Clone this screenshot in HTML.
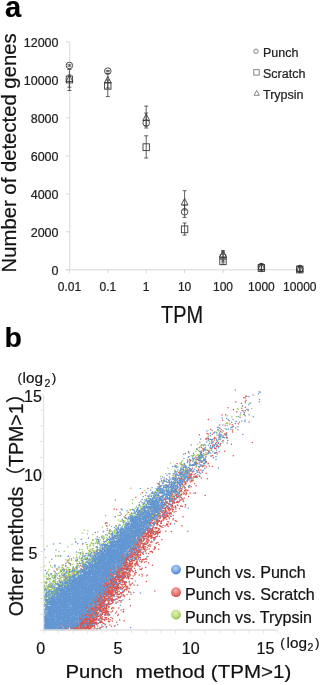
<!DOCTYPE html>
<html><head><meta charset="utf-8"><title>Figure</title>
<style>
html,body{margin:0;padding:0;background:#fff;}
body{width:321px;height:685px;overflow:hidden;}
svg{display:block;font-family:'Liberation Sans', Arial, Helvetica, sans-serif;}
text{stroke:#222;stroke-width:0.22px;}
</style></head>
<body>
<svg width="321" height="685" viewBox="0 0 321 685">
<rect width="321" height="685" fill="#fff"/>
<text x="5" y="17" font-size="29" font-weight="bold" fill="#000">a</text>
<line x1="69.8" y1="42.0" x2="69.8" y2="269.8" stroke="#d8d8d8" stroke-width="1"/>
<line x1="65.8" y1="269.8" x2="299.79999999999995" y2="269.8" stroke="#d8d8d8" stroke-width="1"/>
<line x1="65.8" y1="269.8" x2="69.8" y2="269.8" stroke="#d8d8d8" stroke-width="1"/>
<text x="58.5" y="274.8" font-size="12.5" text-anchor="end" fill="#222">0</text>
<line x1="65.8" y1="231.8" x2="69.8" y2="231.8" stroke="#d8d8d8" stroke-width="1"/>
<text x="58.5" y="236.8" font-size="12.5" text-anchor="end" fill="#222">2000</text>
<line x1="65.8" y1="193.9" x2="69.8" y2="193.9" stroke="#d8d8d8" stroke-width="1"/>
<text x="58.5" y="198.9" font-size="12.5" text-anchor="end" fill="#222">4000</text>
<line x1="65.8" y1="155.9" x2="69.8" y2="155.9" stroke="#d8d8d8" stroke-width="1"/>
<text x="58.5" y="160.9" font-size="12.5" text-anchor="end" fill="#222">6000</text>
<line x1="65.8" y1="117.9" x2="69.8" y2="117.9" stroke="#d8d8d8" stroke-width="1"/>
<text x="58.5" y="122.9" font-size="12.5" text-anchor="end" fill="#222">8000</text>
<line x1="65.8" y1="80.0" x2="69.8" y2="80.0" stroke="#d8d8d8" stroke-width="1"/>
<text x="58.5" y="85.0" font-size="12.5" text-anchor="end" fill="#222">10000</text>
<line x1="65.8" y1="42.0" x2="69.8" y2="42.0" stroke="#d8d8d8" stroke-width="1"/>
<text x="58.5" y="47.0" font-size="12.5" text-anchor="end" fill="#222">12000</text>
<line x1="69.4" y1="269.8" x2="69.4" y2="273.3" stroke="#d8d8d8" stroke-width="1"/>
<text x="69.4" y="291" font-size="12" text-anchor="middle" fill="#222">0.01</text>
<line x1="107.8" y1="269.8" x2="107.8" y2="273.3" stroke="#d8d8d8" stroke-width="1"/>
<text x="107.8" y="291" font-size="12" text-anchor="middle" fill="#222">0.1</text>
<line x1="146.2" y1="269.8" x2="146.2" y2="273.3" stroke="#d8d8d8" stroke-width="1"/>
<text x="146.2" y="291" font-size="12" text-anchor="middle" fill="#222">1</text>
<line x1="184.6" y1="269.8" x2="184.6" y2="273.3" stroke="#d8d8d8" stroke-width="1"/>
<text x="184.6" y="291" font-size="12" text-anchor="middle" fill="#222">10</text>
<line x1="223.0" y1="269.8" x2="223.0" y2="273.3" stroke="#d8d8d8" stroke-width="1"/>
<text x="223.0" y="291" font-size="12" text-anchor="middle" fill="#222">100</text>
<line x1="261.4" y1="269.8" x2="261.4" y2="273.3" stroke="#d8d8d8" stroke-width="1"/>
<text x="261.4" y="291" font-size="12" text-anchor="middle" fill="#222">1000</text>
<line x1="299.8" y1="269.8" x2="299.8" y2="273.3" stroke="#d8d8d8" stroke-width="1"/>
<text x="299.8" y="291" font-size="12" text-anchor="middle" fill="#222">10000</text>
<text x="161" y="323.2" font-size="23" fill="#111" textLength="42" lengthAdjust="spacingAndGlyphs">TPM</text>
<text transform="translate(15.8,272.4) rotate(-90)" x="0" y="0" font-size="20.3" fill="#111">Number of detected genes</text>
<circle cx="256" cy="51.3" r="2.2" fill="none" stroke="#666" stroke-width="0.8"/>
<text x="263" y="56.8" font-size="12.5" fill="#222">Punch</text>
<rect x="253.8" y="69.7" width="5.4" height="5.4" fill="none" stroke="#666" stroke-width="0.8"/>
<text x="263" y="78" font-size="12.5" fill="#222">Scratch</text>
<path d="M256.7 90.5 L259.3 95.3 L254.1 95.3 Z" fill="none" stroke="#666" stroke-width="0.8"/>
<text x="263" y="98.8" font-size="12.5" fill="#222">Trypsin</text>
<line x1="69.4" y1="64.8" x2="69.4" y2="66.2" stroke="#3a3a3a" stroke-width="0.8"/>
<line x1="67.4" y1="64.8" x2="71.4" y2="64.8" stroke="#3a3a3a" stroke-width="0.8"/>
<line x1="67.4" y1="66.2" x2="71.4" y2="66.2" stroke="#3a3a3a" stroke-width="0.8"/>
<line x1="69.4" y1="75.0" x2="69.4" y2="87.2" stroke="#3a3a3a" stroke-width="0.8"/>
<line x1="67.4" y1="75.0" x2="71.4" y2="75.0" stroke="#3a3a3a" stroke-width="0.8"/>
<line x1="67.4" y1="87.2" x2="71.4" y2="87.2" stroke="#3a3a3a" stroke-width="0.8"/>
<line x1="69.4" y1="69.5" x2="69.4" y2="90.5" stroke="#3a3a3a" stroke-width="0.8"/>
<line x1="67.4" y1="69.5" x2="71.4" y2="69.5" stroke="#3a3a3a" stroke-width="0.8"/>
<line x1="67.4" y1="90.5" x2="71.4" y2="90.5" stroke="#3a3a3a" stroke-width="0.8"/>
<circle cx="69.4" cy="65.5" r="3.3" fill="none" stroke="#3a3a3a" stroke-width="0.9"/>
<rect x="66.2" y="76.1" width="6.4" height="6.8" fill="none" stroke="#3a3a3a" stroke-width="0.9"/>
<path d="M69.4 74.9 L72.80000000000001 81.5 L66.0 81.5 Z" fill="none" stroke="#3a3a3a" stroke-width="0.9"/>
<line x1="107.8" y1="70.4" x2="107.8" y2="71.8" stroke="#3a3a3a" stroke-width="0.8"/>
<line x1="105.8" y1="70.4" x2="109.8" y2="70.4" stroke="#3a3a3a" stroke-width="0.8"/>
<line x1="105.8" y1="71.8" x2="109.8" y2="71.8" stroke="#3a3a3a" stroke-width="0.8"/>
<line x1="107.8" y1="80.0" x2="107.8" y2="96.6" stroke="#3a3a3a" stroke-width="0.8"/>
<line x1="105.8" y1="80.0" x2="109.8" y2="80.0" stroke="#3a3a3a" stroke-width="0.8"/>
<line x1="105.8" y1="96.6" x2="109.8" y2="96.6" stroke="#3a3a3a" stroke-width="0.8"/>
<line x1="107.8" y1="73.5" x2="107.8" y2="88.0" stroke="#3a3a3a" stroke-width="0.8"/>
<line x1="105.8" y1="73.5" x2="109.8" y2="73.5" stroke="#3a3a3a" stroke-width="0.8"/>
<line x1="105.8" y1="88.0" x2="109.8" y2="88.0" stroke="#3a3a3a" stroke-width="0.8"/>
<circle cx="107.8" cy="71.1" r="3.3" fill="none" stroke="#3a3a3a" stroke-width="0.9"/>
<rect x="104.6" y="82.39999999999999" width="6.4" height="6.8" fill="none" stroke="#3a3a3a" stroke-width="0.9"/>
<path d="M107.8 76.4 L111.2 83.0 L104.39999999999999 83.0 Z" fill="none" stroke="#3a3a3a" stroke-width="0.9"/>
<line x1="146.2" y1="113.0" x2="146.2" y2="128.0" stroke="#3a3a3a" stroke-width="0.8"/>
<line x1="144.2" y1="113.0" x2="148.2" y2="113.0" stroke="#3a3a3a" stroke-width="0.8"/>
<line x1="144.2" y1="128.0" x2="148.2" y2="128.0" stroke="#3a3a3a" stroke-width="0.8"/>
<line x1="146.2" y1="135.8" x2="146.2" y2="158.0" stroke="#3a3a3a" stroke-width="0.8"/>
<line x1="144.2" y1="135.8" x2="148.2" y2="135.8" stroke="#3a3a3a" stroke-width="0.8"/>
<line x1="144.2" y1="158.0" x2="148.2" y2="158.0" stroke="#3a3a3a" stroke-width="0.8"/>
<line x1="146.2" y1="106.1" x2="146.2" y2="126.0" stroke="#3a3a3a" stroke-width="0.8"/>
<line x1="144.2" y1="106.1" x2="148.2" y2="106.1" stroke="#3a3a3a" stroke-width="0.8"/>
<line x1="144.2" y1="126.0" x2="148.2" y2="126.0" stroke="#3a3a3a" stroke-width="0.8"/>
<circle cx="146.2" cy="122.9" r="3.3" fill="none" stroke="#3a3a3a" stroke-width="0.9"/>
<rect x="143.0" y="143.79999999999998" width="6.4" height="6.8" fill="none" stroke="#3a3a3a" stroke-width="0.9"/>
<path d="M146.2 113.9 L149.6 120.5 L142.79999999999998 120.5 Z" fill="none" stroke="#3a3a3a" stroke-width="0.9"/>
<line x1="184.6" y1="205.0" x2="184.6" y2="217.4" stroke="#3a3a3a" stroke-width="0.8"/>
<line x1="182.6" y1="205.0" x2="186.6" y2="205.0" stroke="#3a3a3a" stroke-width="0.8"/>
<line x1="182.6" y1="217.4" x2="186.6" y2="217.4" stroke="#3a3a3a" stroke-width="0.8"/>
<line x1="184.6" y1="223.0" x2="184.6" y2="235.1" stroke="#3a3a3a" stroke-width="0.8"/>
<line x1="182.6" y1="223.0" x2="186.6" y2="223.0" stroke="#3a3a3a" stroke-width="0.8"/>
<line x1="182.6" y1="235.1" x2="186.6" y2="235.1" stroke="#3a3a3a" stroke-width="0.8"/>
<line x1="184.6" y1="190.7" x2="184.6" y2="210.0" stroke="#3a3a3a" stroke-width="0.8"/>
<line x1="182.6" y1="190.7" x2="186.6" y2="190.7" stroke="#3a3a3a" stroke-width="0.8"/>
<line x1="182.6" y1="210.0" x2="186.6" y2="210.0" stroke="#3a3a3a" stroke-width="0.8"/>
<circle cx="184.6" cy="211.8" r="3.3" fill="none" stroke="#3a3a3a" stroke-width="0.9"/>
<rect x="181.4" y="225.9" width="6.4" height="6.8" fill="none" stroke="#3a3a3a" stroke-width="0.9"/>
<path d="M184.6 198.4 L188.0 205.0 L181.2 205.0 Z" fill="none" stroke="#3a3a3a" stroke-width="0.9"/>
<line x1="223.0" y1="252.0" x2="223.0" y2="262.0" stroke="#3a3a3a" stroke-width="0.8"/>
<line x1="221.0" y1="252.0" x2="225.0" y2="252.0" stroke="#3a3a3a" stroke-width="0.8"/>
<line x1="221.0" y1="262.0" x2="225.0" y2="262.0" stroke="#3a3a3a" stroke-width="0.8"/>
<line x1="223.0" y1="257.5" x2="223.0" y2="264.3" stroke="#3a3a3a" stroke-width="0.8"/>
<line x1="221.0" y1="257.5" x2="225.0" y2="257.5" stroke="#3a3a3a" stroke-width="0.8"/>
<line x1="221.0" y1="264.3" x2="225.0" y2="264.3" stroke="#3a3a3a" stroke-width="0.8"/>
<line x1="223.0" y1="250.7" x2="223.0" y2="258.0" stroke="#3a3a3a" stroke-width="0.8"/>
<line x1="221.0" y1="250.7" x2="225.0" y2="250.7" stroke="#3a3a3a" stroke-width="0.8"/>
<line x1="221.0" y1="258.0" x2="225.0" y2="258.0" stroke="#3a3a3a" stroke-width="0.8"/>
<circle cx="223.0" cy="257.0" r="3.3" fill="none" stroke="#3a3a3a" stroke-width="0.9"/>
<rect x="219.8" y="257.90000000000003" width="6.4" height="6.8" fill="none" stroke="#3a3a3a" stroke-width="0.9"/>
<path d="M223.0 250.4 L226.4 257.0 L219.6 257.0 Z" fill="none" stroke="#3a3a3a" stroke-width="0.9"/>
<line x1="261.4" y1="264.0" x2="261.4" y2="270.0" stroke="#3a3a3a" stroke-width="0.8"/>
<line x1="259.4" y1="264.0" x2="263.4" y2="264.0" stroke="#3a3a3a" stroke-width="0.8"/>
<line x1="259.4" y1="270.0" x2="263.4" y2="270.0" stroke="#3a3a3a" stroke-width="0.8"/>
<line x1="261.4" y1="265.0" x2="261.4" y2="271.0" stroke="#3a3a3a" stroke-width="0.8"/>
<line x1="259.4" y1="265.0" x2="263.4" y2="265.0" stroke="#3a3a3a" stroke-width="0.8"/>
<line x1="259.4" y1="271.0" x2="263.4" y2="271.0" stroke="#3a3a3a" stroke-width="0.8"/>
<line x1="261.4" y1="263.7" x2="261.4" y2="269.5" stroke="#3a3a3a" stroke-width="0.8"/>
<line x1="259.4" y1="263.7" x2="263.4" y2="263.7" stroke="#3a3a3a" stroke-width="0.8"/>
<line x1="259.4" y1="269.5" x2="263.4" y2="269.5" stroke="#3a3a3a" stroke-width="0.8"/>
<circle cx="261.4" cy="267.0" r="3.3" fill="none" stroke="#3a3a3a" stroke-width="0.9"/>
<rect x="258.2" y="264.6" width="6.4" height="6.8" fill="none" stroke="#3a3a3a" stroke-width="0.9"/>
<path d="M261.4 262.9 L264.79999999999995 269.5 L258.0 269.5 Z" fill="none" stroke="#3a3a3a" stroke-width="0.9"/>
<line x1="299.8" y1="266.0" x2="299.8" y2="271.5" stroke="#3a3a3a" stroke-width="0.8"/>
<line x1="297.8" y1="266.0" x2="301.8" y2="266.0" stroke="#3a3a3a" stroke-width="0.8"/>
<line x1="297.8" y1="271.5" x2="301.8" y2="271.5" stroke="#3a3a3a" stroke-width="0.8"/>
<line x1="299.8" y1="267.0" x2="299.8" y2="272.5" stroke="#3a3a3a" stroke-width="0.8"/>
<line x1="297.8" y1="267.0" x2="301.8" y2="267.0" stroke="#3a3a3a" stroke-width="0.8"/>
<line x1="297.8" y1="272.5" x2="301.8" y2="272.5" stroke="#3a3a3a" stroke-width="0.8"/>
<line x1="299.8" y1="266.0" x2="299.8" y2="271.0" stroke="#3a3a3a" stroke-width="0.8"/>
<line x1="297.8" y1="266.0" x2="301.8" y2="266.0" stroke="#3a3a3a" stroke-width="0.8"/>
<line x1="297.8" y1="271.0" x2="301.8" y2="271.0" stroke="#3a3a3a" stroke-width="0.8"/>
<circle cx="299.8" cy="268.8" r="3.3" fill="none" stroke="#3a3a3a" stroke-width="0.9"/>
<rect x="296.6" y="266.1" width="6.4" height="6.8" fill="none" stroke="#3a3a3a" stroke-width="0.9"/>
<path d="M299.8 264.9 L303.2 271.5 L296.40000000000003 271.5 Z" fill="none" stroke="#3a3a3a" stroke-width="0.9"/>
<text x="4.5" y="347" font-size="28.5" font-weight="bold" fill="#000">b</text>
<g fill="none" stroke-width="1.5" stroke-linecap="round"><path stroke="#d9534e" d="M63.7 626.3h0M64.2 626.7h0M70.4 627.3h0M67.8 627.7h0M65.4 626.0h0M43.7 622.6h0M68.3 629.9h0M65.5 624.1h0M65.8 624.6h0M60.7 627.4h0M52.3 628.8h0M63.9 629.8h0M51.3 612.1h0M55.4 619.2h0M43.9 629.5h0M66.7 629.6h0M70.7 629.3h0M62.6 625.1h0M71.2 629.6h0M71.4 629.2h0M62.5 629.7h0M70.8 627.9h0M45.7 629.8h0M56.0 626.8h0M62.6 628.2h0M63.5 622.7h0M62.8 625.9h0M57.0 629.9h0M46.4 609.0h0M67.0 628.9h0M60.0 624.6h0M64.1 626.2h0M66.5 628.7h0M66.2 627.6h0M70.6 629.3h0M68.7 625.8h0M67.2 628.2h0M49.6 613.6h0M65.2 621.9h0M65.7 627.1h0M69.9 630.0h0M60.6 625.2h0M63.7 624.7h0M57.1 627.4h0M65.0 628.7h0M61.1 626.7h0M68.9 627.1h0M90.9 627.9h0M90.0 621.2h0M99.7 628.5h0M92.3 626.8h0M87.5 623.4h0M93.3 629.1h0M96.7 624.3h0M88.1 628.4h0M86.5 629.5h0M87.6 620.7h0M92.9 623.1h0M45.9 597.3h0M87.8 621.2h0M92.9 620.6h0M92.2 620.4h0M80.4 619.5h0M85.5 614.3h0M83.4 624.8h0M91.0 625.7h0M85.4 615.6h0M87.9 625.5h0M93.2 621.1h0M78.2 629.1h0M80.2 620.0h0M81.0 620.0h0M96.6 630.0h0M86.5 627.5h0M97.9 628.5h0M90.2 629.8h0M91.0 627.2h0M89.4 616.9h0M77.3 627.2h0M93.3 621.6h0M88.6 621.7h0M45.5 595.4h0M87.4 616.9h0M83.8 619.8h0M79.3 618.5h0M86.1 618.5h0M82.8 625.7h0M81.3 616.9h0M94.3 624.0h0M78.1 627.4h0M84.2 629.5h0M94.3 624.0h0M51.3 585.2h0M88.0 621.0h0M87.7 626.2h0M74.7 629.9h0M85.6 623.9h0M91.0 625.6h0M45.3 570.4h0M85.9 617.1h0M88.7 618.3h0M85.8 615.6h0M46.9 595.5h0M96.3 623.7h0M88.0 621.3h0M95.7 623.2h0M93.8 623.8h0M92.5 626.5h0M90.9 626.1h0M96.2 629.0h0M91.6 629.4h0M89.9 621.3h0M80.7 629.7h0M83.9 619.7h0M82.0 614.5h0M90.6 625.2h0M94.8 627.4h0M89.2 628.1h0M72.2 627.8h0M88.7 628.6h0M97.7 626.1h0M91.2 623.6h0M86.2 621.3h0M90.2 629.5h0M83.0 616.7h0M82.9 624.2h0M84.3 629.2h0M85.5 617.6h0M88.3 622.7h0M80.4 628.0h0M87.8 622.6h0M90.6 626.7h0M85.1 620.5h0M80.7 627.0h0M86.9 614.5h0M77.4 628.4h0M86.8 628.3h0M80.2 629.1h0M80.1 626.6h0M90.0 628.0h0M76.1 627.9h0M83.2 623.6h0M89.4 616.3h0M71.2 628.0h0M81.2 623.3h0M79.5 620.1h0M91.4 621.6h0M87.9 624.7h0M72.9 628.4h0M86.7 628.3h0M75.7 628.9h0M83.3 620.1h0M91.5 620.0h0M70.7 623.5h0M85.8 625.0h0M86.8 619.0h0M86.5 619.8h0M84.0 625.1h0M87.2 622.4h0M94.8 622.5h0M73.2 624.6h0M85.2 620.0h0M89.8 629.5h0M73.1 626.0h0M87.5 614.2h0M89.7 618.6h0M89.3 619.7h0M50.0 593.4h0M87.0 617.9h0M83.2 614.5h0M84.2 626.5h0M77.5 625.6h0M70.9 622.9h0M69.6 626.2h0M85.8 628.0h0M78.4 629.7h0M91.4 621.6h0M85.7 625.7h0M91.8 624.1h0M94.8 623.5h0M84.4 619.3h0M94.4 629.3h0M85.5 623.0h0M80.7 628.8h0M86.4 629.6h0M86.0 620.1h0M77.5 629.0h0M81.1 618.9h0M81.2 626.8h0M51.7 603.5h0M80.8 625.7h0M89.1 625.9h0M85.2 627.8h0M72.3 625.8h0M88.0 616.2h0M82.9 621.0h0M86.4 613.7h0M81.6 624.5h0M83.7 627.6h0M73.7 628.3h0M80.6 625.3h0M82.2 621.1h0M76.4 629.2h0M84.6 625.0h0M85.3 627.6h0M88.8 620.8h0M88.7 629.6h0M84.8 629.2h0M83.6 629.4h0M82.5 623.3h0M74.6 628.0h0M90.0 617.7h0M80.7 628.3h0M85.1 622.3h0M85.7 619.7h0M88.7 615.6h0M81.6 629.7h0M81.1 620.0h0M89.2 622.9h0M88.3 626.9h0M83.5 624.4h0M77.1 629.7h0M61.1 586.4h0M82.0 625.2h0M83.1 627.8h0M73.7 627.4h0M78.7 627.8h0M70.3 626.7h0M86.0 616.0h0M92.2 621.7h0M73.8 625.2h0M83.3 622.2h0M93.0 625.7h0M84.4 629.0h0M85.8 614.0h0M92.2 623.8h0M86.8 623.6h0M74.4 628.7h0M72.8 624.2h0M82.3 629.3h0M84.7 629.1h0M46.8 582.0h0M82.5 616.4h0M86.0 621.0h0M92.9 623.5h0M79.1 629.7h0M96.2 624.3h0M82.4 617.1h0M72.8 622.4h0M69.2 625.7h0M89.8 622.9h0M83.0 613.5h0M88.2 615.1h0M83.6 620.5h0M92.0 622.8h0M87.4 616.4h0M79.8 628.5h0M80.4 623.3h0M80.8 624.0h0M87.1 618.1h0M85.4 615.5h0M82.8 628.9h0M84.8 618.5h0M88.8 624.1h0M54.1 595.4h0M85.8 619.8h0M78.3 625.5h0M89.2 621.4h0M81.7 617.8h0M84.0 623.5h0M72.8 626.6h0M81.7 622.5h0M80.3 623.7h0M81.9 627.6h0M86.0 628.1h0M84.2 624.4h0M83.1 619.2h0M83.4 614.4h0M89.2 624.4h0M82.4 628.7h0M77.6 629.6h0M84.6 621.4h0M75.3 626.2h0M91.5 623.4h0M88.1 627.5h0M94.6 622.4h0M90.3 623.8h0M79.8 629.3h0M92.0 629.7h0M83.7 619.1h0M82.5 619.4h0M85.5 614.6h0M83.1 616.3h0M88.9 619.4h0M88.8 618.1h0M84.1 615.3h0M85.0 615.4h0M83.8 618.7h0M89.4 625.8h0M79.1 619.4h0M83.4 623.4h0M79.0 622.5h0M46.3 594.8h0M81.6 616.9h0M79.1 626.4h0M90.0 629.3h0M83.5 624.0h0M80.7 618.4h0M76.2 620.9h0M87.4 618.6h0M88.1 620.8h0M83.9 616.2h0M86.5 626.6h0M66.3 622.8h0M79.6 623.4h0M82.2 615.2h0M84.5 627.4h0M88.4 615.3h0M83.8 622.2h0M82.1 621.5h0M78.0 624.5h0M82.0 621.7h0M81.3 625.6h0M90.8 624.9h0M87.6 619.5h0M75.1 628.1h0M78.8 626.8h0M86.6 613.7h0M77.8 628.5h0M82.5 616.2h0M95.2 622.9h0M88.9 629.7h0M81.7 620.5h0M76.8 625.2h0M76.6 626.2h0M89.5 624.0h0M88.9 625.2h0M78.9 623.7h0M87.2 621.5h0M80.2 624.4h0M82.0 622.5h0M94.0 626.2h0M87.5 627.5h0M89.6 621.1h0M76.1 627.6h0M91.4 622.9h0M81.4 622.1h0M79.7 625.4h0M84.8 628.9h0M83.9 624.1h0M92.2 625.4h0M91.1 627.7h0M94.3 625.3h0M89.2 618.6h0M86.0 624.2h0M80.1 621.7h0M87.9 624.0h0M86.2 617.8h0M72.7 627.1h0M81.8 624.1h0M79.2 620.7h0M90.4 624.0h0M82.4 615.7h0M86.2 629.0h0M69.3 620.1h0M83.6 626.9h0M90.2 622.1h0M84.8 617.5h0M73.1 629.4h0M86.3 629.0h0M85.4 618.9h0M82.8 626.0h0M90.9 620.3h0M85.3 619.7h0M89.7 626.2h0M77.6 624.2h0M81.3 621.1h0M87.2 622.0h0M86.8 615.1h0M91.2 623.4h0M79.7 613.5h0M87.5 624.4h0M84.1 627.4h0M75.8 629.0h0M81.3 619.0h0M90.7 618.1h0M79.3 618.4h0M77.8 629.3h0M87.1 626.1h0M84.8 622.8h0M82.6 626.0h0M66.3 622.9h0M91.5 622.5h0M80.8 628.4h0M90.1 619.6h0M94.2 626.6h0M87.9 624.2h0M85.3 619.1h0M90.0 619.8h0M72.9 623.7h0M92.7 622.9h0M77.5 626.8h0M93.5 621.8h0M108.3 620.9h0M104.4 605.5h0M102.1 619.8h0M102.4 612.4h0M106.2 605.7h0M96.8 609.8h0M84.6 602.2h0M66.6 577.5h0M98.5 598.4h0M104.7 615.0h0M109.9 624.9h0M96.5 601.0h0M101.5 610.7h0M101.4 618.5h0M106.2 617.6h0M69.2 563.5h0M91.8 606.7h0M102.8 612.6h0M96.9 617.4h0M108.8 611.8h0M100.8 621.1h0M90.3 610.8h0M108.7 618.9h0M103.5 623.6h0M96.9 617.1h0M98.9 597.4h0M97.7 614.0h0M99.7 599.2h0M96.7 622.6h0M93.0 612.8h0M105.0 617.4h0M107.0 608.6h0M90.0 616.2h0M103.2 604.8h0M101.8 607.2h0M69.3 571.7h0M100.6 598.8h0M103.2 602.1h0M104.4 607.0h0M99.7 603.4h0M112.6 618.4h0M112.3 620.9h0M100.9 598.5h0M101.7 618.4h0M63.4 585.3h0M99.9 602.5h0M103.6 605.7h0M98.7 605.2h0M105.9 607.1h0M99.5 610.8h0M96.2 619.3h0M95.5 604.0h0M56.8 568.9h0M106.8 611.9h0M92.8 614.5h0M95.4 608.0h0M104.7 612.3h0M97.2 601.6h0M100.6 604.9h0M90.3 608.5h0M98.9 613.1h0M98.3 619.3h0M92.4 600.0h0M100.6 614.2h0M103.6 612.3h0M91.6 608.1h0M94.7 617.7h0M102.7 601.2h0M96.9 595.2h0M91.4 615.7h0M112.8 611.1h0M95.0 602.1h0M102.1 605.3h0M98.0 613.4h0M95.8 619.4h0M104.8 612.7h0M97.0 624.1h0M91.2 599.8h0M107.7 614.6h0M91.2 599.9h0M102.4 619.0h0M100.1 609.1h0M106.7 612.9h0M92.3 614.6h0M103.6 602.8h0M105.8 618.8h0M98.3 608.8h0M99.5 597.5h0M95.1 620.4h0M92.1 608.1h0M63.9 569.5h0M102.2 602.3h0M97.1 606.9h0M55.1 577.4h0M94.4 618.1h0M100.5 608.9h0M92.9 614.8h0M100.6 610.2h0M96.9 609.1h0M91.9 612.5h0M75.6 578.3h0M64.7 569.6h0M95.3 619.8h0M106.3 604.3h0M92.4 617.0h0M94.2 617.8h0M99.5 615.9h0M94.1 610.0h0M93.8 610.7h0M61.7 574.3h0M71.5 576.8h0M101.3 605.9h0M94.5 601.0h0M86.8 608.0h0M98.2 604.0h0M59.5 576.0h0M91.8 609.7h0M100.4 599.5h0M99.8 599.7h0M102.8 613.0h0M94.9 617.6h0M91.6 613.0h0M70.7 582.0h0M104.6 615.1h0M102.4 610.7h0M101.8 611.7h0M105.0 603.9h0M104.3 604.0h0M104.1 606.5h0M93.7 602.3h0M97.7 594.7h0M104.5 602.0h0M94.2 619.7h0M102.2 599.3h0M103.8 609.2h0M94.6 606.4h0M108.9 606.4h0M97.1 616.1h0M101.9 609.3h0M109.4 614.6h0M108.7 606.8h0M86.8 608.5h0M102.8 603.4h0M98.2 600.6h0M102.7 599.3h0M101.1 597.8h0M86.9 605.9h0M88.0 611.8h0M95.0 608.7h0M111.1 612.1h0M60.8 582.1h0M51.4 573.8h0M97.1 601.8h0M95.8 610.3h0M93.9 620.7h0M94.8 608.6h0M108.7 621.6h0M100.6 602.1h0M93.1 607.5h0M105.8 604.6h0M87.2 610.8h0M108.2 615.7h0M96.4 596.6h0M103.5 608.7h0M89.7 616.1h0M104.1 610.2h0M91.8 604.0h0M105.0 601.7h0M81.0 581.6h0M89.9 610.9h0M106.9 613.0h0M100.7 597.6h0M103.2 603.8h0M74.1 573.6h0M108.4 618.7h0M96.4 608.4h0M99.6 622.0h0M92.1 609.1h0M88.1 610.5h0M97.3 595.4h0M96.1 622.5h0M105.0 611.9h0M107.2 605.4h0M87.8 613.5h0M98.0 607.1h0M106.7 619.3h0M103.0 603.5h0M98.1 607.5h0M68.6 575.2h0M106.6 626.8h0M101.6 603.5h0M105.6 609.3h0M102.2 608.6h0M72.2 572.9h0M93.7 619.7h0M95.1 615.9h0M109.3 606.7h0M102.5 608.9h0M74.5 574.8h0M93.3 619.7h0M99.3 608.4h0M101.7 622.0h0M101.6 627.1h0M89.1 613.2h0M100.3 622.7h0M107.6 613.0h0M86.9 611.0h0M103.3 600.5h0M107.9 611.5h0M102.4 616.9h0M91.4 616.9h0M93.0 618.7h0M106.2 604.9h0M99.6 607.9h0M95.9 604.9h0M101.3 618.2h0M67.1 561.9h0M105.8 609.7h0M92.3 609.0h0M101.4 615.3h0M95.0 598.3h0M106.6 605.1h0M102.2 613.5h0M94.3 608.8h0M104.6 619.5h0M96.5 606.0h0M106.3 615.0h0M101.9 606.2h0M88.7 612.1h0M96.0 621.9h0M110.3 619.7h0M98.8 607.3h0M98.3 623.4h0M94.3 619.4h0M95.1 602.1h0M94.2 606.9h0M102.6 614.2h0M101.8 609.0h0M106.5 610.3h0M99.9 601.9h0M99.3 610.1h0M98.9 601.7h0M115.0 625.8h0M94.1 611.1h0M90.6 609.7h0M103.0 600.2h0M97.6 595.5h0M89.3 613.6h0M92.7 609.9h0M98.0 601.5h0M96.9 616.2h0M102.6 603.0h0M96.6 608.9h0M102.5 614.2h0M106.4 607.8h0M96.7 616.0h0M91.6 605.7h0M98.5 598.8h0M102.9 600.9h0M99.2 600.4h0M89.4 615.6h0M89.6 611.3h0M63.9 587.6h0M96.3 615.9h0M105.3 608.7h0M97.3 614.2h0M88.2 608.7h0M108.7 607.2h0M106.1 613.3h0M91.0 615.4h0M104.9 623.9h0M101.9 614.5h0M93.4 602.1h0M96.6 620.1h0M66.8 569.9h0M87.4 606.8h0M101.1 607.3h0M91.0 608.7h0M97.9 609.4h0M92.3 617.3h0M95.0 611.9h0M91.5 607.1h0M114.6 625.9h0M95.9 613.1h0M100.6 603.4h0M104.6 601.4h0M95.9 602.5h0M94.8 608.2h0M100.1 607.6h0M105.4 624.7h0M98.7 602.0h0M96.0 599.5h0M104.4 602.5h0M96.9 618.7h0M97.1 600.0h0M95.6 606.5h0M93.0 610.8h0M55.2 572.0h0M99.1 620.2h0M94.3 614.7h0M105.9 605.3h0M88.1 607.3h0M99.8 615.4h0M101.0 599.4h0M101.0 599.5h0M105.3 614.8h0M100.4 621.6h0M89.4 614.6h0M97.0 613.0h0M95.8 606.4h0M100.6 614.6h0M97.8 599.5h0M105.7 611.6h0M92.7 619.1h0M89.2 611.5h0M102.8 606.3h0M96.2 611.5h0M88.7 610.3h0M94.7 607.4h0M104.8 610.9h0M97.4 610.8h0M97.7 598.0h0M99.6 605.4h0M92.3 612.3h0M96.8 604.5h0M96.6 605.2h0M105.4 613.9h0M96.4 607.5h0M90.8 604.9h0M93.7 612.3h0M93.3 608.1h0M92.0 617.8h0M95.9 613.8h0M93.9 604.3h0M95.8 610.7h0M102.6 613.3h0M93.1 615.7h0M111.6 608.7h0M100.6 611.5h0M85.8 610.5h0M96.8 599.6h0M103.3 609.3h0M95.6 614.6h0M100.5 611.6h0M98.2 613.0h0M97.8 603.7h0M91.5 617.1h0M97.7 607.3h0M96.8 612.8h0M96.7 616.0h0M87.9 614.6h0M106.0 607.7h0M90.2 607.7h0M101.9 603.2h0M95.0 619.1h0M100.9 617.2h0M105.0 612.3h0M91.2 615.4h0M98.0 615.1h0M92.8 603.1h0M100.0 606.6h0M106.9 606.8h0M95.5 619.7h0M90.3 615.2h0M100.9 604.1h0M95.1 604.0h0M97.0 618.0h0M99.6 610.4h0M96.7 596.8h0M93.7 610.2h0M102.2 612.4h0M101.8 600.9h0M99.0 609.4h0M101.4 606.6h0M97.2 597.6h0M100.3 597.2h0M92.8 609.7h0M104.0 602.2h0M101.6 622.3h0M104.6 608.4h0M98.8 609.8h0M96.6 607.2h0M95.0 616.0h0M90.0 614.2h0M101.3 606.4h0M95.5 619.8h0M112.6 611.1h0M65.8 565.5h0M86.5 610.5h0M94.6 613.3h0M92.8 602.2h0M106.9 608.4h0M104.3 607.4h0M96.5 613.9h0M97.9 612.7h0M103.6 606.1h0M94.8 614.6h0M100.3 604.5h0M93.5 618.1h0M92.1 617.1h0M102.5 601.0h0M94.3 610.8h0M88.4 612.4h0M93.9 606.5h0M109.7 615.2h0M104.5 604.7h0M94.6 599.4h0M100.5 604.2h0M91.7 615.3h0M103.3 603.4h0M94.3 605.2h0M96.0 601.4h0M94.6 612.8h0M94.3 610.9h0M106.5 609.1h0M91.0 599.9h0M99.1 608.6h0M55.8 555.9h0M91.7 612.4h0M98.4 616.5h0M84.8 610.2h0M95.1 604.9h0M99.6 601.2h0M91.0 614.0h0M84.1 607.6h0M93.1 608.9h0M100.7 616.4h0M95.3 619.8h0M94.1 618.2h0M97.9 599.2h0M100.1 603.7h0M99.9 618.2h0M96.1 598.8h0M89.5 608.0h0M90.6 604.2h0M99.2 599.4h0M85.9 607.6h0M103.7 610.4h0M91.4 603.4h0M116.8 622.2h0M95.5 606.0h0M91.4 610.9h0M111.5 626.3h0M87.5 614.2h0M97.7 602.9h0M100.1 627.5h0M103.9 619.5h0M98.3 620.1h0M111.1 617.4h0M95.2 600.7h0M102.5 622.5h0M97.4 597.2h0M91.4 605.9h0M101.2 606.0h0M95.0 601.3h0M99.6 597.7h0M102.1 602.2h0M91.4 618.0h0M89.5 604.0h0M95.2 619.4h0M103.9 607.9h0M100.8 600.1h0M100.5 607.6h0M86.5 606.7h0M103.8 602.8h0M105.1 612.4h0M101.7 601.7h0M90.6 603.3h0M103.0 626.7h0M96.4 618.0h0M93.2 594.4h0M99.1 604.6h0M95.3 603.3h0M87.4 605.4h0M100.1 597.2h0M108.4 613.6h0M98.6 598.9h0M98.6 595.5h0M95.8 609.8h0M117.7 615.5h0M101.9 619.4h0M119.7 619.9h0M85.9 609.6h0M93.3 613.6h0M95.5 612.3h0M109.6 621.7h0M99.9 600.6h0M100.0 606.2h0M97.7 609.2h0M65.9 580.6h0M104.8 620.6h0M97.3 602.4h0M100.3 601.1h0M102.6 600.1h0M100.0 611.3h0M64.8 577.1h0M88.2 609.1h0M99.6 611.5h0M97.8 595.6h0M103.3 605.7h0M89.9 609.2h0M97.0 605.3h0M101.1 604.7h0M106.9 610.7h0M87.4 612.2h0M85.4 607.5h0M86.1 606.9h0M103.3 585.5h0M103.6 595.5h0M118.1 598.1h0M119.8 597.4h0M117.1 590.1h0M105.9 595.5h0M110.0 598.2h0M119.4 594.3h0M115.0 586.1h0M86.9 559.1h0M105.7 592.2h0M76.8 568.6h0M108.8 596.7h0M103.3 590.3h0M89.2 563.4h0M111.0 596.3h0M123.3 591.2h0M94.6 562.8h0M113.3 594.6h0M107.2 579.1h0M78.4 572.5h0M70.6 564.5h0M114.3 587.3h0M108.1 586.7h0M119.2 597.5h0M112.5 607.7h0M115.1 583.9h0M116.5 611.9h0M102.3 598.0h0M118.0 588.5h0M100.5 596.5h0M110.9 582.2h0M108.1 591.0h0M108.2 599.4h0M118.6 587.8h0M110.2 604.0h0M108.7 596.8h0M105.7 598.7h0M108.5 593.3h0M103.8 599.2h0M74.6 569.0h0M104.6 594.7h0M117.8 601.9h0M118.6 585.4h0M108.5 583.4h0M112.9 601.0h0M105.3 596.4h0M118.1 587.9h0M120.1 597.7h0M111.4 603.6h0M109.6 594.6h0M118.6 589.0h0M111.5 583.5h0M79.6 563.2h0M117.7 584.8h0M101.5 585.2h0M115.4 591.7h0M118.1 596.7h0M124.2 620.7h0M108.7 587.7h0M85.7 559.2h0M119.2 591.3h0M114.2 596.2h0M110.5 577.8h0M107.1 587.9h0M117.4 584.9h0M121.0 602.2h0M115.8 592.2h0M108.3 589.0h0M108.5 590.6h0M118.9 588.5h0M104.4 600.7h0M110.6 604.3h0M113.0 595.0h0M104.9 584.4h0M117.8 586.5h0M102.8 591.6h0M108.2 594.9h0M88.7 555.1h0M107.7 589.7h0M107.8 585.3h0M111.1 580.4h0M113.8 584.8h0M106.2 589.3h0M105.7 588.8h0M109.0 601.6h0M110.1 586.6h0M109.7 591.4h0M109.1 594.7h0M109.8 597.1h0M105.9 596.5h0M102.1 584.9h0M124.2 595.4h0M108.8 602.6h0M99.2 593.8h0M102.2 585.5h0M116.9 585.6h0M116.0 593.3h0M116.3 584.3h0M113.2 582.4h0M119.2 591.4h0M108.2 589.2h0M109.5 576.5h0M107.8 595.8h0M106.3 587.9h0M109.8 590.9h0M123.5 611.9h0M77.1 563.4h0M114.0 589.7h0M115.1 599.7h0M106.2 599.9h0M113.2 587.1h0M112.6 591.6h0M118.4 594.6h0M105.3 596.8h0M101.2 597.2h0M112.1 588.6h0M130.5 605.8h0M108.3 583.4h0M104.6 585.9h0M115.9 590.2h0M108.3 599.2h0M108.0 600.6h0M111.7 600.6h0M108.1 588.0h0M101.9 589.1h0M109.3 592.3h0M104.0 592.9h0M102.8 582.0h0M103.3 586.8h0M109.8 592.2h0M110.1 583.7h0M109.5 592.3h0M101.6 589.8h0M110.7 586.2h0M115.0 584.2h0M113.8 607.9h0M99.8 592.0h0M119.2 600.5h0M112.6 581.5h0M118.3 588.3h0M105.6 589.8h0M105.8 592.2h0M113.7 581.4h0M110.0 579.9h0M110.5 594.8h0M112.0 587.8h0M117.7 584.5h0M121.8 596.0h0M112.3 592.0h0M119.2 588.8h0M107.9 587.7h0M100.5 595.5h0M117.4 594.3h0M104.5 583.2h0M113.3 584.3h0M111.7 584.1h0M123.0 592.6h0M105.2 599.0h0M80.1 553.1h0M117.4 587.7h0M116.4 587.2h0M100.3 593.1h0M113.0 592.3h0M109.2 575.1h0M117.0 599.2h0M117.6 586.8h0M112.3 585.2h0M124.1 590.9h0M101.0 585.5h0M116.7 588.2h0M109.7 590.4h0M104.4 592.9h0M120.1 600.7h0M106.7 596.1h0M109.1 603.2h0M108.4 591.9h0M120.0 593.8h0M111.6 590.2h0M123.5 609.4h0M88.5 577.6h0M110.8 593.8h0M109.4 577.7h0M116.0 583.7h0M106.2 594.5h0M124.1 590.7h0M115.2 582.6h0M105.9 585.7h0M68.9 560.0h0M97.4 593.0h0M104.3 591.5h0M124.2 596.5h0M115.8 594.1h0M106.7 598.3h0M105.2 598.9h0M113.0 602.6h0M111.3 600.8h0M99.7 592.0h0M116.1 592.6h0M116.1 589.7h0M109.8 580.8h0M104.6 583.1h0M101.1 592.1h0M100.5 595.4h0M113.7 596.0h0M122.3 589.0h0M104.2 598.7h0M109.5 594.6h0M112.5 599.6h0M114.3 582.5h0M113.3 595.5h0M109.2 594.7h0M109.9 600.3h0M116.0 587.4h0M109.1 603.7h0M101.6 595.8h0M99.0 586.2h0M108.7 604.7h0M101.7 583.7h0M108.0 603.6h0M113.5 591.3h0M104.6 586.5h0M110.3 587.9h0M129.6 599.2h0M101.0 592.8h0M105.1 597.8h0M111.0 591.4h0M111.1 579.9h0M108.9 578.6h0M110.1 580.3h0M104.9 587.3h0M109.4 576.1h0M104.8 597.4h0M110.4 586.1h0M117.5 593.1h0M103.2 589.3h0M110.3 590.9h0M114.5 581.2h0M111.4 587.0h0M113.5 600.4h0M104.1 590.0h0M117.2 590.4h0M118.8 608.0h0M107.4 594.2h0M108.5 576.4h0M105.0 583.1h0M111.8 581.0h0M107.3 598.8h0M104.2 596.7h0M71.6 559.1h0M116.1 586.4h0M103.6 594.7h0M123.9 595.4h0M117.5 587.4h0M117.5 591.8h0M105.3 583.4h0M115.6 588.2h0M105.3 585.3h0M113.8 594.0h0M117.8 588.3h0M102.1 596.9h0M115.2 591.3h0M123.3 611.6h0M116.1 598.7h0M111.7 587.6h0M107.1 588.3h0M111.5 595.6h0M81.6 571.9h0M111.7 588.5h0M121.1 609.9h0M111.7 596.1h0M100.0 594.8h0M110.0 592.8h0M107.5 585.6h0M116.2 589.4h0M108.5 584.4h0M114.3 582.4h0M117.0 596.0h0M101.9 589.0h0M112.2 580.4h0M114.3 588.8h0M106.2 595.5h0M102.9 592.5h0M115.0 592.3h0M104.5 593.7h0M80.3 565.4h0M106.0 591.0h0M114.3 594.8h0M115.3 581.9h0M110.0 591.1h0M105.4 593.8h0M112.0 585.3h0M107.6 584.3h0M111.4 579.3h0M109.1 584.7h0M108.9 580.2h0M101.2 594.3h0M107.7 604.2h0M99.9 595.3h0M114.1 581.2h0M82.9 566.9h0M103.5 589.8h0M99.4 593.6h0M104.4 585.5h0M121.0 587.8h0M113.5 585.8h0M127.1 594.6h0M103.1 595.8h0M110.4 598.3h0M101.7 581.4h0M104.4 600.4h0M100.5 594.6h0M107.8 592.3h0M100.0 593.7h0M107.0 579.0h0M113.8 581.0h0M99.6 592.4h0M108.3 581.4h0M100.2 593.6h0M111.1 599.0h0M99.4 586.0h0M110.0 579.1h0M120.9 588.8h0M112.0 598.4h0M108.2 600.9h0M98.0 593.1h0M120.0 587.5h0M113.2 599.6h0M112.0 578.7h0M120.4 596.4h0M112.1 593.4h0M104.1 599.3h0M104.6 598.0h0M116.7 592.8h0M103.3 593.9h0M111.9 596.3h0M102.1 597.7h0M112.3 608.1h0M111.8 594.5h0M109.9 582.5h0M108.7 590.2h0M115.8 587.6h0M112.0 601.6h0M107.4 586.5h0M106.4 582.6h0M103.7 599.7h0M102.6 585.2h0M116.9 589.3h0M110.7 584.4h0M99.1 591.2h0M105.1 588.3h0M108.2 581.5h0M116.0 602.2h0M109.3 589.2h0M110.4 581.3h0M106.7 585.1h0M108.2 598.2h0M111.8 600.5h0M120.6 592.7h0M114.2 589.6h0M112.4 581.8h0M110.5 591.9h0M107.8 588.5h0M105.5 585.1h0M114.7 587.1h0M101.6 592.0h0M103.7 593.5h0M112.7 580.3h0M116.1 582.4h0M106.8 591.3h0M107.2 594.3h0M106.6 583.7h0M108.1 582.5h0M108.2 601.4h0M103.0 593.9h0M108.9 587.6h0M107.7 582.0h0M114.1 583.9h0M110.7 592.7h0M112.0 607.9h0M109.1 597.9h0M112.6 581.2h0M97.9 589.7h0M112.7 586.8h0M105.0 599.0h0M109.3 587.2h0M112.5 579.4h0M112.7 602.9h0M112.1 597.3h0M102.1 594.8h0M113.0 599.6h0M107.9 585.1h0M111.7 584.7h0M111.6 582.8h0M107.2 592.2h0M108.3 576.1h0M114.2 587.7h0M105.9 592.4h0M103.4 596.9h0M81.1 568.4h0M106.8 578.5h0M107.5 598.2h0M101.9 586.7h0M104.0 587.4h0M106.1 592.8h0M112.8 589.5h0M106.5 587.9h0M116.4 583.7h0M106.6 600.0h0M98.9 589.9h0M121.7 594.1h0M105.7 579.0h0M121.7 592.8h0M107.5 582.3h0M108.9 586.8h0M104.8 581.3h0M111.7 588.1h0M109.8 593.5h0M111.5 591.9h0M112.2 590.4h0M108.7 592.9h0M98.7 586.8h0M111.9 582.7h0M105.3 601.3h0M111.1 596.2h0M107.2 595.3h0M106.2 591.7h0M111.2 584.6h0M102.1 592.5h0M100.1 586.4h0M112.9 586.1h0M118.2 614.2h0M106.6 577.8h0M103.4 581.2h0M107.0 573.1h0M107.2 585.4h0M105.7 600.4h0M110.0 599.6h0M99.6 595.0h0M111.1 581.8h0M105.4 590.8h0M111.2 593.4h0M120.6 587.3h0M101.7 586.2h0M123.4 594.7h0M86.5 569.3h0M110.3 589.1h0M106.8 593.1h0M112.5 589.7h0M112.7 584.1h0M115.0 590.6h0M113.3 580.1h0M112.8 595.4h0M113.6 587.4h0M119.1 597.5h0M112.3 593.0h0M120.3 571.7h0M97.0 546.7h0M125.8 563.2h0M128.1 568.9h0M136.2 572.4h0M128.6 566.3h0M127.7 573.6h0M119.8 581.1h0M117.7 574.7h0M121.1 584.5h0M116.3 581.6h0M128.5 568.3h0M123.0 558.2h0M124.6 575.4h0M130.2 585.0h0M124.7 589.7h0M121.1 575.3h0M123.2 575.3h0M115.9 579.4h0M114.5 567.6h0M127.0 563.2h0M129.3 568.1h0M122.5 584.2h0M120.1 582.9h0M113.8 567.9h0M117.4 566.3h0M113.0 575.9h0M119.1 581.7h0M120.0 574.9h0M122.5 578.9h0M116.3 567.6h0M121.6 579.1h0M127.4 574.9h0M110.5 575.1h0M133.2 576.1h0M115.5 569.9h0M121.7 579.7h0M124.3 582.9h0M120.9 568.9h0M122.5 557.8h0M122.1 586.4h0M110.5 571.8h0M122.7 582.2h0M119.0 580.2h0M119.1 580.0h0M127.5 567.7h0M126.5 569.6h0M118.2 578.8h0M126.4 582.6h0M124.8 582.7h0M123.6 573.7h0M130.4 575.0h0M122.8 577.8h0M124.0 577.5h0M118.1 579.5h0M123.4 578.5h0M111.5 573.7h0M124.2 576.7h0M116.8 580.1h0M116.4 579.5h0M121.7 579.4h0M126.5 588.9h0M126.1 564.5h0M128.4 568.2h0M121.8 572.6h0M119.2 569.2h0M111.7 575.3h0M114.4 578.3h0M128.1 572.4h0M112.6 576.7h0M89.9 551.7h0M126.7 568.0h0M123.1 576.6h0M122.6 588.6h0M124.2 559.7h0M116.4 582.3h0M95.2 557.9h0M129.8 572.2h0M127.7 577.0h0M119.5 577.2h0M120.3 576.4h0M123.3 565.7h0M108.1 572.2h0M129.9 568.6h0M122.8 567.4h0M119.9 581.8h0M127.8 569.4h0M118.8 567.9h0M129.2 571.4h0M119.3 562.0h0M129.1 575.3h0M122.1 574.4h0M114.8 578.9h0M124.3 576.6h0M113.2 572.0h0M122.8 581.6h0M126.2 587.0h0M125.2 582.7h0M127.9 576.3h0M131.2 578.4h0M114.1 569.3h0M125.6 575.8h0M113.6 570.3h0M117.4 569.4h0M115.9 566.0h0M115.2 577.0h0M127.8 588.2h0M117.7 573.7h0M118.1 576.4h0M120.5 577.2h0M117.9 573.1h0M126.8 570.2h0M92.8 540.3h0M124.1 581.5h0M123.6 561.0h0M123.5 569.9h0M123.7 574.5h0M124.5 563.8h0M118.6 577.7h0M129.3 570.2h0M134.1 585.0h0M124.6 572.2h0M126.8 564.9h0M123.1 574.3h0M118.7 581.6h0M128.5 578.3h0M125.7 568.9h0M128.9 591.8h0M125.1 581.8h0M117.5 574.9h0M112.5 575.1h0M128.7 591.3h0M124.6 567.9h0M125.0 574.4h0M123.8 571.8h0M126.8 578.3h0M124.4 562.9h0M114.4 566.2h0M122.5 568.8h0M122.8 581.5h0M110.6 570.2h0M124.5 582.7h0M128.3 573.8h0M125.6 585.7h0M115.7 579.9h0M128.6 578.7h0M124.8 564.9h0M126.5 572.8h0M126.0 566.9h0M124.2 586.7h0M128.4 577.6h0M122.0 565.0h0M125.9 561.9h0M113.2 569.5h0M119.1 570.2h0M120.6 570.4h0M123.9 562.6h0M124.3 582.2h0M124.8 577.0h0M115.4 574.1h0M115.2 577.6h0M117.0 576.7h0M133.2 571.8h0M123.3 564.1h0M124.8 583.9h0M115.4 579.3h0M117.0 572.7h0M126.2 572.1h0M118.8 575.9h0M129.1 582.1h0M125.1 573.4h0M123.9 584.7h0M129.3 588.5h0M126.1 582.2h0M115.5 572.0h0M117.9 571.1h0M123.1 573.2h0M125.1 563.4h0M116.9 576.2h0M114.4 579.9h0M123.5 569.9h0M132.5 582.9h0M122.1 572.0h0M128.9 576.8h0M125.0 576.4h0M123.2 561.8h0M119.1 571.8h0M122.7 560.8h0M121.9 576.3h0M123.0 563.7h0M116.3 576.5h0M121.4 558.9h0M127.0 586.3h0M125.0 576.9h0M116.0 570.3h0M116.3 573.2h0M121.3 572.8h0M118.6 572.3h0M119.8 576.5h0M109.1 571.0h0M131.2 584.0h0M130.1 566.5h0M130.6 568.6h0M125.5 568.4h0M118.8 574.8h0M119.9 569.1h0M127.2 567.0h0M135.4 572.3h0M127.8 586.9h0M125.1 573.9h0M126.9 567.0h0M121.5 577.3h0M125.8 565.4h0M119.4 574.8h0M126.2 587.6h0M116.6 577.2h0M125.7 584.7h0M119.0 569.7h0M125.6 575.6h0M115.5 578.8h0M128.7 565.0h0M121.1 558.8h0M126.9 590.0h0M118.0 567.8h0M130.1 585.5h0M116.8 582.4h0M121.7 566.9h0M137.6 585.3h0M125.8 564.9h0M115.2 577.7h0M120.7 582.3h0M119.6 583.5h0M123.7 576.0h0M118.7 583.9h0M129.9 565.5h0M123.6 563.4h0M124.8 566.2h0M112.8 578.0h0M121.4 560.6h0M120.3 560.3h0M126.7 567.5h0M124.9 561.4h0M123.0 580.2h0M123.4 575.2h0M125.2 589.5h0M122.1 577.3h0M121.3 568.6h0M122.8 563.4h0M131.2 568.6h0M120.8 568.3h0M117.6 573.6h0M116.9 571.7h0M94.2 553.8h0M131.0 594.2h0M130.1 569.3h0M114.3 573.9h0M118.8 572.9h0M117.3 577.3h0M113.5 565.7h0M120.9 568.0h0M122.4 567.9h0M127.4 576.0h0M125.1 575.6h0M125.1 562.7h0M113.9 567.9h0M111.5 576.5h0M120.5 564.9h0M127.5 566.6h0M111.5 568.8h0M123.4 572.7h0M106.9 561.9h0M117.2 573.6h0M117.6 576.8h0M124.9 565.3h0M122.1 562.4h0M124.5 577.8h0M109.2 574.4h0M110.5 570.5h0M121.1 579.6h0M119.6 573.1h0M116.7 574.4h0M134.8 573.4h0M113.5 564.3h0M125.2 569.6h0M112.9 577.5h0M121.5 576.3h0M120.7 580.1h0M125.4 572.4h0M121.6 570.7h0M114.6 574.6h0M131.9 570.3h0M126.8 569.1h0M118.4 575.9h0M122.6 568.5h0M96.4 551.2h0M125.3 577.1h0M132.6 578.7h0M130.5 571.0h0M120.7 582.2h0M129.6 574.4h0M132.2 570.7h0M113.7 572.9h0M122.1 567.1h0M117.6 567.3h0M117.0 562.7h0M121.6 575.4h0M113.7 570.0h0M120.3 573.2h0M116.0 576.1h0M119.0 576.6h0M119.5 570.7h0M119.3 564.1h0M127.0 562.8h0M115.9 573.5h0M125.6 577.1h0M113.9 574.3h0M122.7 578.8h0M101.0 548.7h0M115.9 570.6h0M113.4 577.8h0M121.6 572.7h0M124.0 561.0h0M89.9 551.0h0M122.5 558.9h0M110.6 574.3h0M112.1 565.2h0M127.5 570.0h0M120.5 579.3h0M125.6 566.1h0M82.8 544.0h0M127.8 574.3h0M121.8 580.7h0M128.9 592.3h0M118.7 562.4h0M123.5 587.5h0M122.8 570.6h0M119.1 568.9h0M125.3 575.4h0M119.7 572.8h0M130.9 569.5h0M120.2 572.0h0M127.6 566.4h0M124.1 564.9h0M118.4 569.3h0M121.0 562.7h0M113.3 578.8h0M133.9 592.6h0M123.9 572.2h0M117.8 571.4h0M123.5 568.6h0M122.6 581.2h0M122.9 559.3h0M117.7 572.2h0M125.5 563.0h0M124.2 568.7h0M118.4 579.6h0M122.7 570.1h0M104.6 553.2h0M115.7 571.7h0M116.3 580.9h0M120.7 569.8h0M122.2 585.9h0M111.2 570.2h0M127.7 570.0h0M122.5 573.6h0M128.3 568.0h0M123.5 563.2h0M124.5 566.6h0M119.5 576.6h0M116.6 575.2h0M127.1 573.9h0M118.9 569.5h0M113.2 576.7h0M118.0 583.6h0M134.9 575.0h0M113.5 574.7h0M127.5 564.7h0M125.4 565.8h0M111.1 573.4h0M129.8 574.1h0M118.4 571.7h0M110.0 569.1h0M117.8 575.1h0M142.2 575.9h0M126.4 561.0h0M140.4 554.1h0M126.2 558.6h0M136.3 550.5h0M137.2 542.8h0M131.7 554.4h0M133.7 547.4h0M123.5 558.5h0M136.6 544.7h0M136.3 562.0h0M137.1 559.9h0M131.3 550.8h0M138.9 552.5h0M145.8 567.4h0M138.5 546.7h0M127.2 554.9h0M147.9 556.5h0M129.5 560.4h0M137.8 543.8h0M145.1 559.0h0M122.3 554.6h0M130.2 563.5h0M140.4 546.7h0M133.4 560.4h0M132.9 555.2h0M137.9 546.7h0M126.2 558.8h0M133.2 547.6h0M140.1 554.7h0M135.6 559.4h0M133.9 547.8h0M131.6 548.1h0M143.3 551.9h0M135.7 565.7h0M129.3 549.9h0M128.0 550.9h0M131.1 561.5h0M123.7 556.8h0M135.7 542.1h0M131.0 553.4h0M131.5 566.0h0M130.4 557.6h0M127.4 555.1h0M133.5 555.0h0M135.1 563.5h0M127.6 555.6h0M129.9 555.9h0M131.4 549.3h0M133.6 547.1h0M137.7 564.8h0M135.3 548.1h0M143.4 548.6h0M134.5 560.7h0M139.4 552.2h0M125.7 557.6h0M132.0 567.3h0M138.1 551.2h0M138.7 558.8h0M133.1 552.8h0M136.7 559.7h0M125.6 560.4h0M140.1 568.9h0M133.5 545.6h0M135.6 548.9h0M130.7 561.7h0M146.2 553.3h0M126.6 555.0h0M137.6 551.7h0M131.2 539.7h0M136.5 557.5h0M122.5 557.0h0M125.1 554.9h0M134.8 553.9h0M129.0 556.2h0M116.7 535.5h0M138.3 544.2h0M136.8 563.1h0M146.9 575.7h0M126.5 551.9h0M134.0 542.5h0M131.7 545.2h0M152.5 565.3h0M133.4 548.9h0M139.2 574.9h0M131.1 561.5h0M142.0 574.3h0M140.7 550.2h0M129.4 562.2h0M129.6 561.2h0M135.6 544.6h0M138.5 552.0h0M132.3 560.9h0M132.4 539.9h0M131.2 559.4h0M139.5 550.6h0M126.1 559.5h0M135.6 552.5h0M135.5 543.9h0M141.4 562.3h0M138.8 549.6h0M138.3 544.5h0M128.5 551.9h0M135.7 545.8h0M121.7 554.2h0M113.9 538.4h0M130.3 561.7h0M106.5 525.8h0M129.8 553.7h0M140.4 555.4h0M138.1 549.6h0M124.7 558.9h0M127.2 557.6h0M138.8 550.0h0M135.4 570.5h0M133.3 547.9h0M137.7 545.6h0M127.0 555.2h0M125.7 559.3h0M118.2 548.3h0M134.5 568.3h0M129.8 550.9h0M131.0 557.4h0M135.3 555.2h0M138.1 565.6h0M110.0 529.9h0M129.3 549.9h0M136.3 554.0h0M132.7 559.8h0M129.5 549.6h0M126.0 557.2h0M130.9 548.5h0M130.6 561.6h0M132.2 545.1h0M132.7 555.7h0M141.1 561.9h0M139.5 546.6h0M123.2 538.9h0M139.7 550.5h0M137.3 554.7h0M127.6 539.2h0M136.1 550.4h0M127.0 559.7h0M137.0 548.1h0M134.0 550.0h0M134.2 558.7h0M147.2 575.1h0M126.6 553.7h0M107.2 540.2h0M130.2 553.0h0M127.2 562.4h0M135.3 547.4h0M135.3 551.9h0M131.0 535.2h0M125.4 554.1h0M145.7 558.7h0M131.6 563.7h0M133.2 542.4h0M146.2 561.4h0M128.2 559.7h0M140.1 551.8h0M130.0 564.0h0M134.9 542.1h0M138.7 550.0h0M134.0 543.5h0M130.1 553.6h0M136.9 561.6h0M129.9 563.5h0M133.2 541.9h0M130.8 565.2h0M128.4 556.8h0M139.4 545.5h0M134.8 565.0h0M135.8 546.2h0M142.2 568.3h0M129.0 563.4h0M142.8 559.5h0M137.5 550.9h0M126.7 561.5h0M132.1 566.7h0M127.3 553.2h0M137.2 562.0h0M140.1 546.5h0M134.4 554.3h0M130.7 564.6h0M143.4 554.2h0M125.7 559.5h0M134.7 557.5h0M130.8 542.6h0M128.9 556.3h0M136.5 550.0h0M136.0 552.2h0M132.0 561.8h0M106.3 522.8h0M142.0 559.9h0M135.9 550.2h0M136.3 564.0h0M140.5 551.1h0M138.0 565.0h0M139.7 566.5h0M134.0 550.1h0M125.2 558.8h0M145.2 551.4h0M116.3 538.5h0M132.7 548.7h0M139.4 557.6h0M133.8 554.4h0M136.7 554.9h0M133.6 549.2h0M141.0 552.2h0M148.7 563.0h0M134.1 554.6h0M132.2 556.4h0M135.0 548.3h0M130.8 551.2h0M129.0 559.8h0M139.0 555.9h0M132.9 566.1h0M130.9 557.0h0M128.6 557.2h0M142.5 553.3h0M137.3 561.2h0M128.9 556.6h0M130.3 549.5h0M142.1 561.6h0M144.0 549.5h0M124.1 556.2h0M132.1 553.4h0M137.5 553.3h0M124.8 553.8h0M105.4 523.6h0M126.1 561.2h0M140.5 549.9h0M131.7 555.1h0M143.8 559.6h0M132.4 563.1h0M134.2 552.8h0M128.1 554.3h0M125.2 554.5h0M138.3 552.2h0M137.4 546.6h0M141.7 547.8h0M137.8 563.9h0M139.5 560.9h0M138.1 557.0h0M136.2 549.6h0M128.6 545.0h0M146.4 581.4h0M135.1 555.4h0M126.5 552.3h0M131.6 561.1h0M126.6 560.2h0M132.8 549.9h0M126.9 548.0h0M136.2 548.8h0M136.3 543.8h0M146.8 559.2h0M138.4 554.6h0M154.8 591.0h0M131.0 555.6h0M138.8 547.9h0M136.4 548.5h0M133.5 556.9h0M136.2 558.5h0M136.1 563.6h0M138.3 554.5h0M144.4 562.3h0M129.5 551.2h0M132.6 563.8h0M128.9 554.2h0M135.1 543.7h0M129.2 564.2h0M132.1 549.0h0M128.9 558.8h0M137.4 556.1h0M140.4 559.2h0M127.7 558.9h0M133.8 552.7h0M137.8 544.7h0M132.7 551.7h0M130.2 553.5h0M134.9 553.3h0M132.0 560.2h0M130.5 547.9h0M127.2 558.0h0M127.5 562.7h0M127.5 558.9h0M116.1 525.8h0M140.0 547.9h0M135.5 558.8h0M131.8 557.4h0M119.3 536.3h0M132.7 551.2h0M141.9 549.5h0M141.4 569.4h0M142.4 547.5h0M130.3 555.0h0M126.4 559.6h0M134.2 550.8h0M127.7 556.5h0M134.8 548.9h0M122.4 555.7h0M129.5 546.6h0M132.6 549.9h0M140.0 545.3h0M137.6 554.8h0M115.1 535.3h0M135.0 565.0h0M124.1 557.0h0M130.9 547.0h0M132.4 551.0h0M134.2 545.1h0M137.2 556.1h0M139.1 549.4h0M125.9 556.2h0M130.4 557.5h0M134.0 544.3h0M136.4 551.8h0M126.6 557.2h0M131.8 551.5h0M131.2 552.6h0M125.8 549.9h0M150.5 524.9h0M153.2 534.0h0M152.6 552.1h0M148.1 537.2h0M124.3 517.1h0M157.8 533.4h0M128.9 523.1h0M148.5 537.4h0M144.6 538.6h0M135.2 512.9h0M138.8 541.6h0M150.3 532.8h0M141.9 537.3h0M139.5 537.6h0M146.6 541.1h0M158.0 542.4h0M154.8 539.6h0M155.3 537.6h0M141.2 543.8h0M147.9 532.2h0M149.2 549.0h0M148.7 536.1h0M148.6 526.2h0M143.0 547.4h0M145.4 546.5h0M143.3 539.0h0M144.6 539.3h0M138.9 540.4h0M148.1 545.5h0M151.1 542.6h0M156.5 542.9h0M153.2 531.1h0M156.1 536.8h0M157.3 536.2h0M144.0 536.5h0M140.3 539.0h0M141.1 538.7h0M154.5 539.6h0M151.1 538.5h0M149.9 530.9h0M140.9 542.2h0M145.2 550.3h0M143.6 545.4h0M140.7 532.7h0M145.9 533.2h0M149.1 528.7h0M150.8 530.8h0M148.7 553.8h0M154.7 546.8h0M136.8 539.7h0M140.6 544.1h0M158.6 549.2h0M147.3 543.0h0M150.8 542.5h0M149.1 527.2h0M148.2 539.9h0M143.9 546.5h0M147.9 539.0h0M143.2 544.4h0M121.1 513.9h0M139.6 522.8h0M144.4 532.9h0M143.9 527.8h0M144.5 548.9h0M148.2 536.8h0M152.5 537.2h0M148.4 532.7h0M135.4 535.5h0M151.1 528.7h0M144.1 549.0h0M142.2 536.4h0M137.6 537.9h0M145.4 521.0h0M148.2 530.9h0M143.8 540.6h0M139.9 541.1h0M150.3 546.0h0M154.1 549.0h0M145.2 536.4h0M138.9 534.0h0M141.9 534.9h0M145.1 542.9h0M146.3 533.3h0M134.2 535.7h0M149.9 544.4h0M148.9 546.1h0M139.7 539.6h0M143.2 532.5h0M151.7 533.0h0M141.2 541.7h0M142.2 533.3h0M152.6 530.2h0M157.8 534.8h0M151.7 551.6h0M149.2 530.7h0M138.7 538.3h0M137.3 538.1h0M141.8 542.1h0M145.9 524.4h0M139.3 539.2h0M156.5 533.1h0M149.8 532.3h0M144.0 547.9h0M151.3 533.5h0M152.0 528.9h0M143.3 520.9h0M145.8 533.6h0M145.1 533.6h0M157.7 532.8h0M145.0 543.6h0M149.3 532.2h0M157.5 532.9h0M147.2 539.2h0M144.0 543.4h0M156.1 543.6h0M140.7 539.5h0M147.1 533.3h0M150.0 551.7h0M155.7 531.4h0M150.5 534.7h0M148.0 542.1h0M147.0 529.8h0M141.0 534.2h0M154.8 534.4h0M137.8 541.4h0M143.1 535.9h0M143.5 534.0h0M142.9 545.8h0M155.7 533.1h0M128.6 512.4h0M146.2 536.9h0M146.3 544.3h0M143.0 533.7h0M144.0 531.9h0M144.9 530.7h0M147.7 529.1h0M148.3 526.0h0M147.8 531.2h0M156.5 531.6h0M155.7 534.0h0M137.4 538.8h0M151.4 537.7h0M140.2 532.3h0M152.0 535.5h0M150.6 536.8h0M144.7 544.6h0M147.5 533.0h0M154.9 534.8h0M147.0 549.4h0M149.4 525.6h0M141.3 539.4h0M135.1 537.1h0M142.5 543.6h0M146.2 538.7h0M152.3 528.8h0M152.0 531.9h0M149.8 536.2h0M132.7 533.9h0M148.6 534.5h0M154.0 549.4h0M152.9 532.1h0M153.0 532.5h0M154.8 548.3h0M147.7 529.8h0M143.0 527.9h0M143.6 540.9h0M142.1 540.7h0M157.9 533.7h0M150.6 533.8h0M143.3 537.1h0M151.3 541.3h0M152.5 529.0h0M139.2 537.4h0M155.0 538.8h0M150.8 529.4h0M116.8 509.6h0M148.6 534.7h0M141.0 540.8h0M149.3 530.3h0M145.1 548.3h0M153.6 534.0h0M145.9 536.5h0M157.1 532.7h0M148.3 528.2h0M155.5 547.7h0M158.9 544.6h0M139.3 542.4h0M137.0 531.7h0M148.7 532.0h0M140.8 540.5h0M141.9 533.7h0M148.8 535.0h0M147.7 528.3h0M149.1 540.2h0M147.8 533.6h0M151.3 551.3h0M152.4 552.6h0M138.0 527.5h0M143.0 538.6h0M153.9 538.3h0M154.0 537.5h0M149.8 535.6h0M155.4 532.7h0M135.1 538.9h0M154.3 531.6h0M140.1 522.5h0M137.6 535.7h0M144.8 534.9h0M152.9 533.9h0M152.7 528.2h0M145.6 530.0h0M146.3 541.8h0M140.2 536.1h0M151.5 531.1h0M151.3 535.4h0M149.2 530.1h0M138.9 543.3h0M132.2 529.3h0M146.3 534.2h0M162.0 539.5h0M147.0 522.1h0M147.6 524.1h0M145.3 535.9h0M142.8 546.5h0M151.2 530.6h0M149.1 523.5h0M141.5 535.9h0M143.9 539.2h0M114.2 509.0h0M143.7 537.8h0M153.9 539.4h0M144.3 532.8h0M142.2 533.9h0M148.1 534.8h0M149.1 536.4h0M138.5 535.9h0M146.6 534.7h0M147.1 523.6h0M153.7 533.2h0M152.8 530.0h0M141.5 540.3h0M141.3 542.1h0M146.1 535.7h0M153.0 537.5h0M150.8 533.0h0M144.5 539.6h0M147.6 522.0h0M147.6 543.3h0M147.3 547.5h0M151.5 536.4h0M147.6 537.0h0M152.9 542.0h0M145.0 531.5h0M150.6 532.0h0M145.3 543.2h0M148.0 528.2h0M149.3 529.2h0M147.8 540.9h0M144.0 532.4h0M163.4 510.7h0M158.1 519.2h0M159.7 516.0h0M156.7 528.5h0M160.2 531.3h0M173.1 519.7h0M165.1 518.8h0M159.8 531.7h0M161.0 505.2h0M162.4 516.6h0M160.0 511.6h0M159.4 509.9h0M161.8 510.2h0M155.5 508.2h0M153.1 517.6h0M135.9 497.3h0M159.4 513.3h0M150.7 502.5h0M142.5 492.5h0M154.0 514.3h0M157.3 519.1h0M152.3 520.7h0M157.1 512.6h0M158.8 528.9h0M152.6 516.8h0M159.9 526.0h0M154.8 523.3h0M168.4 515.9h0M150.7 523.9h0M157.6 531.9h0M156.2 527.8h0M152.7 522.9h0M163.1 507.7h0M163.0 508.1h0M153.2 523.5h0M160.3 525.7h0M162.7 514.0h0M160.7 523.3h0M165.2 513.1h0M160.6 516.8h0M146.4 517.6h0M159.0 532.5h0M149.8 519.3h0M161.8 510.6h0M161.4 526.7h0M163.0 512.1h0M169.4 518.7h0M150.6 523.1h0M157.2 505.2h0M170.3 524.2h0M155.1 527.6h0M164.2 508.3h0M160.9 515.7h0M155.1 516.9h0M166.7 519.5h0M160.7 517.1h0M169.1 517.5h0M168.0 512.1h0M167.9 521.5h0M156.4 521.0h0M162.8 527.4h0M159.6 520.7h0M169.5 514.0h0M166.3 511.8h0M164.5 512.3h0M160.2 511.3h0M166.3 516.7h0M147.1 518.0h0M157.8 520.8h0M148.1 509.9h0M157.7 514.0h0M154.2 519.4h0M164.6 513.3h0M151.9 516.1h0M175.3 520.8h0M153.3 516.9h0M140.6 512.1h0M156.3 519.3h0M159.7 518.5h0M165.6 510.9h0M160.5 506.9h0M156.9 524.2h0M154.3 524.7h0M152.8 518.8h0M149.5 522.3h0M160.1 521.5h0M151.1 522.4h0M152.6 520.4h0M144.8 509.5h0M152.8 510.5h0M167.5 524.9h0M149.0 508.9h0M150.2 524.0h0M164.5 515.0h0M151.6 525.4h0M163.1 520.6h0M155.8 508.3h0M170.5 523.5h0M160.3 517.7h0M148.1 522.0h0M157.1 525.0h0M156.8 521.4h0M158.7 516.8h0M154.4 525.0h0M150.5 518.5h0M163.6 518.9h0M149.1 521.2h0M156.9 527.5h0M153.3 500.6h0M173.1 518.8h0M165.3 515.6h0M153.0 514.2h0M168.3 521.7h0M166.5 525.1h0M160.1 521.5h0M163.0 519.2h0M167.2 513.2h0M164.8 517.3h0M156.4 515.1h0M159.0 520.8h0M160.1 532.3h0M156.6 519.0h0M160.4 526.4h0M154.5 517.9h0M168.8 513.5h0M152.8 527.1h0M162.3 507.5h0M157.6 531.3h0M153.7 514.8h0M158.0 521.4h0M153.9 515.6h0M167.5 516.2h0M157.9 522.6h0M163.5 510.4h0M166.7 523.9h0M164.3 518.1h0M171.2 516.4h0M161.6 521.4h0M161.0 510.9h0M166.9 515.8h0M166.1 517.6h0M151.8 519.6h0M160.0 518.4h0M159.2 520.9h0M159.5 525.8h0M151.4 509.8h0M165.1 525.9h0M152.5 508.4h0M159.8 525.6h0M159.7 529.3h0M157.9 524.5h0M155.0 528.9h0M171.4 531.6h0M159.1 509.9h0M166.2 514.7h0M161.6 521.0h0M163.4 516.5h0M164.9 511.0h0M154.7 516.6h0M166.4 511.1h0M158.3 530.6h0M151.7 521.1h0M163.0 525.5h0M163.7 517.7h0M165.2 509.4h0M168.2 526.4h0M159.6 515.4h0M153.5 500.3h0M154.0 515.0h0M161.9 508.6h0M160.2 514.1h0M162.6 512.2h0M150.7 515.5h0M156.9 523.0h0M157.5 513.6h0M161.4 523.2h0M159.2 513.6h0M152.3 514.6h0M158.6 528.6h0M153.8 519.1h0M157.7 517.3h0M154.3 508.8h0M160.1 511.7h0M165.9 531.2h0M155.4 514.3h0M152.4 523.3h0M156.4 520.5h0M161.6 511.3h0M157.7 523.9h0M167.4 515.1h0M156.5 516.3h0M158.0 520.8h0M163.9 516.1h0M149.8 522.6h0M161.2 521.9h0M165.4 510.4h0M162.7 514.4h0M156.8 507.2h0M158.5 515.1h0M154.2 523.6h0M152.2 518.5h0M167.9 524.1h0M164.0 514.4h0M160.5 516.3h0M159.4 529.6h0M157.8 510.9h0M156.4 523.7h0M164.3 518.5h0M155.1 515.5h0M151.1 519.2h0M160.4 517.7h0M158.2 511.8h0M150.0 522.4h0M147.2 520.6h0M155.1 514.0h0M157.6 522.8h0M157.6 506.7h0M154.7 521.7h0M154.4 518.8h0M150.4 524.0h0M164.0 517.2h0M165.7 512.3h0M154.6 513.7h0M179.3 501.6h0M172.7 503.7h0M166.0 503.8h0M169.7 499.0h0M147.9 488.5h0M179.4 495.2h0M168.6 486.6h0M185.7 505.1h0M172.4 511.2h0M167.4 502.1h0M171.4 508.0h0M175.6 499.3h0M171.4 494.6h0M181.3 494.9h0M174.2 498.6h0M156.1 495.1h0M178.4 495.9h0M179.5 508.8h0M172.9 501.1h0M168.7 509.4h0M174.6 499.1h0M177.8 505.4h0M168.3 509.8h0M176.6 521.2h0M171.3 501.1h0M168.0 507.2h0M176.1 489.5h0M180.6 506.0h0M165.0 508.4h0M168.3 504.1h0M171.2 514.1h0M175.8 489.2h0M172.7 494.4h0M175.4 498.9h0M165.8 501.8h0M165.4 504.5h0M165.6 499.8h0M180.5 497.1h0M162.1 502.6h0M170.2 492.8h0M184.1 498.3h0M167.9 508.7h0M162.8 504.1h0M166.5 506.2h0M169.3 497.8h0M172.3 509.5h0M166.1 507.7h0M171.8 495.9h0M176.3 502.5h0M170.9 506.1h0M164.0 505.4h0M169.3 510.5h0M173.9 507.6h0M157.5 489.3h0M171.9 491.4h0M172.5 506.4h0M169.7 499.8h0M177.3 504.9h0M172.3 500.6h0M165.6 507.7h0M181.5 497.8h0M161.5 501.1h0M173.3 502.4h0M165.0 504.2h0M173.0 509.5h0M172.0 508.0h0M170.1 504.5h0M168.0 499.0h0M175.5 506.7h0M166.5 505.7h0M164.8 499.4h0M166.2 487.7h0M158.8 484.3h0M168.1 506.1h0M177.4 494.2h0M171.7 504.7h0M176.6 496.2h0M176.6 495.6h0M183.4 501.6h0M174.7 489.2h0M175.9 498.9h0M175.3 505.9h0M169.8 492.0h0M175.1 491.9h0M166.4 479.1h0M164.0 504.7h0M182.0 525.7h0M172.3 498.6h0M178.4 502.5h0M171.3 513.9h0M176.5 491.0h0M172.4 500.9h0M169.4 500.9h0M167.3 496.8h0M165.5 499.6h0M176.6 494.8h0M162.6 492.3h0M175.9 511.4h0M173.6 496.3h0M172.8 499.3h0M166.1 498.8h0M169.3 507.5h0M177.1 501.5h0M172.2 492.2h0M172.7 502.1h0M177.2 502.1h0M170.6 509.5h0M175.8 509.1h0M179.8 500.3h0M174.9 490.4h0M169.9 512.3h0M170.0 501.3h0M177.1 501.7h0M167.3 506.2h0M177.0 502.2h0M164.9 503.9h0M162.9 483.1h0M165.6 500.7h0M159.0 483.5h0M182.5 506.5h0M168.6 492.4h0M166.7 502.6h0M173.5 501.1h0M177.4 492.9h0M178.2 496.2h0M170.2 492.1h0M169.0 503.3h0M160.3 496.4h0M177.2 497.7h0M171.3 500.2h0M172.0 506.2h0M179.1 496.0h0M172.8 497.9h0M183.6 501.3h0M173.2 515.4h0M158.7 495.7h0M170.2 513.1h0M185.2 507.0h0M165.0 498.8h0M174.0 511.9h0M159.5 484.9h0M185.4 504.5h0M181.0 500.1h0M167.5 498.1h0M183.0 516.8h0M169.9 497.4h0M169.9 510.3h0M179.1 497.9h0M172.4 505.7h0M170.6 509.4h0M162.6 497.6h0M171.3 493.9h0M173.4 509.4h0M174.5 498.0h0M169.7 508.4h0M169.5 497.9h0M154.2 496.5h0M165.6 509.3h0M166.0 484.8h0M169.7 503.4h0M175.2 495.1h0M165.9 503.2h0M175.8 507.4h0M180.6 495.1h0M165.4 509.0h0M182.1 499.1h0M179.9 499.9h0M182.9 499.5h0M161.1 502.3h0M173.1 490.7h0M164.1 502.5h0M174.2 503.2h0M168.8 509.1h0M173.5 487.0h0M169.4 504.5h0M175.0 490.5h0M173.2 496.2h0M174.6 502.3h0M172.0 505.7h0M166.4 488.5h0M163.5 486.9h0M175.7 490.3h0M176.6 491.8h0M175.8 499.5h0M178.0 496.8h0M177.6 501.5h0M165.3 503.2h0M172.6 497.0h0M163.7 505.1h0M171.3 512.9h0M181.2 506.0h0M171.1 498.8h0M180.1 491.6h0M184.6 493.8h0M184.5 490.5h0M180.8 469.9h0M193.0 480.4h0M184.6 487.9h0M190.1 492.9h0M179.1 489.9h0M175.7 475.7h0M177.1 463.5h0M187.7 471.9h0M180.7 490.3h0M183.1 478.9h0M177.3 484.3h0M180.1 472.8h0M190.3 481.9h0M184.8 473.3h0M185.9 494.8h0M187.3 477.5h0M185.6 482.0h0M179.5 485.3h0M179.9 478.7h0M193.2 478.0h0M184.5 481.4h0M177.3 482.8h0M181.4 490.4h0M179.0 478.1h0M187.9 476.2h0M173.1 475.6h0M185.8 472.1h0M195.6 492.9h0M191.1 486.7h0M188.3 472.7h0M194.0 493.3h0M180.7 470.4h0M185.4 490.9h0M182.0 489.1h0M179.9 488.0h0M187.7 473.3h0M181.9 491.8h0M194.6 483.8h0M179.6 492.9h0M181.2 478.4h0M175.6 486.3h0M187.4 490.6h0M187.7 480.3h0M175.1 480.5h0M175.4 466.3h0M190.7 475.8h0M185.2 483.2h0M188.2 478.3h0M186.3 492.6h0M191.2 480.7h0M180.2 486.8h0M189.8 473.9h0M180.0 475.3h0M179.5 491.7h0M186.3 493.0h0M183.8 479.7h0M177.5 486.6h0M189.6 473.4h0M190.9 475.0h0M190.1 475.3h0M181.2 464.4h0M183.6 467.2h0M182.5 484.3h0M181.1 484.5h0M189.6 485.4h0M177.8 479.2h0M182.0 473.3h0M190.5 474.8h0M196.2 485.8h0M169.2 481.2h0M184.9 484.8h0M191.1 479.0h0M181.8 494.0h0M179.4 485.3h0M185.8 490.8h0M177.8 487.7h0M181.6 477.8h0M185.9 470.5h0M192.1 480.6h0M183.7 481.7h0M180.7 482.5h0M188.1 475.2h0M188.0 479.5h0M183.9 492.2h0M189.2 486.0h0M177.6 482.5h0M187.3 470.1h0M185.9 489.4h0M185.0 482.5h0M191.7 477.9h0M181.3 473.8h0M191.9 481.3h0M175.5 479.6h0M189.0 487.6h0M185.3 487.8h0M188.7 478.6h0M183.2 485.2h0M178.8 472.5h0M179.7 481.0h0M183.1 486.7h0M173.6 477.8h0M188.6 496.4h0M189.2 477.6h0M180.2 479.7h0M187.2 481.6h0M183.1 473.9h0M180.8 488.3h0M186.1 483.7h0M205.2 495.4h0M186.7 493.6h0M185.8 482.8h0M187.9 490.5h0M190.5 477.6h0M184.4 479.9h0M183.4 493.9h0M191.4 473.9h0M202.2 472.3h0M206.2 473.2h0M204.6 460.5h0M197.4 470.9h0M193.9 476.5h0M212.5 466.6h0M197.2 449.2h0M196.6 459.0h0M188.2 470.2h0M199.2 475.9h0M192.5 471.9h0M200.8 470.1h0M194.8 464.6h0M197.0 476.8h0M198.5 469.3h0M200.7 454.3h0M199.8 466.6h0M190.8 471.1h0M193.5 459.0h0M204.8 465.7h0M198.6 460.4h0M199.1 472.0h0M198.8 457.3h0M208.1 463.8h0M196.1 467.0h0M201.1 462.3h0M192.4 465.1h0M185.4 453.5h0M205.5 460.0h0M207.3 478.7h0M195.5 476.6h0M209.2 466.0h0M199.7 455.2h0M199.3 456.0h0M198.8 470.3h0M199.9 460.4h0M184.3 464.3h0M202.2 461.9h0M190.2 460.9h0M196.1 475.7h0M202.2 466.2h0M192.4 468.3h0M197.4 459.6h0M196.0 477.2h0M201.5 477.9h0M197.1 463.3h0M194.3 474.4h0M205.2 458.4h0M206.6 461.7h0M202.8 466.8h0M205.6 462.2h0M206.3 467.0h0M196.4 462.3h0M190.0 470.1h0M196.0 462.0h0M203.8 463.8h0M195.8 464.1h0M194.8 477.3h0M197.2 476.9h0M195.3 457.2h0M206.0 462.6h0M199.1 458.5h0M189.6 468.3h0M193.7 465.2h0M192.0 474.3h0M201.0 453.9h0M190.7 460.5h0M189.6 459.6h0M199.4 460.0h0M201.8 456.9h0M186.1 468.0h0M208.4 463.4h0M199.1 464.0h0M199.9 476.4h0M188.6 452.5h0M187.7 460.7h0M201.4 445.0h0M208.7 451.5h0M211.6 443.3h0M217.7 446.1h0M219.0 446.6h0M207.0 454.1h0M208.3 438.6h0M206.7 438.6h0M215.0 448.8h0M214.4 439.9h0M203.3 451.1h0M215.9 438.3h0M212.8 444.9h0M213.2 441.7h0M214.5 453.1h0M215.6 443.8h0M212.6 455.6h0M206.8 439.1h0M205.6 439.1h0M214.1 438.2h0M205.7 454.4h0M208.5 439.1h0M216.2 442.4h0M200.7 451.9h0M220.4 445.0h0M207.0 433.5h0M218.4 442.7h0M216.0 448.3h0M208.2 434.1h0M212.2 442.5h0M211.1 456.1h0M215.5 453.1h0M201.5 450.9h0M214.6 437.4h0M210.7 448.5h0M224.7 451.2h0M214.5 448.0h0M199.4 434.8h0M203.1 449.5h0M212.7 445.2h0M212.3 434.3h0M216.5 446.4h0M203.0 448.5h0M220.7 443.6h0M216.8 452.5h0M201.4 447.4h0M203.2 445.7h0M203.4 450.0h0M220.0 428.3h0M223.0 431.1h0M226.3 437.1h0M219.2 437.3h0M229.9 423.9h0M223.5 437.2h0M223.1 440.5h0M220.1 439.5h0M222.0 415.0h0M225.3 434.9h0M210.8 429.2h0M232.2 424.7h0M231.5 444.2h0M226.9 437.9h0M232.8 426.7h0M214.9 432.1h0M225.2 425.2h0M232.6 430.1h0M229.2 420.7h0M225.9 433.6h0M233.2 455.8h0M208.3 419.4h0M232.6 432.1h0M219.7 424.9h0M221.7 435.7h0M224.3 433.9h0M222.7 420.3h0M226.6 432.9h0M220.8 431.7h0M217.9 430.0h0M245.3 407.3h0M233.3 409.6h0M236.8 411.7h0M235.8 402.0h0M244.0 414.4h0M249.1 422.0h0M240.0 417.3h0M241.8 408.2h0M242.2 410.6h0M228.1 407.8h0M241.5 403.2h0M238.3 423.8h0M225.7 414.8h0M252.3 442.5h0M248.4 410.1h0M244.4 412.6h0M243.8 397.7h0M245.2 398.1h0M246.8 396.2h0M245.8 396.3h0M245.3 401.8h0M246.1 400.3h0"/>
<path stroke="#9cc85a" d="M68.1 628.7h0M45.8 611.0h0M46.5 618.4h0M47.7 615.4h0M45.8 605.1h0M45.7 606.9h0M66.7 623.7h0M45.6 609.7h0M43.7 609.9h0M46.6 603.9h0M47.3 604.4h0M58.6 624.4h0M55.2 620.5h0M43.7 618.2h0M53.6 625.9h0M46.7 613.3h0M44.9 606.2h0M44.7 603.9h0M44.9 602.6h0M46.6 603.1h0M43.6 603.0h0M45.9 601.3h0M54.6 621.7h0M46.6 611.7h0M45.4 612.1h0M56.1 615.9h0M53.0 609.9h0M46.8 609.2h0M45.5 602.0h0M58.0 629.4h0M45.1 604.3h0M48.7 618.2h0M44.7 625.6h0M52.0 623.7h0M46.6 583.7h0M49.4 597.2h0M44.8 587.0h0M48.0 589.6h0M53.4 588.4h0M52.6 588.7h0M78.3 626.8h0M46.6 588.9h0M46.2 598.8h0M44.2 576.8h0M58.2 587.7h0M48.6 587.6h0M53.7 587.4h0M50.7 584.2h0M51.0 593.0h0M55.0 592.5h0M47.9 595.6h0M60.1 598.8h0M43.6 581.7h0M56.7 590.2h0M52.3 595.2h0M59.8 587.2h0M53.9 591.9h0M44.0 575.6h0M51.6 584.0h0M48.5 574.8h0M62.1 587.5h0M48.7 579.7h0M52.4 577.3h0M49.6 597.1h0M52.3 577.1h0M46.5 593.1h0M56.2 601.2h0M55.2 596.8h0M47.9 578.5h0M44.9 590.1h0M81.5 613.5h0M55.5 585.5h0M43.9 586.9h0M54.4 596.8h0M45.2 588.1h0M54.2 590.6h0M43.7 582.4h0M53.1 593.8h0M59.4 598.9h0M54.9 587.8h0M44.8 585.7h0M48.6 586.9h0M53.0 581.9h0M50.2 579.0h0M58.4 586.7h0M51.6 587.5h0M47.7 579.6h0M44.1 599.1h0M55.2 591.2h0M51.1 586.1h0M52.6 581.4h0M54.7 589.7h0M46.5 579.0h0M48.8 598.1h0M51.8 592.7h0M44.0 590.2h0M60.6 590.3h0M50.4 598.1h0M56.1 588.7h0M46.7 601.1h0M46.8 586.1h0M88.4 622.1h0M51.5 583.3h0M49.8 581.2h0M52.6 595.7h0M96.1 628.8h0M46.6 592.9h0M45.2 588.6h0M54.9 580.8h0M60.2 597.2h0M58.6 590.6h0M50.0 595.3h0M48.6 574.5h0M44.2 598.1h0M51.4 583.7h0M56.5 591.4h0M49.1 594.1h0M47.2 586.4h0M45.2 588.1h0M48.3 578.1h0M48.2 595.2h0M47.7 587.9h0M51.5 589.6h0M48.0 599.2h0M58.6 592.2h0M47.3 597.1h0M43.7 584.1h0M55.8 595.5h0M44.8 592.1h0M50.6 593.4h0M49.0 584.4h0M52.5 584.3h0M54.5 588.4h0M58.4 585.9h0M45.7 593.6h0M43.7 580.9h0M50.6 597.5h0M49.1 589.5h0M55.0 582.8h0M50.3 589.7h0M49.5 589.7h0M91.2 629.5h0M58.5 583.8h0M53.1 591.2h0M69.3 623.2h0M43.9 598.5h0M48.5 595.1h0M47.9 586.1h0M54.3 582.0h0M46.0 589.3h0M44.6 582.2h0M49.4 590.2h0M50.3 587.4h0M46.7 596.0h0M53.7 593.5h0M44.9 597.2h0M48.2 591.5h0M55.7 583.6h0M56.9 587.9h0M53.4 578.2h0M46.2 576.7h0M55.5 582.1h0M43.9 584.5h0M51.7 591.9h0M46.1 582.0h0M48.0 594.2h0M47.6 596.5h0M53.2 581.0h0M50.6 604.5h0M54.4 599.2h0M45.7 598.9h0M51.1 585.4h0M47.9 588.6h0M46.4 597.7h0M46.3 574.3h0M58.0 592.5h0M56.4 592.2h0M44.1 592.8h0M55.3 592.9h0M60.8 588.4h0M53.1 587.9h0M49.0 594.2h0M55.1 593.4h0M51.1 590.0h0M59.4 587.5h0M49.0 589.9h0M44.2 588.6h0M48.9 575.2h0M54.7 581.8h0M47.3 587.3h0M44.3 586.9h0M46.0 590.8h0M54.6 584.5h0M57.5 592.6h0M50.6 584.4h0M50.8 597.9h0M56.5 596.0h0M55.7 581.8h0M45.6 595.5h0M49.1 596.1h0M48.3 600.6h0M57.6 593.1h0M70.8 575.5h0M71.0 575.9h0M57.5 574.9h0M45.5 557.5h0M54.5 578.5h0M71.1 574.4h0M64.7 573.7h0M63.3 583.7h0M67.8 570.9h0M60.5 570.0h0M57.1 570.3h0M71.9 576.8h0M69.8 571.5h0M62.1 565.2h0M61.9 567.8h0M60.1 582.0h0M58.2 573.2h0M55.1 578.9h0M60.5 571.5h0M85.2 609.5h0M62.8 572.5h0M60.4 578.0h0M59.2 568.0h0M68.4 574.3h0M68.7 584.5h0M72.6 567.9h0M70.4 575.6h0M69.8 569.4h0M66.2 572.0h0M68.7 582.2h0M63.6 575.2h0M59.7 572.8h0M69.0 579.0h0M74.0 573.0h0M65.2 584.5h0M60.4 583.5h0M67.6 579.3h0M78.2 574.1h0M76.1 575.5h0M64.9 574.8h0M94.6 604.9h0M55.9 576.7h0M63.0 573.4h0M61.7 580.7h0M67.1 585.5h0M78.9 581.1h0M60.7 571.5h0M73.0 585.4h0M70.0 582.5h0M66.7 577.9h0M66.1 569.0h0M70.3 570.0h0M62.6 583.9h0M60.7 578.9h0M71.0 572.1h0M61.9 575.0h0M67.5 580.6h0M73.7 570.7h0M61.3 577.4h0M70.6 576.7h0M66.0 584.2h0M61.4 580.7h0M78.3 579.5h0M64.1 569.8h0M90.8 600.2h0M67.1 579.2h0M66.2 571.5h0M63.4 568.5h0M65.7 585.4h0M68.8 567.8h0M47.1 546.0h0M75.4 576.6h0M67.4 578.6h0M71.8 582.0h0M72.9 570.4h0M68.3 576.8h0M55.0 577.3h0M65.5 584.2h0M65.3 572.4h0M74.3 573.2h0M65.7 581.1h0M61.8 570.3h0M64.8 573.5h0M76.1 571.5h0M65.5 580.9h0M67.2 584.7h0M62.8 585.3h0M108.7 609.3h0M68.2 575.7h0M58.1 556.1h0M72.9 585.9h0M66.2 572.4h0M76.3 572.6h0M64.9 580.3h0M68.9 574.1h0M76.9 571.6h0M54.0 577.6h0M60.7 585.0h0M60.3 584.6h0M74.5 575.3h0M78.6 574.7h0M73.2 579.8h0M78.0 572.7h0M68.2 572.5h0M63.2 583.7h0M48.9 569.5h0M62.1 577.0h0M64.4 574.1h0M51.9 575.8h0M62.9 567.8h0M54.6 575.8h0M93.7 616.0h0M47.9 571.7h0M68.8 580.6h0M59.2 580.2h0M72.3 584.3h0M62.2 566.9h0M58.9 555.8h0M70.4 585.4h0M53.2 575.7h0M74.8 577.4h0M64.3 570.3h0M74.4 572.6h0M49.4 562.1h0M80.4 582.7h0M44.6 565.9h0M69.4 574.7h0M59.7 578.7h0M63.1 577.3h0M55.6 579.6h0M73.4 576.6h0M67.2 567.6h0M73.6 575.1h0M72.9 569.8h0M66.9 582.5h0M69.5 570.4h0M63.1 575.4h0M74.6 576.7h0M76.7 573.4h0M63.3 570.7h0M70.5 565.6h0M69.0 587.3h0M71.7 571.5h0M68.9 587.1h0M68.3 569.5h0M55.6 575.6h0M67.4 581.1h0M61.2 583.1h0M68.8 585.4h0M64.6 583.2h0M66.7 575.8h0M75.2 571.2h0M65.8 582.0h0M64.7 578.9h0M79.1 580.2h0M68.8 592.2h0M70.6 581.4h0M65.8 559.7h0M78.7 576.7h0M74.5 571.6h0M75.1 571.4h0M66.2 585.4h0M73.3 568.5h0M65.3 577.4h0M57.6 582.0h0M62.6 584.9h0M69.2 577.2h0M65.7 566.1h0M55.4 565.8h0M67.9 573.3h0M70.1 574.9h0M65.9 579.2h0M72.2 571.8h0M75.8 575.7h0M61.9 581.1h0M60.5 556.1h0M63.7 579.4h0M55.0 574.2h0M75.1 570.0h0M57.8 581.8h0M63.5 580.9h0M92.4 600.9h0M69.5 580.7h0M59.2 578.5h0M78.9 580.3h0M52.2 567.3h0M69.1 579.2h0M74.0 578.7h0M67.5 585.5h0M69.4 572.7h0M61.4 570.0h0M70.4 576.6h0M63.6 579.3h0M50.7 565.8h0M73.7 573.0h0M64.8 589.8h0M57.8 569.2h0M69.5 577.6h0M63.8 580.8h0M55.3 572.8h0M99.4 614.7h0M61.7 586.0h0M69.9 585.8h0M67.1 589.7h0M70.0 577.3h0M71.8 572.1h0M75.6 560.6h0M89.2 559.0h0M81.8 562.3h0M77.8 567.2h0M90.7 555.4h0M89.7 561.6h0M82.7 561.3h0M91.0 559.2h0M87.1 569.5h0M90.4 563.0h0M91.3 556.7h0M82.1 558.3h0M85.0 558.7h0M84.1 565.8h0M90.8 560.0h0M92.7 557.4h0M89.1 567.8h0M84.5 567.6h0M73.7 557.7h0M87.9 553.2h0M81.0 560.2h0M78.4 571.7h0M85.9 553.5h0M85.5 567.4h0M83.5 562.2h0M77.7 571.0h0M85.6 566.5h0M86.5 559.0h0M71.6 560.6h0M85.4 569.5h0M82.6 556.7h0M67.9 556.5h0M76.5 557.3h0M82.6 552.0h0M89.8 562.3h0M93.6 561.7h0M83.0 562.6h0M67.4 560.3h0M75.9 558.9h0M86.4 557.7h0M86.3 560.0h0M83.2 564.7h0M83.3 569.6h0M80.6 554.5h0M82.0 549.6h0M93.2 559.3h0M84.2 564.3h0M75.0 538.8h0M83.5 556.2h0M72.0 544.3h0M75.9 567.3h0M83.5 563.3h0M83.4 553.2h0M102.1 595.4h0M77.5 567.3h0M87.3 561.8h0M83.0 554.9h0M83.1 563.1h0M85.2 564.0h0M78.3 552.5h0M88.0 556.3h0M79.2 561.7h0M93.7 559.4h0M101.2 593.0h0M68.8 560.1h0M91.7 556.0h0M79.6 549.5h0M110.0 576.9h0M89.4 553.9h0M89.0 554.4h0M69.6 558.3h0M83.5 574.2h0M94.8 561.2h0M84.0 556.5h0M83.6 561.5h0M83.4 567.4h0M108.5 577.8h0M76.4 566.5h0M75.6 541.3h0M77.4 566.1h0M83.9 559.5h0M77.4 566.7h0M89.6 558.8h0M81.0 558.7h0M95.0 561.9h0M73.4 566.7h0M91.8 558.2h0M92.9 566.1h0M83.0 565.1h0M89.5 554.9h0M85.4 565.2h0M79.5 566.9h0M92.6 564.1h0M88.0 559.7h0M76.6 555.1h0M89.9 560.8h0M85.4 564.6h0M91.4 561.8h0M98.4 589.6h0M69.0 562.4h0M83.0 565.8h0M83.2 563.1h0M77.0 557.2h0M84.7 565.0h0M83.6 559.2h0M76.6 571.0h0M78.3 564.1h0M80.9 570.1h0M64.2 551.3h0M77.1 571.3h0M85.0 565.7h0M76.5 561.6h0M77.0 565.2h0M77.6 559.5h0M88.6 553.0h0M88.5 554.9h0M85.9 568.1h0M72.8 564.2h0M87.2 562.3h0M84.8 568.3h0M79.8 570.1h0M77.2 560.6h0M91.7 568.4h0M77.8 571.4h0M88.2 560.7h0M59.0 551.6h0M90.4 568.4h0M90.0 559.4h0M77.5 559.2h0M83.3 561.6h0M76.4 568.0h0M89.5 562.4h0M76.0 568.1h0M92.5 557.9h0M87.8 565.5h0M87.5 569.5h0M68.3 561.9h0M89.6 558.1h0M67.9 546.9h0M83.4 561.2h0M83.2 561.7h0M91.8 559.8h0M92.3 562.3h0M84.8 558.3h0M82.5 553.8h0M79.6 556.6h0M83.5 573.8h0M76.7 568.3h0M82.7 558.1h0M82.2 563.7h0M79.9 570.9h0M92.2 549.0h0M89.8 546.8h0M98.0 555.8h0M98.8 554.1h0M92.8 554.8h0M97.6 532.1h0M99.8 547.5h0M107.8 566.6h0M108.5 545.8h0M116.3 565.8h0M100.3 539.7h0M88.6 550.6h0M90.1 545.4h0M107.1 551.2h0M87.9 530.8h0M98.2 539.4h0M95.1 551.3h0M90.9 551.7h0M94.0 551.8h0M97.5 551.8h0M93.3 548.4h0M91.1 542.7h0M96.0 542.4h0M107.6 550.9h0M97.7 552.2h0M98.2 557.7h0M106.5 546.4h0M86.5 544.8h0M99.6 551.9h0M99.2 550.6h0M99.6 543.8h0M92.6 540.5h0M103.1 548.0h0M98.5 554.6h0M111.1 564.0h0M97.4 549.3h0M103.2 551.3h0M103.4 539.4h0M105.1 543.9h0M96.9 560.4h0M94.4 555.4h0M99.0 558.0h0M97.9 557.3h0M101.3 543.9h0M98.2 550.0h0M130.9 567.5h0M92.7 534.4h0M105.7 546.8h0M104.4 538.1h0M111.6 546.4h0M97.1 549.1h0M105.5 547.4h0M90.1 549.3h0M123.0 559.5h0M99.2 543.5h0M91.8 549.3h0M93.0 539.8h0M97.3 557.7h0M102.5 547.4h0M107.0 548.1h0M96.7 540.6h0M96.2 542.1h0M123.1 566.2h0M97.9 542.3h0M106.4 541.8h0M101.1 551.9h0M92.2 543.6h0M103.5 555.3h0M95.2 557.0h0M93.1 551.8h0M93.4 556.4h0M87.5 548.7h0M97.3 550.2h0M103.3 551.7h0M99.8 551.3h0M107.4 548.8h0M93.6 545.7h0M106.1 549.2h0M103.9 545.8h0M120.6 572.5h0M135.6 574.4h0M102.8 545.0h0M104.7 548.3h0M97.7 542.8h0M104.2 538.3h0M99.2 537.6h0M96.2 542.6h0M104.0 558.2h0M87.2 547.2h0M102.5 549.3h0M96.0 558.5h0M92.2 550.3h0M96.4 547.3h0M95.8 543.4h0M87.4 533.9h0M93.6 552.4h0M95.5 553.0h0M82.8 532.9h0M104.3 551.5h0M87.4 546.8h0M87.3 544.6h0M99.8 547.7h0M104.6 546.6h0M106.7 549.5h0M93.1 545.5h0M121.8 557.8h0M90.2 544.3h0M94.8 557.2h0M84.3 530.1h0M101.9 550.1h0M93.3 553.2h0M108.1 542.5h0M95.0 557.3h0M97.0 561.5h0M95.7 554.3h0M101.5 536.3h0M93.9 550.4h0M115.8 526.1h0M129.0 541.1h0M108.4 542.2h0M118.2 537.0h0M119.0 538.0h0M103.7 531.3h0M115.3 544.1h0M116.1 540.6h0M119.8 529.7h0M126.5 540.3h0M136.4 556.8h0M121.7 528.0h0M122.4 534.3h0M125.7 529.9h0M126.1 549.5h0M111.4 526.6h0M112.3 544.3h0M118.4 535.3h0M110.3 541.8h0M108.4 533.0h0M111.8 530.9h0M112.5 535.4h0M110.5 531.3h0M119.2 524.3h0M107.3 526.0h0M107.6 528.5h0M109.7 539.0h0M114.2 540.8h0M123.9 530.6h0M118.1 534.3h0M102.4 536.0h0M120.2 535.4h0M124.9 539.0h0M121.1 528.5h0M124.0 529.5h0M109.0 542.9h0M119.4 547.5h0M116.2 532.2h0M111.2 534.9h0M123.0 528.5h0M107.4 523.1h0M110.7 534.6h0M109.4 542.9h0M114.9 537.4h0M109.7 540.3h0M110.2 541.7h0M113.8 536.5h0M117.5 539.4h0M114.9 530.2h0M128.1 533.2h0M131.0 542.4h0M120.2 531.4h0M113.7 534.2h0M105.6 515.8h0M114.2 531.9h0M114.1 531.1h0M117.8 538.2h0M109.5 532.1h0M109.3 525.0h0M114.9 531.7h0M103.8 536.2h0M108.5 541.9h0M109.8 531.6h0M116.3 535.6h0M119.3 550.7h0M111.8 539.2h0M126.1 552.9h0M116.5 527.0h0M118.0 529.5h0M126.0 532.5h0M114.9 533.2h0M125.1 529.3h0M122.5 535.3h0M111.9 545.4h0M119.7 533.1h0M112.3 536.6h0M117.1 540.2h0M116.5 535.9h0M102.5 527.0h0M105.5 515.5h0M118.5 539.0h0M118.1 539.4h0M111.9 535.9h0M106.6 537.5h0M125.5 528.8h0M131.2 513.6h0M131.8 512.9h0M130.2 521.4h0M135.5 516.4h0M122.9 520.5h0M134.7 515.6h0M142.7 541.4h0M124.8 518.1h0M118.6 520.0h0M130.4 510.2h0M122.7 525.8h0M142.2 524.6h0M134.3 524.4h0M124.8 521.0h0M132.1 509.7h0M135.0 508.4h0M128.0 512.6h0M133.0 514.1h0M128.0 525.8h0M130.5 515.6h0M137.3 511.1h0M133.9 516.7h0M132.1 520.0h0M142.3 525.6h0M139.0 523.9h0M140.9 517.3h0M124.5 526.0h0M143.5 524.8h0M130.1 509.6h0M131.6 515.7h0M154.7 532.2h0M128.6 530.0h0M128.7 531.5h0M140.5 514.1h0M130.1 526.2h0M129.0 518.8h0M141.3 520.8h0M115.3 516.6h0M127.9 520.7h0M135.1 517.2h0M140.4 516.0h0M130.9 518.6h0M129.7 523.4h0M123.0 522.4h0M121.5 520.9h0M135.9 521.9h0M130.7 520.6h0M134.5 511.9h0M129.0 523.7h0M128.5 526.7h0M129.6 516.6h0M138.4 519.4h0M125.5 527.2h0M136.2 535.4h0M127.7 521.8h0M126.7 518.7h0M133.4 513.3h0M129.5 533.2h0M125.1 522.0h0M118.0 515.3h0M130.4 521.2h0M123.7 520.5h0M130.4 510.0h0M132.2 524.3h0M140.6 516.6h0M129.9 514.3h0M127.0 528.8h0M125.9 525.7h0M137.7 531.0h0M129.6 527.1h0M138.5 515.5h0M127.0 514.2h0M131.2 514.8h0M135.2 513.4h0M140.8 516.2h0M120.2 521.2h0M134.5 530.5h0M125.1 524.7h0M148.9 503.0h0M152.1 514.6h0M153.1 499.4h0M156.5 506.4h0M152.5 505.0h0M130.9 488.3h0M144.9 516.3h0M142.7 516.0h0M151.3 495.4h0M155.4 521.4h0M152.8 513.6h0M152.4 506.4h0M151.4 513.3h0M149.1 496.3h0M157.3 503.4h0M151.0 496.2h0M151.6 508.2h0M153.5 516.6h0M132.5 499.8h0M142.5 511.3h0M144.4 501.8h0M139.3 510.2h0M141.4 507.0h0M151.9 508.6h0M137.5 509.7h0M155.1 521.5h0M148.1 498.7h0M148.3 517.2h0M144.1 512.8h0M147.3 506.5h0M155.7 505.0h0M138.4 505.7h0M140.2 508.1h0M151.8 515.2h0M151.5 505.8h0M145.0 515.2h0M140.7 494.0h0M144.5 505.3h0M144.3 509.8h0M148.7 497.9h0M151.8 516.3h0M142.8 506.8h0M157.8 515.9h0M152.3 515.9h0M142.8 505.1h0M146.5 498.8h0M156.1 514.5h0M146.0 518.5h0M132.4 503.4h0M148.0 506.5h0M150.7 510.3h0M144.8 506.2h0M155.2 505.2h0M154.7 512.9h0M150.5 509.3h0M147.7 512.7h0M153.0 508.6h0M144.3 511.6h0M150.9 510.3h0M144.8 490.6h0M140.5 512.8h0M160.5 510.0h0M150.0 508.5h0M140.0 505.7h0M153.1 503.2h0M150.7 498.7h0M161.3 511.1h0M142.8 510.9h0M145.9 504.4h0M141.4 511.9h0M147.9 508.7h0M148.9 518.2h0M152.7 519.0h0M150.0 506.6h0M147.7 503.2h0M143.4 510.8h0M150.8 499.8h0M139.2 502.5h0M140.8 509.9h0M145.2 508.4h0M152.2 500.1h0M149.0 508.7h0M172.0 493.6h0M177.2 491.1h0M155.6 495.1h0M173.2 490.2h0M161.6 488.6h0M170.7 494.9h0M166.5 488.1h0M161.4 496.9h0M159.6 487.1h0M173.5 494.9h0M167.2 485.2h0M164.6 481.3h0M154.5 492.4h0M169.6 494.9h0M165.7 503.6h0M160.8 497.7h0M160.5 476.6h0M164.6 485.6h0M159.8 488.0h0M164.3 491.1h0M160.2 500.0h0M158.8 491.2h0M165.9 490.0h0M166.8 487.8h0M160.4 488.4h0M166.3 482.0h0M154.8 494.7h0M156.1 496.9h0M154.8 494.3h0M158.0 490.8h0M163.1 500.7h0M166.6 490.2h0M161.6 504.5h0M162.0 488.5h0M169.7 483.6h0M169.3 490.5h0M159.5 490.6h0M157.5 499.0h0M161.5 491.2h0M160.1 492.9h0M171.1 488.5h0M154.0 492.5h0M180.3 494.2h0M163.4 480.6h0M160.7 492.8h0M166.2 493.5h0M165.9 481.3h0M171.7 487.5h0M167.6 487.4h0M178.2 493.5h0M162.1 490.4h0M172.1 486.0h0M157.2 496.9h0M163.8 480.1h0M160.7 486.2h0M162.6 500.1h0M165.7 496.7h0M164.8 494.6h0M156.5 490.4h0M169.9 489.9h0M155.9 498.8h0M165.6 481.1h0M161.8 481.6h0M156.7 495.3h0M167.8 490.4h0M172.7 493.1h0M173.4 492.4h0M156.2 499.2h0M151.4 493.4h0M164.2 498.0h0M157.3 483.2h0M154.5 497.3h0M157.2 496.1h0M160.1 491.6h0M160.5 497.4h0M160.1 488.4h0M163.9 489.5h0M172.2 496.7h0M167.7 492.5h0M186.0 471.4h0M183.0 473.3h0M175.1 475.0h0M175.3 472.7h0M177.6 481.2h0M186.7 470.0h0M178.7 483.4h0M180.1 464.0h0M182.7 487.5h0M184.1 476.3h0M182.2 469.4h0M174.9 469.9h0M184.3 476.1h0M193.5 478.8h0M182.2 472.5h0M171.2 482.1h0M169.5 478.0h0M182.3 477.3h0M169.4 476.7h0M183.6 471.8h0M179.7 480.5h0M169.6 478.1h0M177.5 471.4h0M173.9 481.6h0M178.6 475.7h0M181.9 472.1h0M176.3 467.5h0M184.1 470.6h0M176.8 485.7h0M175.0 472.1h0M192.7 479.7h0M177.7 475.1h0M181.4 466.8h0M175.6 467.1h0M176.5 465.8h0M183.9 481.6h0M181.3 464.9h0M178.2 490.8h0M180.9 479.9h0M167.9 468.3h0M179.7 479.6h0M175.9 478.3h0M183.0 467.7h0M181.1 468.6h0M174.7 480.3h0M189.3 473.0h0M172.8 482.4h0M175.9 474.5h0M184.5 472.0h0M182.5 470.0h0M180.1 463.1h0M175.7 481.4h0M170.6 463.0h0M183.8 469.8h0M174.3 477.1h0M183.4 466.6h0M165.9 473.4h0M175.6 486.0h0M200.2 460.7h0M186.7 467.3h0M191.6 455.7h0M200.5 458.3h0M187.6 468.5h0M202.1 461.4h0M190.4 464.9h0M181.6 461.9h0M182.5 460.7h0M192.2 460.1h0M187.5 459.7h0M205.1 458.6h0M195.8 457.1h0M194.1 454.4h0M189.2 452.8h0M200.6 458.0h0M189.9 462.9h0M198.1 454.6h0M189.0 471.6h0M192.5 455.7h0M196.1 460.7h0M200.3 459.6h0M193.6 460.7h0M196.5 465.9h0M182.7 464.8h0M196.2 455.5h0M185.4 466.3h0M192.4 456.6h0M201.3 453.8h0M198.8 456.6h0M195.8 451.4h0M198.4 455.6h0M203.9 461.0h0M200.9 455.6h0M198.0 458.7h0M203.7 460.4h0M197.7 455.0h0M181.0 463.1h0M198.3 458.5h0M193.5 470.3h0M189.5 471.7h0M209.7 441.8h0M204.9 454.7h0M199.0 447.7h0M200.4 446.1h0M213.5 441.6h0M205.6 448.0h0M210.0 450.7h0M214.1 445.6h0M205.5 445.4h0M208.1 440.6h0M198.5 450.4h0M208.4 435.9h0M207.6 452.9h0M209.1 449.9h0M204.6 444.5h0M212.5 446.7h0M211.8 442.8h0M206.7 450.0h0M202.8 445.1h0M206.0 452.4h0M208.5 453.7h0M197.8 444.3h0M217.4 444.4h0M204.0 455.2h0M209.7 439.5h0M211.7 442.7h0M222.0 432.4h0M226.0 423.6h0M225.3 428.7h0M218.5 430.8h0M220.4 437.0h0M220.9 439.0h0M216.5 432.3h0M226.7 422.7h0M218.2 440.0h0M221.6 435.5h0M222.1 441.5h0M216.8 435.0h0M227.8 423.2h0M225.8 425.4h0M213.7 433.0h0M227.7 425.7h0M242.5 406.5h0M236.2 416.7h0M245.5 416.0h0M237.4 408.5h0M227.2 415.8h0M238.3 409.2h0M244.7 415.2h0M231.9 416.8h0M240.3 414.9h0M251.7 408.6h0M245.4 403.0h0M250.5 402.9h0"/>
<path stroke="#6196d2" d="M47.6 612.8h0M47.6 604.9h0M50.1 609.8h0M47.0 609.4h0M48.6 604.6h0M49.6 611.9h0M60.6 627.5h0M50.3 612.1h0M64.3 621.6h0M64.6 622.3h0M47.8 618.3h0M61.9 624.8h0M45.3 625.8h0M53.4 629.0h0M43.7 619.9h0M63.3 630.0h0M51.4 623.5h0M61.6 622.7h0M46.9 612.4h0M61.6 627.3h0M50.6 617.3h0M48.6 629.5h0M46.1 614.3h0M50.6 611.5h0M46.9 606.4h0M47.3 617.4h0M68.5 626.4h0M44.3 611.3h0M44.2 615.9h0M47.3 628.6h0M51.1 610.4h0M64.4 626.8h0M46.9 607.3h0M46.0 608.6h0M55.5 627.5h0M60.4 625.6h0M44.9 610.8h0M49.2 612.5h0M64.5 627.4h0M51.6 613.4h0M46.7 623.4h0M51.3 623.2h0M43.8 604.9h0M65.8 626.1h0M48.8 614.1h0M58.2 626.7h0M58.3 630.0h0M43.8 604.8h0M49.3 610.5h0M56.0 629.9h0M51.3 616.5h0M49.6 615.6h0M59.4 624.8h0M56.3 615.7h0M45.6 609.0h0M47.8 628.8h0M64.2 629.2h0M52.0 628.2h0M60.0 623.6h0M53.6 628.5h0M45.9 615.0h0M66.9 626.6h0M54.7 619.4h0M44.1 618.6h0M48.6 628.8h0M50.6 608.1h0M46.3 607.3h0M64.8 623.4h0M63.8 624.3h0M50.2 614.2h0M49.7 628.5h0M56.7 622.1h0M60.5 622.7h0M54.4 626.7h0M58.7 617.7h0M49.8 606.8h0M48.0 611.1h0M58.5 618.6h0M60.5 621.6h0M47.9 614.0h0M47.2 603.4h0M48.7 609.8h0M52.2 616.2h0M65.8 626.5h0M43.6 627.6h0M50.7 617.7h0M48.1 608.6h0M50.8 612.4h0M60.4 626.0h0M48.0 609.3h0M57.8 624.9h0M46.1 623.1h0M45.5 605.6h0M46.8 626.9h0M50.0 618.3h0M65.5 627.1h0M61.2 630.0h0M54.8 614.8h0M53.9 617.8h0M60.3 623.0h0M56.1 615.1h0M45.8 622.3h0M59.2 625.7h0M43.8 626.8h0M49.8 619.8h0M45.9 607.6h0M60.6 629.5h0M56.1 614.7h0M52.2 610.3h0M51.3 610.8h0M52.9 627.8h0M45.8 619.3h0M51.3 622.9h0M54.9 626.1h0M56.7 628.2h0M59.0 622.6h0M54.3 627.1h0M43.7 615.2h0M43.7 625.0h0M54.6 617.1h0M58.5 626.0h0M68.5 628.1h0M59.5 619.1h0M45.8 616.3h0M48.9 619.4h0M61.3 624.2h0M48.6 623.4h0M50.0 627.4h0M43.7 619.8h0M46.5 611.8h0M66.7 623.4h0M44.0 627.4h0M47.6 623.7h0M54.7 614.9h0M63.6 625.6h0M45.3 604.5h0M43.9 625.7h0M55.7 629.6h0M51.5 624.6h0M45.6 623.6h0M47.8 615.0h0M45.3 627.9h0M49.6 616.8h0M49.5 623.9h0M55.4 622.0h0M48.0 607.3h0M62.1 629.7h0M44.3 613.0h0M60.9 624.0h0M61.8 629.7h0M50.1 607.9h0M50.7 612.5h0M46.3 615.8h0M44.4 624.3h0M64.9 625.5h0M48.6 617.0h0M58.7 619.4h0M48.9 623.2h0M61.3 627.8h0M51.1 625.6h0M63.0 625.7h0M63.4 625.9h0M53.3 626.6h0M54.7 628.9h0M59.8 622.5h0M55.2 628.3h0M58.3 629.6h0M44.7 620.7h0M50.1 614.5h0M46.4 619.4h0M59.2 617.2h0M51.9 609.5h0M50.5 624.6h0M44.3 605.9h0M58.0 629.4h0M52.2 618.1h0M48.6 614.7h0M57.7 624.0h0M66.1 626.5h0M45.3 624.8h0M48.9 613.1h0M59.0 623.7h0M49.5 626.8h0M50.9 618.8h0M45.6 614.0h0M57.5 623.7h0M44.1 619.6h0M53.2 629.5h0M50.3 615.0h0M66.0 625.9h0M48.2 607.2h0M64.5 629.5h0M55.9 612.4h0M52.7 618.7h0M55.3 628.9h0M58.4 620.6h0M50.2 622.3h0M64.0 623.0h0M51.3 622.4h0M47.5 603.4h0M48.9 607.5h0M65.4 629.6h0M66.0 629.0h0M59.1 625.1h0M51.0 606.9h0M56.5 615.5h0M48.1 618.6h0M55.0 610.9h0M63.5 625.6h0M49.4 626.0h0M48.1 613.3h0M56.7 615.2h0M44.5 629.9h0M45.5 623.4h0M52.6 624.4h0M44.6 610.9h0M54.9 624.1h0M48.2 611.3h0M56.8 616.9h0M45.9 609.7h0M60.8 628.5h0M52.9 622.6h0M54.4 620.8h0M48.7 608.2h0M58.9 625.4h0M49.7 625.6h0M57.9 622.0h0M43.9 614.3h0M47.2 625.3h0M51.0 623.9h0M47.2 615.2h0M44.4 621.9h0M45.5 620.1h0M51.8 608.4h0M50.5 629.4h0M47.8 614.9h0M52.2 612.5h0M59.9 629.9h0M59.1 628.2h0M49.1 622.7h0M48.3 618.7h0M54.9 618.8h0M47.9 605.9h0M46.2 625.5h0M61.9 624.5h0M58.5 620.7h0M50.1 628.1h0M61.6 625.0h0M49.3 620.2h0M54.2 614.8h0M52.2 620.5h0M51.6 626.0h0M49.8 618.6h0M53.2 612.1h0M47.7 626.9h0M45.5 613.2h0M57.7 617.3h0M52.0 622.9h0M52.6 615.1h0M53.4 612.1h0M49.3 623.2h0M54.5 616.9h0M61.0 621.8h0M53.8 614.8h0M50.4 619.2h0M59.7 626.5h0M53.9 618.3h0M48.8 620.9h0M45.1 616.7h0M43.8 624.9h0M51.9 617.6h0M61.2 629.2h0M54.6 614.4h0M48.7 606.8h0M44.0 624.0h0M47.4 617.0h0M53.0 623.5h0M46.2 617.4h0M63.7 625.6h0M48.6 621.5h0M63.4 626.0h0M44.5 629.3h0M54.1 625.1h0M67.4 627.8h0M54.0 614.9h0M48.5 607.8h0M48.4 627.3h0M64.0 628.1h0M45.0 616.2h0M58.0 616.2h0M50.3 615.0h0M56.0 614.2h0M51.7 621.8h0M50.8 626.5h0M44.5 599.9h0M53.6 628.8h0M65.1 624.7h0M56.9 623.7h0M64.7 622.0h0M56.5 629.0h0M58.1 623.3h0M47.9 622.1h0M62.0 620.3h0M47.8 608.2h0M63.0 623.7h0M49.8 629.9h0M46.5 604.5h0M51.7 614.0h0M54.0 620.7h0M55.3 614.2h0M47.3 623.0h0M48.4 619.4h0M54.5 628.2h0M46.7 629.2h0M53.5 616.2h0M67.8 628.0h0M60.2 629.9h0M49.2 627.5h0M53.5 614.9h0M51.0 614.1h0M56.3 620.0h0M58.5 628.1h0M48.6 616.6h0M49.3 623.2h0M56.7 625.0h0M60.6 618.1h0M46.7 621.7h0M44.4 629.2h0M57.8 620.8h0M49.6 621.4h0M57.3 625.3h0M46.8 604.2h0M58.6 630.0h0M48.6 611.5h0M54.7 628.0h0M46.2 607.4h0M48.7 629.2h0M51.5 621.0h0M51.7 619.6h0M59.3 628.8h0M59.0 616.7h0M59.1 621.4h0M48.9 608.7h0M51.3 612.4h0M62.8 622.0h0M53.1 630.0h0M54.6 627.3h0M58.2 618.7h0M55.5 612.8h0M47.9 628.9h0M52.4 619.3h0M54.8 622.9h0M46.7 626.3h0M64.5 628.7h0M54.1 623.4h0M51.0 619.2h0M46.4 629.4h0M50.5 618.3h0M44.3 625.3h0M54.8 617.5h0M45.2 619.1h0M63.3 622.9h0M58.2 615.7h0M55.6 622.9h0M46.0 619.6h0M60.6 627.9h0M54.5 621.8h0M56.2 626.3h0M50.2 623.3h0M50.8 618.4h0M60.6 618.5h0M67.7 626.1h0M52.3 625.1h0M66.4 625.0h0M62.9 622.5h0M51.9 621.5h0M52.3 610.6h0M59.4 627.2h0M48.3 627.0h0M59.9 618.6h0M47.6 610.4h0M50.0 610.5h0M54.0 624.8h0M56.3 620.5h0M47.5 620.0h0M44.5 619.3h0M43.7 611.9h0M50.1 620.6h0M62.4 627.5h0M62.8 620.7h0M51.6 615.2h0M57.0 616.0h0M52.8 621.4h0M53.0 616.7h0M60.1 628.2h0M47.3 626.4h0M51.2 629.0h0M44.7 629.1h0M57.2 623.5h0M54.5 624.8h0M46.3 614.5h0M50.9 628.2h0M45.5 625.7h0M61.0 623.4h0M54.2 612.4h0M52.5 616.5h0M46.7 615.4h0M56.5 621.0h0M52.1 611.4h0M51.8 626.6h0M54.1 629.4h0M44.0 611.3h0M53.9 621.5h0M50.1 624.7h0M46.1 617.9h0M43.8 626.4h0M57.6 615.6h0M51.5 610.2h0M48.7 628.4h0M47.9 612.7h0M60.7 620.0h0M51.2 621.5h0M44.9 618.0h0M43.6 629.4h0M56.3 624.9h0M49.1 625.2h0M60.4 619.7h0M45.8 629.6h0M60.1 622.1h0M46.2 627.4h0M44.4 617.2h0M48.0 624.2h0M60.9 618.9h0M51.9 619.2h0M51.2 628.5h0M72.0 629.1h0M48.6 618.6h0M64.0 623.9h0M50.6 611.9h0M45.9 627.2h0M50.5 619.7h0M51.7 622.3h0M59.6 617.3h0M45.1 622.2h0M49.9 616.4h0M52.9 625.8h0M54.3 622.7h0M59.5 622.1h0M52.0 629.7h0M47.3 616.8h0M56.7 623.1h0M54.5 611.9h0M68.5 627.7h0M59.1 617.1h0M56.3 624.1h0M50.3 614.8h0M54.0 613.3h0M52.5 625.0h0M57.7 618.3h0M50.4 614.0h0M47.5 621.0h0M58.2 627.9h0M46.9 618.3h0M52.3 615.8h0M48.6 618.5h0M50.4 628.9h0M49.7 608.8h0M57.4 619.1h0M59.2 620.1h0M52.5 626.2h0M46.1 625.2h0M55.1 628.0h0M53.6 610.0h0M49.0 609.7h0M58.3 626.9h0M57.9 615.4h0M65.2 627.9h0M46.3 621.7h0M48.4 626.6h0M52.0 609.0h0M63.6 621.4h0M58.9 621.3h0M57.3 617.8h0M47.2 603.2h0M62.4 629.7h0M58.7 619.2h0M60.2 618.6h0M56.4 617.5h0M44.7 627.0h0M50.1 629.5h0M48.3 624.5h0M46.4 620.4h0M53.5 611.4h0M53.7 619.7h0M48.2 612.6h0M45.1 621.2h0M50.6 609.3h0M46.0 629.6h0M43.8 613.8h0M45.0 619.1h0M63.7 628.5h0M59.4 617.1h0M47.6 619.6h0M54.6 615.2h0M53.6 629.6h0M45.8 608.3h0M46.7 628.2h0M55.8 623.1h0M53.5 623.4h0M61.5 629.9h0M57.6 620.0h0M53.2 615.9h0M44.2 628.2h0M50.5 612.7h0M53.2 617.7h0M53.6 627.3h0M55.7 613.2h0M46.1 620.7h0M56.4 617.9h0M60.5 620.7h0M58.6 626.6h0M48.9 611.7h0M62.2 621.4h0M44.8 609.2h0M48.6 620.1h0M55.4 626.6h0M58.6 629.5h0M61.5 628.1h0M48.2 629.7h0M53.5 622.2h0M48.7 623.8h0M55.1 616.2h0M50.7 615.2h0M56.3 618.1h0M62.2 629.0h0M49.6 629.4h0M56.2 621.5h0M43.7 602.5h0M44.2 612.2h0M55.8 613.0h0M54.9 618.7h0M51.6 607.5h0M46.9 615.1h0M53.1 625.3h0M51.5 621.1h0M62.3 623.3h0M50.7 627.9h0M49.3 624.9h0M57.9 628.3h0M55.2 626.7h0M50.9 627.0h0M49.9 615.4h0M59.3 621.7h0M52.6 614.3h0M53.0 620.0h0M56.0 619.5h0M58.2 615.4h0M70.9 628.6h0M66.7 626.2h0M50.1 624.9h0M51.7 607.6h0M49.2 623.4h0M53.8 611.6h0M50.7 616.2h0M67.3 625.0h0M53.3 624.4h0M49.9 607.9h0M44.1 616.0h0M47.2 610.0h0M58.9 623.5h0M56.4 613.5h0M56.4 613.2h0M55.5 616.6h0M43.8 628.3h0M46.3 606.4h0M58.2 628.9h0M62.1 619.7h0M54.0 618.3h0M62.7 623.4h0M56.8 626.7h0M46.9 628.3h0M45.3 628.4h0M56.5 622.0h0M52.2 627.4h0M62.6 628.5h0M57.0 620.5h0M57.5 613.7h0M46.7 624.7h0M61.5 619.3h0M50.8 626.1h0M54.6 616.9h0M64.1 624.9h0M57.0 621.1h0M43.9 616.7h0M54.0 622.2h0M52.9 613.8h0M62.1 629.0h0M52.9 620.2h0M57.2 614.3h0M45.6 628.6h0M51.0 620.8h0M48.5 616.3h0M53.7 618.9h0M44.4 618.7h0M52.9 613.0h0M55.8 624.7h0M48.0 625.2h0M53.9 616.2h0M55.3 625.6h0M52.5 626.9h0M46.9 618.9h0M45.0 605.7h0M56.5 625.5h0M63.2 623.5h0M64.3 620.4h0M43.9 590.2h0M56.9 591.6h0M79.5 622.2h0M77.4 623.4h0M55.3 592.1h0M59.6 599.3h0M60.7 616.8h0M71.3 620.7h0M79.3 626.0h0M52.9 604.5h0M65.7 621.4h0M49.1 603.8h0M47.0 573.0h0M89.0 618.1h0M58.3 585.9h0M72.3 620.3h0M49.8 586.2h0M72.2 619.9h0M62.3 593.5h0M79.8 612.3h0M60.2 616.2h0M61.3 586.4h0M73.5 621.6h0M52.9 591.7h0M55.1 600.9h0M71.8 622.5h0M94.6 624.0h0M82.5 609.5h0M59.6 586.9h0M54.1 589.8h0M53.1 584.0h0M68.5 608.2h0M73.6 612.2h0M76.8 625.2h0M57.2 590.5h0M52.4 604.5h0M62.8 618.9h0M54.7 601.0h0M81.9 617.7h0M72.3 623.2h0M44.7 596.1h0M53.2 608.4h0M82.0 610.7h0M54.0 595.2h0M61.2 593.6h0M60.0 590.4h0M54.6 593.9h0M73.5 629.6h0M47.4 601.2h0M57.1 612.5h0M49.1 597.6h0M53.1 594.2h0M60.2 588.4h0M56.5 592.7h0M62.9 617.0h0M61.5 609.4h0M47.3 592.7h0M57.5 606.9h0M72.4 620.4h0M51.3 604.1h0M82.1 625.2h0M52.3 595.9h0M81.8 618.3h0M78.5 615.6h0M79.1 611.2h0M76.4 629.8h0M57.3 590.9h0M66.2 592.0h0M62.2 615.9h0M74.4 625.0h0M86.8 616.3h0M58.7 599.8h0M78.4 614.7h0M63.0 616.0h0M58.7 585.5h0M53.4 608.7h0M79.0 614.4h0M59.4 615.4h0M73.4 611.7h0M50.1 591.1h0M78.5 616.4h0M59.3 614.9h0M69.2 596.9h0M56.3 589.6h0M84.7 617.5h0M51.7 600.3h0M62.3 618.5h0M52.3 599.5h0M61.3 594.8h0M78.6 625.0h0M69.7 626.2h0M63.3 619.3h0M86.1 617.2h0M59.3 600.5h0M65.0 595.9h0M61.0 608.2h0M80.7 620.1h0M89.1 624.7h0M63.6 593.2h0M50.1 603.0h0M63.1 618.4h0M53.4 600.2h0M67.7 619.3h0M59.4 589.4h0M52.7 591.6h0M54.3 587.1h0M50.0 583.1h0M82.3 616.1h0M53.0 592.4h0M74.1 611.9h0M46.3 596.7h0M76.0 626.6h0M68.8 597.8h0M60.6 592.2h0M58.9 598.2h0M71.3 619.9h0M71.9 626.9h0M65.4 599.3h0M77.8 620.9h0M86.8 622.6h0M71.8 623.5h0M50.1 601.9h0M47.7 602.4h0M56.7 600.1h0M51.3 592.5h0M73.7 610.8h0M51.8 605.9h0M69.5 622.1h0M55.5 590.3h0M51.0 602.6h0M51.5 591.6h0M83.9 612.7h0M76.2 623.7h0M51.6 596.2h0M56.6 594.3h0M72.7 616.5h0M71.6 626.6h0M48.9 595.4h0M60.7 593.1h0M82.6 619.6h0M72.7 625.9h0M69.4 597.8h0M59.2 593.0h0M61.2 589.4h0M52.9 596.6h0M52.4 586.0h0M62.2 598.9h0M73.4 610.9h0M74.0 623.9h0M52.7 606.3h0M79.9 614.7h0M82.6 613.6h0M76.4 620.9h0M61.0 600.3h0M79.0 612.5h0M97.2 628.8h0M56.2 611.8h0M75.6 609.4h0M61.3 596.0h0M61.6 592.3h0M72.2 624.5h0M83.4 615.1h0M44.3 586.2h0M80.0 610.9h0M61.3 599.7h0M62.2 609.4h0M58.6 593.5h0M62.7 588.1h0M59.7 585.5h0M65.2 600.0h0M84.8 612.8h0M58.9 614.8h0M49.7 604.2h0M57.1 612.6h0M49.8 578.7h0M67.3 609.3h0M56.2 597.1h0M45.0 600.0h0M62.5 588.5h0M77.2 617.9h0M58.4 584.2h0M79.6 624.2h0M61.5 595.1h0M48.7 593.0h0M48.6 594.7h0M78.9 613.4h0M55.0 594.5h0M60.0 599.2h0M57.9 599.8h0M82.9 618.2h0M55.8 601.3h0M77.4 622.3h0M74.4 626.5h0M48.9 599.3h0M46.5 600.2h0M62.1 610.9h0M80.4 611.9h0M80.8 614.8h0M45.3 594.4h0M62.3 595.9h0M52.0 587.2h0M79.1 616.6h0M60.8 594.8h0M69.2 613.5h0M56.6 612.4h0M66.4 622.7h0M73.7 622.2h0M81.1 620.4h0M74.5 608.9h0M64.4 617.7h0M75.7 630.0h0M49.1 599.0h0M72.0 621.7h0M58.8 601.2h0M86.1 613.2h0M69.4 621.6h0M62.1 605.3h0M59.5 591.1h0M75.6 618.9h0M68.6 599.7h0M74.9 620.6h0M60.1 593.5h0M51.3 601.2h0M79.9 608.7h0M73.7 629.9h0M68.5 596.4h0M59.1 601.9h0M50.7 606.1h0M69.4 613.6h0M59.7 600.8h0M62.4 588.5h0M59.9 600.1h0M57.2 588.5h0M69.4 613.8h0M57.5 594.1h0M54.6 595.3h0M68.1 613.3h0M61.9 588.0h0M55.5 599.9h0M79.4 610.9h0M70.9 624.0h0M56.6 612.4h0M74.4 620.9h0M60.2 591.2h0M79.8 616.3h0M69.7 613.2h0M66.7 622.8h0M52.5 604.1h0M58.5 603.0h0M71.0 619.6h0M68.4 620.6h0M58.7 598.8h0M78.2 617.8h0M51.4 599.3h0M82.2 626.4h0M46.5 595.1h0M54.8 610.4h0M50.7 605.8h0M67.6 596.2h0M61.3 597.3h0M76.0 623.4h0M49.1 601.3h0M69.7 598.1h0M72.9 610.7h0M61.2 606.1h0M60.2 616.0h0M84.3 624.3h0M52.1 598.5h0M59.2 614.7h0M47.7 596.2h0M81.6 610.3h0M57.0 596.7h0M45.1 599.2h0M64.8 595.1h0M57.6 593.7h0M48.4 602.6h0M56.4 611.5h0M59.0 588.6h0M57.6 596.9h0M61.0 598.1h0M56.7 611.5h0M80.4 607.2h0M52.5 600.0h0M54.5 604.4h0M85.8 613.0h0M78.2 613.8h0M66.2 622.7h0M62.5 591.2h0M68.2 599.8h0M79.6 615.3h0M53.8 605.0h0M65.9 598.5h0M54.3 596.0h0M78.4 611.3h0M61.1 599.5h0M68.6 617.6h0M57.2 598.9h0M74.9 623.4h0M74.2 612.5h0M70.3 616.7h0M70.1 622.1h0M68.8 611.0h0M57.8 583.4h0M81.4 615.6h0M69.9 621.1h0M70.4 617.5h0M76.8 624.3h0M62.9 594.2h0M51.1 597.5h0M60.7 599.7h0M67.7 612.9h0M64.5 590.3h0M68.6 597.9h0M63.4 615.1h0M47.0 602.1h0M69.6 596.5h0M73.1 619.8h0M67.7 618.6h0M68.4 594.7h0M44.7 596.9h0M79.9 617.4h0M77.7 621.5h0M78.2 619.8h0M74.0 606.8h0M69.0 625.0h0M60.5 599.8h0M75.3 624.7h0M57.0 594.2h0M58.5 589.5h0M60.6 608.0h0M56.0 583.6h0M76.0 621.9h0M55.7 601.5h0M69.8 620.9h0M60.2 607.2h0M66.3 622.0h0M83.4 621.6h0M72.5 611.8h0M49.9 595.9h0M59.2 603.0h0M73.8 605.5h0M72.2 616.6h0M49.1 586.5h0M47.1 601.3h0M58.0 603.1h0M68.6 608.2h0M62.2 600.4h0M67.5 594.4h0M68.6 598.3h0M60.1 591.3h0M60.6 593.9h0M79.8 607.2h0M80.9 613.3h0M61.9 607.2h0M60.7 586.5h0M64.5 617.5h0M71.9 608.7h0M63.9 592.6h0M67.1 608.9h0M55.3 589.9h0M62.6 592.1h0M83.0 611.1h0M68.2 612.4h0M73.8 616.9h0M53.0 600.7h0M60.2 607.0h0M80.6 621.3h0M60.9 616.7h0M62.3 609.9h0M71.4 617.5h0M65.0 617.0h0M68.8 612.0h0M52.8 598.4h0M78.1 612.2h0M65.6 590.8h0M78.9 622.0h0M59.8 593.6h0M52.1 604.9h0M84.8 614.0h0M59.7 615.8h0M72.5 608.4h0M51.0 606.1h0M74.8 619.4h0M62.5 598.7h0M59.7 601.2h0M73.7 613.1h0M55.1 587.3h0M70.1 611.9h0M48.8 585.1h0M77.7 605.5h0M49.5 604.5h0M85.6 625.2h0M62.2 606.8h0M57.9 592.5h0M59.9 608.3h0M75.3 616.8h0M71.8 616.7h0M67.0 623.6h0M67.8 594.0h0M63.1 605.4h0M53.4 598.9h0M62.5 618.7h0M67.5 620.8h0M76.8 609.1h0M74.5 610.4h0M81.4 614.6h0M71.0 618.1h0M49.6 604.4h0M46.6 593.7h0M73.3 617.2h0M72.9 615.0h0M75.3 606.2h0M60.4 608.3h0M49.1 575.9h0M55.1 604.7h0M80.6 611.7h0M76.4 611.5h0M56.2 606.1h0M50.4 604.6h0M56.0 599.5h0M77.0 615.5h0M87.5 618.1h0M64.4 615.2h0M64.5 597.4h0M64.9 591.2h0M68.8 614.3h0M74.6 610.6h0M74.1 615.9h0M78.5 624.4h0M72.5 607.9h0M63.4 617.1h0M78.1 610.1h0M68.7 612.1h0M66.7 599.1h0M69.8 599.9h0M74.0 613.2h0M53.8 591.5h0M61.7 590.4h0M51.8 603.6h0M71.2 624.9h0M70.2 609.4h0M77.6 611.7h0M56.7 602.8h0M72.7 613.3h0M89.1 616.5h0M48.4 599.6h0M80.7 612.5h0M57.8 601.3h0M46.8 592.2h0M68.7 619.2h0M63.9 593.8h0M79.8 606.0h0M64.4 620.8h0M69.0 596.2h0M66.9 594.8h0M56.6 603.9h0M62.3 601.2h0M56.9 605.6h0M58.1 598.7h0M62.9 611.3h0M69.9 617.6h0M68.5 621.4h0M75.6 607.3h0M50.4 600.5h0M52.3 602.0h0M53.3 603.2h0M67.1 621.9h0M60.4 616.4h0M76.4 618.0h0M50.1 598.2h0M52.8 602.4h0M70.2 624.8h0M60.0 594.9h0M61.6 597.2h0M64.5 610.7h0M78.9 607.9h0M66.8 616.5h0M64.5 616.7h0M66.8 621.8h0M73.2 606.0h0M61.0 609.8h0M44.4 590.1h0M64.9 598.2h0M77.9 608.8h0M55.1 599.2h0M70.7 621.3h0M79.0 613.5h0M72.6 607.6h0M86.6 625.1h0M74.6 613.0h0M59.2 604.7h0M65.0 621.0h0M65.1 596.7h0M61.1 601.1h0M73.0 604.8h0M72.8 607.9h0M73.1 624.0h0M66.9 622.2h0M64.5 598.3h0M83.0 610.2h0M64.8 613.6h0M78.7 612.6h0M63.7 607.6h0M55.4 597.7h0M56.9 612.4h0M80.5 613.5h0M63.7 590.0h0M58.5 588.0h0M60.9 585.9h0M68.0 624.4h0M55.8 601.6h0M73.5 604.7h0M70.8 601.5h0M45.3 600.2h0M72.7 621.4h0M70.9 626.7h0M46.9 600.4h0M62.7 618.8h0M83.6 611.2h0M75.6 608.5h0M62.0 617.3h0M74.5 604.8h0M81.5 609.0h0M61.7 610.6h0M76.9 606.2h0M74.8 607.9h0M66.3 610.0h0M66.4 608.1h0M53.7 602.2h0M66.4 622.3h0M49.7 602.8h0M56.9 599.2h0M72.0 619.2h0M77.7 620.1h0M71.0 598.8h0M75.0 612.3h0M60.5 598.5h0M62.8 606.3h0M56.3 604.2h0M68.1 621.4h0M78.9 610.2h0M46.7 601.0h0M85.2 611.9h0M72.8 605.0h0M74.0 620.3h0M56.8 600.9h0M70.6 612.5h0M61.3 589.0h0M84.5 616.2h0M64.0 616.5h0M55.1 605.3h0M83.1 617.8h0M74.6 620.6h0M79.0 606.0h0M75.3 625.9h0M63.0 597.7h0M56.8 611.5h0M47.5 592.0h0M50.7 594.8h0M68.2 613.8h0M77.3 617.0h0M62.1 594.2h0M81.1 628.7h0M62.2 609.9h0M61.7 606.4h0M73.3 617.4h0M58.7 601.9h0M67.5 595.2h0M56.7 607.0h0M59.7 603.5h0M71.2 613.2h0M65.7 607.1h0M74.3 613.8h0M68.7 622.7h0M59.1 597.0h0M83.5 620.6h0M76.2 620.0h0M73.5 619.4h0M53.8 609.3h0M71.4 622.1h0M83.8 611.8h0M71.1 619.4h0M66.3 606.7h0M52.1 602.2h0M51.2 594.0h0M77.1 610.4h0M53.6 600.6h0M47.6 599.9h0M76.6 610.4h0M81.4 610.7h0M60.4 608.5h0M63.1 607.5h0M70.3 597.6h0M59.6 609.6h0M79.5 624.5h0M47.3 602.4h0M67.2 610.9h0M72.0 615.5h0M52.4 602.4h0M75.4 613.6h0M61.2 604.9h0M66.1 620.8h0M85.4 614.2h0M52.4 600.3h0M51.3 591.2h0M58.6 597.0h0M57.0 584.5h0M64.7 613.7h0M63.2 609.0h0M69.0 618.9h0M80.2 620.4h0M63.4 596.7h0M64.0 610.3h0M78.9 606.6h0M78.8 606.2h0M56.1 606.5h0M69.5 615.9h0M59.6 607.5h0M63.4 614.6h0M64.5 607.6h0M96.4 629.7h0M72.6 613.9h0M72.4 614.7h0M63.6 616.3h0M72.1 617.8h0M66.8 604.1h0M62.5 604.6h0M79.5 617.0h0M76.4 619.0h0M56.6 588.0h0M60.6 606.7h0M67.1 595.0h0M71.2 622.5h0M89.7 625.5h0M52.6 596.9h0M56.6 602.3h0M62.4 607.9h0M49.6 590.5h0M70.2 600.4h0M78.4 617.2h0M57.7 595.6h0M67.6 604.5h0M63.9 599.6h0M59.2 590.5h0M70.0 598.8h0M51.2 597.7h0M46.6 590.6h0M67.2 609.4h0M74.6 601.7h0M63.3 614.7h0M56.3 610.4h0M49.4 598.4h0M57.2 611.9h0M54.8 608.6h0M77.4 612.2h0M69.3 604.2h0M64.9 618.4h0M77.7 606.3h0M61.1 616.9h0M63.1 590.1h0M78.6 611.0h0M60.3 601.6h0M53.8 586.0h0M75.5 618.1h0M45.5 588.8h0M52.9 606.9h0M69.2 604.6h0M80.8 615.7h0M80.8 612.3h0M71.2 618.6h0M54.1 603.3h0M81.7 616.7h0M59.0 588.2h0M78.3 619.2h0M46.8 573.2h0M57.9 613.4h0M59.7 606.6h0M88.3 622.8h0M75.5 610.8h0M57.0 602.0h0M74.2 624.7h0M55.5 610.9h0M52.2 607.7h0M59.6 586.6h0M72.9 607.5h0M61.4 595.6h0M72.3 627.5h0M61.2 617.2h0M57.5 603.0h0M64.1 596.1h0M75.4 608.7h0M68.3 618.4h0M76.2 616.1h0M69.9 618.3h0M61.9 617.8h0M74.7 615.3h0M65.0 601.9h0M70.7 620.1h0M66.7 620.9h0M72.1 612.1h0M67.6 617.0h0M64.0 593.5h0M61.4 599.2h0M67.5 613.5h0M60.6 608.8h0M64.3 602.2h0M65.1 594.0h0M57.6 605.3h0M69.2 615.1h0M68.4 609.3h0M79.1 608.4h0M74.5 600.5h0M57.5 609.0h0M62.9 617.4h0M70.8 602.6h0M70.3 614.1h0M62.3 614.2h0M57.8 601.7h0M57.9 611.6h0M81.8 608.1h0M57.4 590.6h0M82.3 608.8h0M68.5 599.0h0M68.5 609.4h0M76.4 620.2h0M56.9 611.5h0M75.1 614.5h0M60.3 604.2h0M65.0 615.0h0M58.9 610.2h0M66.5 617.2h0M52.1 593.4h0M72.6 609.1h0M84.4 616.8h0M58.7 609.0h0M73.9 609.9h0M57.7 604.8h0M54.1 600.6h0M91.6 619.0h0M75.5 623.6h0M74.9 615.2h0M70.0 612.8h0M52.1 602.7h0M63.5 612.4h0M66.6 602.6h0M66.0 599.7h0M71.1 610.7h0M74.6 617.7h0M71.8 601.6h0M68.3 616.8h0M73.1 618.6h0M70.2 603.9h0M73.0 602.7h0M66.4 593.9h0M54.7 606.3h0M62.4 603.6h0M64.7 591.3h0M62.5 612.9h0M81.0 614.3h0M55.8 605.0h0M64.8 600.5h0M80.1 607.0h0M58.3 610.3h0M51.6 586.0h0M77.7 608.2h0M53.6 602.0h0M70.0 601.9h0M55.9 609.2h0M73.0 611.7h0M57.8 606.1h0M61.0 612.3h0M55.7 610.8h0M46.5 590.6h0M82.1 613.2h0M65.8 594.9h0M56.4 597.7h0M60.2 602.8h0M63.0 602.7h0M53.9 597.5h0M61.1 592.3h0M73.3 604.7h0M62.8 599.6h0M46.3 601.0h0M65.1 621.0h0M64.4 610.7h0M75.1 610.3h0M67.0 612.8h0M80.1 617.8h0M53.9 601.4h0M69.4 608.1h0M48.8 599.6h0M76.1 625.6h0M52.4 598.0h0M71.3 611.4h0M61.0 613.5h0M55.4 599.4h0M81.7 611.8h0M67.4 595.8h0M68.3 622.5h0M68.7 596.2h0M54.3 599.0h0M61.2 614.5h0M77.1 607.6h0M68.8 623.4h0M63.3 589.7h0M64.8 609.3h0M58.1 598.0h0M68.8 601.5h0M71.7 616.8h0M75.8 613.6h0M59.4 614.1h0M63.9 618.6h0M65.0 593.1h0M68.0 614.1h0M76.5 626.3h0M62.4 597.5h0M61.2 616.7h0M79.2 610.5h0M58.9 610.6h0M64.6 605.3h0M76.2 620.3h0M71.8 598.7h0M71.0 608.0h0M55.6 611.0h0M65.1 606.7h0M60.9 588.9h0M92.6 624.6h0M52.3 607.8h0M64.9 607.8h0M66.3 606.5h0M73.2 611.5h0M62.6 608.9h0M55.0 606.1h0M64.5 606.7h0M60.4 596.0h0M65.2 620.1h0M55.5 607.1h0M72.7 610.9h0M75.4 614.8h0M61.1 615.5h0M70.8 599.6h0M75.9 608.2h0M68.6 619.9h0M62.2 589.4h0M65.1 596.8h0M59.2 603.8h0M54.6 606.4h0M60.4 606.2h0M62.3 606.5h0M71.3 626.8h0M75.1 616.1h0M64.3 603.4h0M77.2 618.8h0M67.6 614.0h0M67.5 609.6h0M61.8 608.0h0M57.9 603.9h0M49.9 600.0h0M72.6 625.8h0M81.2 609.2h0M66.2 617.1h0M60.2 610.7h0M63.8 604.8h0M78.5 616.8h0M100.6 629.3h0M54.5 602.5h0M56.9 607.2h0M58.7 594.0h0M60.2 613.4h0M79.2 617.6h0M64.3 606.8h0M60.7 588.9h0M76.7 611.8h0M76.3 622.2h0M70.4 608.9h0M74.8 620.5h0M65.9 595.2h0M65.3 597.5h0M64.2 612.5h0M74.2 601.0h0M64.7 606.5h0M59.0 605.7h0M58.1 608.7h0M69.7 601.2h0M64.5 612.5h0M69.7 615.4h0M49.8 601.8h0M62.9 604.1h0M56.1 609.0h0M56.7 601.4h0M73.5 606.5h0M67.6 618.1h0M66.5 612.7h0M65.2 592.2h0M75.1 609.3h0M60.0 604.2h0M60.8 611.9h0M60.7 598.0h0M61.1 610.9h0M66.9 597.0h0M66.2 605.2h0M74.7 603.9h0M66.0 597.9h0M78.0 614.0h0M51.7 597.2h0M75.5 610.0h0M72.2 611.0h0M57.0 595.8h0M67.3 615.7h0M65.9 597.4h0M56.3 605.4h0M56.9 611.1h0M69.4 614.7h0M80.0 609.7h0M58.2 600.2h0M63.3 608.3h0M58.2 614.1h0M54.3 598.3h0M75.6 612.4h0M62.8 597.0h0M68.2 610.7h0M63.1 589.8h0M54.4 601.7h0M71.2 622.4h0M70.6 615.0h0M60.0 609.0h0M60.6 602.2h0M49.8 599.0h0M54.7 601.8h0M49.2 601.7h0M73.8 602.4h0M70.7 603.3h0M59.0 584.5h0M67.8 614.9h0M64.6 616.3h0M68.9 604.8h0M78.8 608.8h0M62.5 613.7h0M60.7 615.9h0M53.9 604.8h0M63.0 606.6h0M69.8 598.4h0M67.2 605.5h0M66.8 596.8h0M53.9 609.5h0M76.8 606.7h0M72.8 613.5h0M63.1 598.5h0M76.2 625.4h0M72.0 598.5h0M69.4 609.9h0M59.6 615.5h0M71.6 600.4h0M66.9 620.2h0M70.9 620.0h0M69.6 596.4h0M53.7 580.5h0M84.3 613.3h0M80.9 611.7h0M49.9 601.2h0M66.2 597.2h0M62.4 606.8h0M79.9 608.9h0M56.5 610.2h0M67.5 624.1h0M72.4 607.0h0M54.3 607.7h0M72.5 609.4h0M62.9 618.0h0M57.2 601.5h0M70.8 612.6h0M78.9 611.3h0M74.5 613.7h0M49.9 586.6h0M66.6 614.6h0M60.3 595.7h0M61.8 616.9h0M55.3 603.2h0M58.7 606.1h0M73.7 599.6h0M72.4 612.2h0M67.7 611.8h0M65.8 609.5h0M69.0 605.0h0M69.1 614.8h0M53.7 603.9h0M63.4 598.2h0M71.7 598.0h0M48.9 597.8h0M60.3 604.3h0M60.9 590.7h0M65.3 608.5h0M74.6 619.0h0M77.4 604.4h0M65.7 606.0h0M65.5 612.3h0M58.0 612.6h0M64.6 599.1h0M73.5 617.4h0M78.5 617.7h0M68.3 605.5h0M63.1 603.9h0M60.6 615.6h0M74.2 618.4h0M67.3 611.5h0M70.2 599.0h0M66.6 617.9h0M56.9 589.9h0M57.1 609.5h0M64.2 609.5h0M67.5 613.3h0M73.2 629.4h0M54.3 602.3h0M61.4 603.5h0M81.0 609.8h0M60.7 595.6h0M71.9 603.2h0M72.9 617.2h0M72.0 602.0h0M88.0 617.4h0M69.6 600.5h0M69.7 619.8h0M54.9 610.1h0M60.7 610.4h0M88.4 620.6h0M72.5 606.5h0M78.2 607.2h0M58.9 612.1h0M70.1 621.9h0M70.0 607.2h0M61.2 602.2h0M65.0 604.5h0M64.0 602.5h0M78.7 611.9h0M60.0 614.7h0M68.1 616.3h0M71.5 600.0h0M66.0 614.3h0M62.3 613.1h0M68.9 609.5h0M63.8 600.6h0M64.2 619.5h0M68.5 623.8h0M70.5 622.1h0M67.8 610.8h0M69.9 602.9h0M65.9 601.8h0M63.7 603.4h0M63.3 597.5h0M75.0 605.5h0M74.8 616.4h0M67.1 605.2h0M65.6 604.5h0M76.4 603.1h0M71.9 607.3h0M73.2 629.9h0M66.0 611.2h0M57.7 613.4h0M53.2 597.3h0M68.6 603.7h0M75.0 608.5h0M59.0 601.3h0M66.1 616.5h0M73.5 601.7h0M78.4 609.1h0M76.1 612.7h0M67.1 604.8h0M66.3 598.6h0M67.6 611.7h0M64.3 606.5h0M65.6 608.7h0M78.3 605.6h0M66.7 595.6h0M70.2 608.3h0M80.9 611.0h0M63.0 611.0h0M80.6 607.0h0M76.7 604.8h0M75.6 603.8h0M60.8 615.3h0M70.7 608.6h0M72.3 605.1h0M75.2 602.6h0M68.1 606.9h0M60.3 610.2h0M71.3 617.7h0M62.3 608.2h0M72.6 620.2h0M81.4 614.8h0M54.3 609.1h0M68.3 598.3h0M66.2 597.2h0M70.0 599.3h0M67.9 594.7h0M71.2 610.5h0M65.8 616.1h0M66.7 611.9h0M72.9 600.7h0M63.7 605.6h0M62.3 596.3h0M70.6 612.3h0M63.3 611.8h0M72.8 620.8h0M83.4 610.7h0M64.7 603.5h0M66.9 605.9h0M70.8 621.6h0M61.7 593.3h0M74.3 622.9h0M63.2 603.4h0M55.7 611.4h0M76.7 614.1h0M58.0 595.5h0M56.9 597.6h0M67.0 600.4h0M66.5 614.8h0M69.7 603.2h0M76.8 613.2h0M73.7 608.7h0M65.7 615.5h0M64.6 613.3h0M59.2 610.0h0M62.7 613.7h0M66.4 592.3h0M67.5 605.4h0M64.1 591.6h0M66.2 592.5h0M69.8 595.5h0M64.0 591.0h0M63.2 610.5h0M49.5 591.1h0M62.8 597.5h0M77.0 614.7h0M57.7 588.1h0M67.4 623.3h0M71.9 613.0h0M56.4 601.4h0M53.3 608.6h0M62.7 601.5h0M64.9 608.2h0M72.1 604.2h0M52.0 605.2h0M73.4 601.2h0M48.4 601.5h0M77.5 614.2h0M68.2 620.9h0M68.2 602.0h0M58.3 607.3h0M56.8 593.3h0M65.8 610.2h0M63.1 605.8h0M69.7 610.3h0M65.6 603.3h0M59.6 610.3h0M80.4 610.0h0M54.9 597.9h0M60.9 606.1h0M71.9 601.5h0M84.6 614.4h0M66.8 598.5h0M69.5 618.9h0M63.9 591.8h0M46.7 599.2h0M66.2 599.9h0M74.0 601.0h0M77.0 604.2h0M53.3 607.9h0M56.3 608.7h0M74.9 610.2h0M75.1 622.2h0M69.5 616.8h0M48.9 593.0h0M66.3 602.0h0M61.4 601.3h0M52.4 603.2h0M84.8 626.3h0M82.7 612.4h0M71.2 609.4h0M63.4 606.3h0M71.6 604.3h0M63.0 606.1h0M73.1 606.8h0M70.9 600.2h0M64.1 620.0h0M71.1 628.0h0M58.7 614.5h0M73.2 604.6h0M65.0 618.8h0M78.3 617.1h0M75.3 601.9h0M58.9 612.8h0M64.7 610.8h0M65.1 615.2h0M71.0 605.9h0M74.5 622.0h0M64.2 595.4h0M66.9 618.3h0M69.3 605.5h0M75.3 615.4h0M54.8 602.1h0M59.6 599.7h0M54.6 607.5h0M49.6 600.9h0M70.0 599.9h0M82.4 627.1h0M61.3 591.2h0M62.7 615.8h0M67.4 607.5h0M77.4 603.7h0M71.1 600.2h0M73.0 601.6h0M61.3 593.2h0M68.6 602.9h0M84.9 611.6h0M72.7 610.5h0M59.0 608.3h0M59.0 595.1h0M63.5 595.2h0M71.7 601.2h0M73.2 603.8h0M55.8 602.7h0M60.5 590.4h0M71.4 608.9h0M64.3 599.0h0M78.1 609.4h0M62.7 601.0h0M64.6 616.8h0M65.4 616.8h0M57.9 613.2h0M78.4 606.2h0M69.7 617.2h0M72.2 619.2h0M46.0 582.9h0M73.8 608.4h0M72.2 613.6h0M81.1 607.7h0M85.9 624.8h0M59.3 607.7h0M60.4 615.2h0M69.6 601.5h0M68.3 624.2h0M82.6 612.6h0M72.2 610.3h0M74.3 603.2h0M65.0 601.2h0M70.5 625.1h0M59.2 611.3h0M72.6 604.0h0M64.9 612.9h0M64.0 600.6h0M75.2 611.2h0M76.0 605.1h0M71.8 598.3h0M56.5 598.3h0M74.5 603.5h0M80.9 608.8h0M69.9 608.3h0M59.5 596.3h0M69.9 596.8h0M61.9 611.3h0M74.1 604.1h0M69.3 610.4h0M74.1 600.8h0M65.9 596.3h0M59.5 605.7h0M69.7 598.8h0M70.8 606.9h0M67.8 602.0h0M55.3 607.3h0M54.7 601.0h0M70.4 600.2h0M50.0 599.7h0M76.9 613.9h0M51.8 607.0h0M73.3 606.8h0M51.7 602.4h0M75.6 610.0h0M67.7 615.7h0M70.1 603.5h0M66.3 601.1h0M73.0 603.8h0M84.2 617.7h0M68.1 624.8h0M73.3 607.9h0M61.3 617.0h0M68.1 611.3h0M52.0 600.7h0M68.2 617.6h0M49.6 598.2h0M68.1 597.5h0M64.4 594.2h0M72.2 613.0h0M64.2 605.0h0M68.6 609.5h0M63.0 613.4h0M68.0 620.4h0M71.9 604.9h0M81.1 616.7h0M55.3 607.0h0M64.5 608.3h0M76.7 617.3h0M61.7 606.7h0M67.4 600.6h0M80.5 622.0h0M72.8 598.6h0M62.7 608.4h0M56.6 593.7h0M79.5 608.5h0M71.2 611.2h0M70.6 604.5h0M70.4 615.9h0M66.6 603.6h0M59.9 612.0h0M71.2 600.4h0M76.9 608.6h0M61.4 615.7h0M90.0 624.9h0M79.4 623.5h0M72.2 601.7h0M67.2 595.9h0M56.2 603.1h0M48.6 591.6h0M67.0 609.3h0M53.4 605.6h0M65.5 602.8h0M55.1 608.9h0M59.7 601.6h0M75.6 615.1h0M74.7 605.0h0M62.6 597.7h0M67.1 601.8h0M54.4 602.3h0M60.0 597.1h0M60.9 614.6h0M71.6 614.3h0M62.3 597.2h0M59.1 594.9h0M68.0 603.7h0M63.8 602.4h0M66.1 610.9h0M75.5 629.6h0M63.1 591.8h0M68.7 607.7h0M63.0 588.9h0M66.3 614.9h0M59.2 606.2h0M69.7 613.6h0M57.1 596.9h0M66.2 608.3h0M64.4 593.5h0M52.7 606.6h0M74.3 627.1h0M66.2 600.5h0M62.8 595.7h0M62.3 606.8h0M55.4 594.1h0M68.2 620.4h0M73.3 606.1h0M59.2 614.4h0M68.0 610.4h0M67.8 599.5h0M56.5 607.9h0M62.2 588.4h0M65.0 615.5h0M54.1 603.8h0M68.8 607.4h0M63.3 619.5h0M76.2 606.4h0M57.9 606.4h0M70.6 604.4h0M67.3 620.2h0M60.5 612.4h0M68.6 600.3h0M60.6 614.8h0M65.2 593.3h0M65.3 593.9h0M61.6 604.4h0M66.4 619.2h0M66.3 608.8h0M68.9 609.6h0M71.5 597.6h0M70.3 602.6h0M65.7 603.6h0M63.8 619.1h0M68.1 610.4h0M51.5 606.7h0M65.3 617.9h0M55.0 608.7h0M65.5 600.2h0M63.9 620.3h0M65.6 597.1h0M52.8 605.9h0M58.7 611.1h0M54.2 606.9h0M72.3 614.3h0M69.0 607.7h0M47.1 578.7h0M77.7 622.9h0M69.7 598.5h0M75.6 605.6h0M74.3 607.3h0M70.0 599.2h0M76.2 607.7h0M63.6 605.7h0M66.8 593.0h0M60.9 605.5h0M60.8 605.9h0M79.2 606.8h0M69.7 610.6h0M66.6 607.8h0M71.6 601.4h0M58.0 591.1h0M62.2 618.2h0M57.8 608.0h0M69.4 606.7h0M50.9 605.5h0M74.5 606.9h0M66.9 606.7h0M64.7 611.8h0M64.3 613.4h0M68.4 605.6h0M60.4 614.7h0M64.3 614.3h0M62.3 602.5h0M70.5 599.8h0M71.6 604.9h0M68.5 594.7h0M51.6 597.9h0M49.1 592.1h0M60.9 601.9h0M69.2 607.8h0M70.9 615.1h0M54.7 595.2h0M69.6 611.3h0M72.6 613.6h0M65.1 606.1h0M60.3 600.0h0M68.1 623.0h0M56.0 604.0h0M52.7 606.7h0M61.2 603.5h0M61.4 604.4h0M65.5 615.8h0M67.8 600.7h0M59.4 612.8h0M64.2 613.7h0M69.8 617.1h0M60.6 599.5h0M69.9 623.7h0M72.4 599.8h0M76.7 606.1h0M70.7 609.3h0M59.4 611.0h0M72.0 625.5h0M71.1 615.3h0M67.9 598.2h0M79.6 618.2h0M59.4 606.2h0M79.3 618.0h0M82.2 611.7h0M67.6 602.3h0M78.3 607.2h0M63.5 601.9h0M70.8 625.4h0M77.8 613.6h0M57.2 590.0h0M68.3 622.3h0M57.1 611.3h0M74.8 602.6h0M51.8 604.2h0M75.1 624.9h0M68.1 615.8h0M61.8 612.0h0M64.1 605.9h0M74.0 614.6h0M57.3 610.2h0M60.0 610.3h0M65.6 604.8h0M70.6 596.8h0M79.7 620.4h0M66.1 613.5h0M75.5 616.3h0M68.4 612.1h0M70.8 606.0h0M56.8 607.3h0M63.3 602.3h0M90.8 602.3h0M100.1 600.1h0M62.5 569.7h0M80.4 575.4h0M86.8 609.5h0M89.3 609.8h0M66.8 571.5h0M68.1 587.6h0M99.9 601.2h0M75.4 583.0h0M83.5 607.2h0M90.6 612.2h0M66.6 590.7h0M63.9 576.0h0M72.8 580.1h0M58.8 567.0h0M76.4 578.5h0M92.9 616.0h0M71.8 580.0h0M95.1 604.3h0M65.2 583.4h0M91.7 613.8h0M67.0 587.9h0M80.0 580.7h0M89.5 608.9h0M64.5 582.8h0M80.3 604.9h0M50.4 574.0h0M92.2 604.7h0M70.3 583.1h0M94.3 596.4h0M103.9 606.5h0M72.5 583.8h0M87.6 614.1h0M80.0 604.4h0M73.2 598.7h0M97.2 594.1h0M69.7 572.3h0M79.3 577.5h0M71.7 579.7h0M79.6 581.5h0M78.5 580.8h0M64.6 583.7h0M88.9 612.0h0M101.1 598.6h0M82.9 609.1h0M74.3 586.4h0M64.3 570.8h0M72.8 582.2h0M74.8 600.2h0M89.1 606.7h0M95.9 605.8h0M77.2 581.3h0M83.9 602.2h0M67.0 577.3h0M95.4 610.8h0M72.2 580.5h0M91.1 603.4h0M80.8 582.1h0M66.2 581.4h0M101.3 614.9h0M70.8 580.6h0M76.1 582.3h0M72.9 586.3h0M73.1 582.9h0M90.5 606.0h0M106.2 627.7h0M81.0 606.2h0M67.4 592.3h0M84.0 606.9h0M95.7 600.2h0M97.0 604.4h0M56.0 549.9h0M87.0 610.2h0M85.7 609.3h0M73.6 577.2h0M88.4 606.2h0M72.2 570.5h0M102.7 607.0h0M95.5 596.8h0M89.0 604.5h0M76.0 574.6h0M87.0 613.5h0M69.7 588.6h0M83.0 608.1h0M108.8 614.8h0M70.9 589.3h0M74.5 577.8h0M60.3 582.3h0M69.4 590.2h0M86.5 612.9h0M99.7 597.7h0M89.4 602.4h0M96.4 598.3h0M87.3 602.2h0M91.5 614.0h0M78.5 580.8h0M85.7 605.1h0M67.7 590.5h0M85.4 607.2h0M59.6 582.3h0M54.8 567.0h0M89.5 609.8h0M102.0 625.0h0M55.8 576.1h0M89.2 601.2h0M57.7 578.3h0M65.6 563.5h0M84.5 580.1h0M65.5 573.9h0M62.1 584.3h0M94.3 607.0h0M67.9 586.3h0M68.1 590.7h0M97.6 608.2h0M74.9 578.6h0M69.8 578.0h0M86.5 601.7h0M69.1 591.3h0M71.7 583.1h0M96.9 598.4h0M84.0 603.6h0M94.9 614.0h0M72.0 586.4h0M87.0 604.9h0M77.4 601.8h0M73.1 571.6h0M60.0 576.0h0M67.9 593.0h0M67.6 586.1h0M72.1 576.8h0M97.2 605.0h0M89.5 610.2h0M100.8 614.1h0M69.9 584.1h0M69.6 569.7h0M90.1 607.8h0M63.5 564.9h0M93.7 600.3h0M87.8 612.4h0M67.8 591.2h0M90.2 605.7h0M75.4 582.0h0M72.4 584.0h0M90.3 601.1h0M72.2 597.1h0M66.7 591.6h0M62.4 586.7h0M78.1 600.7h0M69.0 594.2h0M76.3 602.0h0M68.4 587.0h0M62.6 583.3h0M94.3 593.2h0M75.5 592.7h0M77.1 586.4h0M92.8 594.2h0M95.3 597.8h0M73.0 569.3h0M73.7 598.8h0M66.3 587.7h0M95.2 610.7h0M81.0 606.9h0M81.8 606.2h0M95.9 610.4h0M93.0 604.3h0M76.0 601.2h0M66.5 582.6h0M74.5 575.5h0M95.8 594.7h0M65.4 582.2h0M92.6 611.2h0M107.5 612.8h0M99.2 602.5h0M66.6 591.2h0M86.7 602.8h0M93.1 606.4h0M76.3 579.6h0M88.2 602.9h0M94.3 612.8h0M66.8 583.2h0M77.2 573.4h0M63.2 575.6h0M71.4 588.2h0M79.7 579.6h0M113.7 629.9h0M94.2 598.4h0M97.0 603.2h0M95.8 617.2h0M83.2 607.4h0M91.4 601.9h0M76.0 580.6h0M96.2 602.5h0M71.3 586.5h0M83.4 603.3h0M67.7 584.3h0M96.3 597.6h0M84.3 604.4h0M68.9 583.5h0M79.5 576.8h0M92.2 598.3h0M70.0 587.2h0M68.5 586.1h0M95.0 600.7h0M72.5 581.4h0M79.4 579.0h0M69.4 594.0h0M69.6 592.4h0M65.4 578.7h0M72.7 591.9h0M98.1 604.8h0M91.2 597.3h0M65.5 586.3h0M92.2 603.3h0M84.5 580.6h0M70.8 596.2h0M75.7 584.0h0M82.3 607.3h0M69.5 571.9h0M64.2 574.7h0M68.7 590.6h0M74.5 570.5h0M82.1 583.5h0M77.4 586.4h0M93.2 598.0h0M61.4 586.0h0M90.2 595.2h0M69.7 592.8h0M93.0 605.6h0M77.6 578.6h0M91.2 599.4h0M71.2 590.8h0M73.1 598.5h0M81.8 607.0h0M86.3 606.4h0M84.4 606.2h0M69.2 594.2h0M88.4 603.9h0M72.6 587.1h0M72.8 591.8h0M69.0 593.2h0M82.0 602.4h0M74.5 580.0h0M82.6 606.3h0M88.3 603.8h0M69.1 594.5h0M68.1 588.5h0M90.8 611.4h0M88.9 607.3h0M94.2 603.4h0M64.5 580.8h0M87.0 595.4h0M82.0 603.7h0M96.0 596.8h0M67.6 582.8h0M74.7 584.6h0M68.4 589.7h0M72.9 575.8h0M72.6 598.1h0M71.5 582.4h0M86.7 606.1h0M92.3 604.8h0M81.9 584.5h0M65.4 582.1h0M92.9 601.3h0M68.4 584.9h0M90.8 606.6h0M73.8 588.3h0M94.6 596.9h0M66.2 578.8h0M86.2 605.5h0M72.6 596.6h0M69.3 593.3h0M95.4 591.9h0M59.4 580.7h0M90.2 595.9h0M72.5 584.1h0M75.5 580.2h0M115.5 613.2h0M80.6 606.7h0M93.5 597.2h0M70.0 571.4h0M79.7 588.6h0M94.8 592.9h0M82.9 581.1h0M77.4 602.4h0M99.9 619.5h0M86.5 609.0h0M89.0 595.8h0M88.2 599.7h0M71.0 582.4h0M89.6 598.8h0M92.9 611.8h0M61.9 585.0h0M71.0 595.0h0M73.6 584.6h0M88.7 601.8h0M89.0 600.9h0M69.6 580.1h0M68.8 593.4h0M74.5 600.0h0M85.6 603.9h0M80.0 576.3h0M68.7 594.0h0M73.0 578.3h0M69.5 579.4h0M75.5 579.8h0M89.0 614.3h0M89.8 596.2h0M64.5 583.8h0M76.1 578.5h0M88.0 596.1h0M69.4 588.8h0M82.2 578.4h0M86.8 610.1h0M89.7 594.1h0M73.2 589.1h0M66.6 591.4h0M85.2 599.0h0M88.7 601.8h0M71.5 596.5h0M76.7 599.0h0M68.4 579.9h0M97.4 605.6h0M80.6 583.8h0M85.0 585.3h0M91.7 602.4h0M76.5 581.9h0M70.3 593.4h0M100.9 602.4h0M78.2 584.2h0M75.5 574.8h0M77.7 583.5h0M90.4 599.7h0M97.2 601.9h0M71.0 591.8h0M68.1 591.8h0M95.9 593.6h0M65.5 588.8h0M67.2 588.3h0M54.9 577.2h0M73.0 586.5h0M90.0 607.2h0M78.0 595.0h0M95.9 597.0h0M75.9 585.5h0M77.2 576.9h0M66.8 573.1h0M89.4 603.1h0M86.8 602.8h0M96.7 608.9h0M68.2 581.6h0M77.1 602.3h0M85.6 581.5h0M76.8 585.2h0M67.2 591.7h0M81.5 577.5h0M73.4 575.6h0M75.3 591.6h0M90.5 591.9h0M69.8 586.8h0M103.9 602.0h0M87.0 593.2h0M96.7 593.4h0M67.3 589.2h0M76.7 582.6h0M86.2 591.3h0M95.1 594.8h0M81.6 578.7h0M81.6 604.9h0M83.3 587.3h0M68.9 588.6h0M82.0 607.4h0M77.1 603.1h0M70.4 579.7h0M92.1 597.0h0M77.6 580.0h0M87.2 593.3h0M84.7 599.6h0M69.8 581.5h0M82.3 579.3h0M86.5 583.6h0M86.0 594.3h0M81.7 590.5h0M78.4 580.9h0M75.9 591.6h0M83.2 601.4h0M82.7 579.3h0M54.5 565.3h0M72.6 597.8h0M77.3 590.0h0M70.6 584.7h0M70.9 578.6h0M89.6 590.7h0M95.6 599.5h0M89.5 599.9h0M91.5 601.1h0M69.0 594.2h0M84.7 593.3h0M79.1 582.6h0M70.5 583.7h0M88.9 585.8h0M84.9 610.6h0M77.1 583.9h0M93.8 592.2h0M93.1 605.8h0M91.4 594.3h0M83.6 590.1h0M70.7 590.1h0M80.3 579.0h0M70.7 591.7h0M77.9 586.7h0M82.7 584.9h0M93.6 603.9h0M81.2 584.9h0M92.9 597.2h0M89.4 592.3h0M85.1 590.2h0M79.0 588.2h0M72.8 586.7h0M90.0 593.9h0M93.1 605.8h0M54.0 571.1h0M89.5 599.4h0M75.7 585.7h0M72.0 594.2h0M61.3 571.5h0M66.1 589.1h0M68.0 589.3h0M88.4 596.5h0M76.4 600.1h0M84.1 608.4h0M68.9 589.4h0M82.3 606.7h0M51.8 559.3h0M81.3 591.8h0M71.9 593.0h0M82.9 583.8h0M97.4 599.1h0M81.1 604.4h0M86.7 596.3h0M80.7 580.5h0M89.8 590.4h0M68.0 581.7h0M77.2 580.4h0M68.0 585.5h0M77.7 577.2h0M73.4 583.2h0M81.3 583.0h0M70.4 595.6h0M83.1 603.2h0M91.5 598.7h0M68.1 593.3h0M79.1 605.1h0M64.3 586.0h0M79.1 584.4h0M86.7 609.0h0M81.2 581.9h0M76.4 596.2h0M75.3 591.0h0M75.3 585.9h0M86.1 591.9h0M77.9 596.1h0M80.9 590.6h0M88.8 594.4h0M84.5 594.6h0M96.4 592.6h0M72.5 595.6h0M93.6 599.1h0M91.0 594.6h0M62.9 581.9h0M73.8 587.5h0M69.4 583.6h0M88.4 586.7h0M86.4 602.5h0M79.4 583.9h0M78.5 601.0h0M91.8 595.7h0M88.4 607.6h0M77.8 603.7h0M87.9 600.5h0M78.3 575.4h0M92.6 595.2h0M80.4 578.0h0M70.6 593.1h0M68.2 581.6h0M83.3 579.3h0M61.7 582.2h0M91.4 589.6h0M71.7 584.5h0M77.5 600.2h0M73.5 582.1h0M85.8 597.1h0M90.4 609.7h0M85.0 609.1h0M81.2 590.7h0M90.7 595.9h0M78.7 601.6h0M89.3 585.0h0M81.8 585.0h0M71.7 587.8h0M83.1 601.2h0M86.5 599.3h0M84.3 599.5h0M81.7 579.2h0M91.8 595.8h0M87.7 593.5h0M81.2 589.0h0M89.3 586.9h0M80.3 595.9h0M78.2 600.1h0M88.4 600.6h0M80.7 575.7h0M72.6 589.5h0M87.5 600.3h0M87.9 585.3h0M85.3 592.2h0M90.0 593.4h0M87.7 599.0h0M65.6 576.4h0M74.3 592.5h0M74.6 576.9h0M94.0 594.5h0M89.7 615.0h0M74.7 600.0h0M74.6 582.7h0M81.9 607.1h0M77.5 585.1h0M70.9 579.4h0M117.6 624.8h0M84.5 604.7h0M89.8 597.6h0M84.8 582.7h0M92.7 617.2h0M88.5 599.0h0M76.5 590.7h0M89.0 601.0h0M99.4 597.0h0M82.5 605.1h0M72.8 587.8h0M77.3 592.6h0M61.4 585.6h0M70.6 588.7h0M76.0 597.9h0M86.9 601.4h0M87.2 592.9h0M88.0 604.6h0M74.0 592.7h0M88.2 586.8h0M81.7 601.5h0M75.4 581.2h0M83.6 587.9h0M96.2 597.5h0M70.5 593.9h0M62.4 584.2h0M78.7 602.6h0M71.1 594.7h0M83.4 593.3h0M67.9 577.2h0M89.5 589.5h0M77.5 603.2h0M78.7 582.3h0M90.4 589.8h0M75.9 581.1h0M90.8 598.1h0M103.8 604.2h0M76.9 580.1h0M78.6 604.5h0M88.4 603.2h0M90.7 602.6h0M86.7 592.5h0M71.2 596.4h0M77.8 577.3h0M77.8 587.1h0M77.9 580.8h0M71.5 585.3h0M77.9 603.1h0M89.9 586.3h0M88.9 591.8h0M91.0 596.5h0M70.6 580.4h0M70.3 593.2h0M83.5 584.1h0M88.9 598.4h0M66.0 588.4h0M84.0 598.2h0M80.6 582.5h0M93.3 595.1h0M74.8 587.5h0M94.5 598.0h0M82.6 580.2h0M89.6 610.6h0M100.9 611.3h0M72.0 588.4h0M79.5 603.0h0M86.3 604.6h0M74.5 585.6h0M76.2 592.2h0M76.9 589.9h0M85.3 600.1h0M85.7 593.6h0M77.8 585.0h0M73.8 596.4h0M83.4 590.0h0M101.3 621.1h0M72.9 581.0h0M85.5 585.9h0M84.0 584.8h0M105.2 615.3h0M65.0 588.5h0M71.9 585.6h0M69.5 594.8h0M92.9 596.5h0M82.2 601.2h0M64.6 587.1h0M90.7 588.9h0M74.8 581.2h0M80.7 584.9h0M95.5 595.5h0M80.6 602.3h0M70.0 585.8h0M93.6 590.3h0M82.9 603.5h0M83.9 588.8h0M83.8 602.0h0M79.3 586.4h0M76.3 584.3h0M75.8 589.5h0M89.9 596.4h0M68.6 591.1h0M77.7 574.4h0M76.8 596.4h0M84.0 586.8h0M88.2 586.8h0M86.1 597.6h0M72.7 575.1h0M78.8 603.3h0M74.1 591.0h0M76.9 591.4h0M70.8 590.8h0M82.6 605.0h0M95.8 595.2h0M78.2 592.7h0M83.2 603.0h0M91.1 598.3h0M84.0 592.0h0M80.6 579.4h0M78.9 587.0h0M73.7 598.4h0M71.1 586.6h0M84.3 601.2h0M92.3 589.5h0M75.3 596.5h0M78.8 578.8h0M75.8 596.9h0M90.0 602.8h0M72.8 598.2h0M94.5 607.0h0M82.0 599.4h0M84.4 582.8h0M79.9 575.1h0M83.9 591.5h0M84.9 590.8h0M85.4 600.3h0M91.4 597.2h0M89.9 590.2h0M84.8 588.7h0M77.6 594.6h0M90.3 613.3h0M82.3 591.6h0M89.9 588.5h0M84.2 598.0h0M76.7 589.1h0M66.9 586.8h0M79.5 580.5h0M91.4 594.2h0M79.0 578.2h0M74.2 595.0h0M77.2 600.5h0M73.5 593.8h0M81.8 603.5h0M79.2 602.0h0M94.7 593.0h0M76.6 601.5h0M66.4 583.3h0M83.5 586.6h0M84.0 608.6h0M85.1 581.6h0M86.7 610.8h0M81.6 600.2h0M86.2 594.7h0M76.7 594.7h0M65.6 583.0h0M93.0 596.3h0M66.9 583.4h0M79.6 604.8h0M72.8 594.8h0M81.7 594.8h0M84.3 583.6h0M89.4 598.4h0M81.3 583.6h0M60.8 556.0h0M76.8 586.9h0M87.1 592.6h0M86.9 584.7h0M83.8 609.3h0M91.2 598.5h0M75.7 587.7h0M87.2 598.6h0M85.7 603.5h0M94.1 592.1h0M73.8 579.4h0M85.5 592.1h0M92.6 596.5h0M77.8 599.0h0M82.5 607.0h0M78.4 594.1h0M87.6 597.3h0M85.4 583.7h0M71.0 582.2h0M88.5 587.2h0M77.8 585.2h0M85.3 603.0h0M92.2 602.2h0M96.9 595.2h0M72.6 588.1h0M83.2 599.3h0M83.4 592.6h0M75.9 601.2h0M94.7 597.3h0M81.3 599.7h0M89.0 587.5h0M91.6 594.0h0M80.5 582.2h0M73.3 584.6h0M85.1 592.4h0M87.8 588.0h0M82.4 591.0h0M81.1 597.4h0M77.2 600.3h0M70.8 577.9h0M89.7 596.6h0M74.3 581.7h0M75.9 582.0h0M87.9 604.6h0M77.1 593.7h0M77.6 582.5h0M93.9 590.8h0M86.6 587.7h0M76.6 574.1h0M74.4 589.8h0M84.4 593.0h0M85.1 581.8h0M82.5 580.6h0M91.1 603.3h0M79.3 593.9h0M86.0 584.3h0M84.6 583.8h0M84.5 596.0h0M74.5 584.2h0M73.9 598.3h0M85.6 602.6h0M93.2 589.4h0M74.1 585.1h0M86.3 588.5h0M44.5 549.6h0M73.9 586.6h0M88.3 596.1h0M81.9 580.2h0M70.8 596.2h0M91.9 588.5h0M90.5 592.8h0M83.9 588.1h0M86.5 592.0h0M81.2 599.3h0M73.1 586.8h0M80.2 600.1h0M87.6 604.7h0M79.0 600.2h0M85.7 598.4h0M78.0 582.0h0M59.3 580.6h0M82.5 592.2h0M78.3 595.6h0M81.2 603.0h0M75.7 598.3h0M83.0 594.2h0M83.5 588.6h0M76.6 589.2h0M84.7 594.5h0M79.1 599.9h0M77.9 588.7h0M82.3 593.6h0M88.4 589.8h0M85.3 581.7h0M77.2 577.4h0M81.9 590.3h0M84.2 594.8h0M77.6 593.8h0M70.3 590.1h0M80.4 601.8h0M87.6 595.7h0M77.2 598.1h0M81.8 593.2h0M91.3 591.6h0M93.3 604.5h0M83.8 585.3h0M68.5 588.7h0M87.0 603.2h0M73.1 590.1h0M74.2 593.0h0M84.9 590.9h0M87.8 595.9h0M82.2 603.1h0M75.1 600.1h0M82.0 586.2h0M77.6 572.4h0M77.3 581.1h0M78.6 597.6h0M80.0 605.5h0M80.4 588.1h0M78.6 593.3h0M90.8 591.6h0M98.5 596.9h0M90.4 594.2h0M64.4 588.7h0M83.6 600.7h0M79.0 576.1h0M80.8 587.6h0M86.3 582.2h0M70.0 591.4h0M81.3 578.8h0M76.8 597.6h0M73.3 585.3h0M78.1 582.4h0M92.3 593.9h0M96.1 592.7h0M69.5 578.8h0M81.5 580.3h0M89.2 591.6h0M82.6 586.8h0M72.4 597.9h0M79.8 586.8h0M85.5 590.1h0M69.6 589.1h0M78.5 578.2h0M79.2 590.7h0M81.5 588.1h0M69.4 576.6h0M72.6 588.5h0M80.2 590.6h0M71.0 596.5h0M83.7 584.0h0M86.1 605.1h0M75.1 574.4h0M81.1 587.2h0M83.8 581.3h0M94.3 598.0h0M85.0 584.3h0M74.5 598.5h0M88.3 588.2h0M86.2 597.8h0M96.7 603.3h0M88.1 589.1h0M88.8 593.0h0M79.9 596.1h0M84.0 596.5h0M81.5 588.8h0M78.5 595.5h0M73.1 593.2h0M78.0 590.6h0M68.8 586.2h0M86.5 590.2h0M81.5 599.2h0M77.6 588.1h0M81.0 602.0h0M71.0 583.8h0M86.1 612.1h0M79.4 591.5h0M91.6 606.7h0M81.8 594.8h0M75.4 587.3h0M83.4 581.9h0M67.8 581.2h0M80.4 598.1h0M87.2 591.6h0M76.1 578.9h0M85.2 586.1h0M75.8 589.5h0M86.7 586.1h0M81.5 580.1h0M74.9 600.3h0M83.8 592.4h0M90.5 593.1h0M71.3 593.4h0M76.6 593.3h0M74.7 588.8h0M87.4 591.0h0M90.2 600.4h0M81.4 588.8h0M85.4 596.2h0M82.2 589.2h0M89.1 590.8h0M72.8 592.6h0M82.0 604.9h0M85.6 607.4h0M82.2 593.2h0M81.8 581.7h0M76.0 584.1h0M86.3 586.5h0M76.9 584.9h0M77.8 588.3h0M88.3 606.0h0M91.3 587.9h0M89.8 589.3h0M81.4 585.1h0M79.2 594.5h0M80.0 600.9h0M78.8 595.3h0M99.8 597.9h0M74.3 583.2h0M78.5 586.7h0M75.4 580.6h0M78.7 603.1h0M76.5 599.5h0M73.6 582.2h0M88.2 590.8h0M73.7 591.0h0M89.7 586.3h0M80.5 577.0h0M85.5 601.0h0M79.3 604.2h0M75.2 598.9h0M88.3 591.2h0M72.7 591.4h0M82.8 593.6h0M86.6 600.2h0M88.6 588.5h0M82.5 593.8h0M69.8 595.1h0M85.5 600.5h0M94.5 591.7h0M62.7 584.7h0M79.6 596.4h0M89.2 584.9h0M84.1 581.4h0M56.6 573.8h0M81.1 585.2h0M89.1 588.4h0M82.9 604.5h0M85.5 595.6h0M86.1 598.8h0M82.7 596.7h0M79.3 599.1h0M85.5 588.0h0M67.9 589.0h0M80.9 599.3h0M77.1 591.3h0M76.2 591.6h0M80.2 584.1h0M89.5 587.0h0M81.6 602.0h0M73.0 597.8h0M79.7 589.5h0M78.8 583.1h0M80.7 577.9h0M75.5 594.7h0M64.5 585.4h0M69.8 592.1h0M94.5 594.5h0M84.2 589.7h0M86.4 592.5h0M83.1 590.1h0M90.5 588.0h0M87.9 592.1h0M69.1 591.2h0M72.6 596.4h0M78.3 589.3h0M91.8 593.0h0M85.5 599.5h0M77.7 598.8h0M83.6 589.7h0M78.7 599.6h0M88.4 595.9h0M93.0 602.1h0M79.9 598.2h0M82.6 598.0h0M92.6 600.1h0M90.9 591.1h0M83.8 582.8h0M83.1 585.7h0M80.5 587.2h0M82.0 605.1h0M75.2 593.6h0M66.2 589.8h0M79.3 602.9h0M85.6 585.5h0M94.2 595.2h0M86.8 584.3h0M89.2 612.5h0M84.3 586.4h0M82.1 589.2h0M73.7 596.8h0M85.9 586.9h0M90.6 596.9h0M79.5 587.9h0M84.3 580.4h0M81.0 583.0h0M77.9 573.0h0M79.0 597.0h0M74.0 599.6h0M77.3 580.9h0M95.2 617.4h0M76.2 601.9h0M85.5 601.8h0M86.9 584.4h0M81.6 597.4h0M80.3 585.8h0M93.9 616.7h0M88.5 601.1h0M82.0 592.7h0M81.1 601.4h0M83.8 604.9h0M78.2 586.2h0M88.4 591.6h0M74.7 590.4h0M86.0 611.5h0M96.5 600.2h0M71.5 594.4h0M70.6 587.0h0M69.4 586.7h0M79.6 598.1h0M76.3 582.9h0M70.3 583.5h0M80.8 590.8h0M75.3 588.3h0M81.1 598.4h0M86.7 597.4h0M80.9 583.6h0M81.0 585.4h0M73.8 591.5h0M75.1 593.0h0M81.6 598.5h0M86.3 585.5h0M93.3 601.4h0M70.0 591.3h0M79.2 596.6h0M76.9 587.9h0M87.5 584.0h0M83.3 578.5h0M88.7 594.3h0M82.3 600.5h0M80.0 590.8h0M74.6 594.1h0M85.1 594.4h0M78.8 589.0h0M80.6 587.3h0M90.9 593.4h0M79.3 582.9h0M83.4 591.5h0M78.2 590.5h0M83.6 594.9h0M80.8 593.4h0M79.7 587.8h0M82.9 589.2h0M96.2 593.2h0M82.2 587.1h0M73.1 592.7h0M81.3 582.1h0M85.3 600.6h0M86.3 589.2h0M87.6 601.5h0M83.6 580.2h0M85.0 589.2h0M80.7 585.7h0M80.0 591.8h0M84.5 596.6h0M72.7 595.0h0M92.4 599.4h0M73.1 588.3h0M80.6 591.8h0M84.1 599.9h0M82.2 587.1h0M87.7 594.5h0M77.7 583.2h0M88.5 591.9h0M84.5 601.4h0M72.5 590.0h0M84.4 597.5h0M90.0 587.9h0M84.8 597.7h0M92.5 591.7h0M88.5 602.0h0M87.2 591.8h0M68.3 584.8h0M83.4 596.6h0M71.0 577.5h0M80.1 576.3h0M78.5 576.7h0M69.4 589.4h0M67.8 582.3h0M75.7 601.1h0M87.5 601.3h0M64.1 571.1h0M92.5 592.0h0M86.0 602.3h0M77.4 577.9h0M80.6 594.0h0M86.6 587.4h0M77.3 587.0h0M75.8 589.5h0M84.5 583.6h0M75.8 586.8h0M74.6 599.7h0M79.9 584.6h0M80.6 594.6h0M81.8 606.2h0M88.7 593.9h0M82.5 595.3h0M78.6 586.2h0M65.3 579.1h0M82.5 604.9h0M80.0 604.5h0M72.5 577.7h0M86.3 603.4h0M88.1 585.1h0M86.0 609.1h0M74.5 596.5h0M85.0 587.3h0M99.9 601.3h0M82.9 586.2h0M96.5 615.2h0M77.7 596.9h0M78.1 592.2h0M86.3 583.8h0M83.3 598.7h0M70.9 595.7h0M86.7 603.6h0M87.5 603.7h0M67.2 592.0h0M78.4 599.9h0M97.4 595.8h0M71.1 586.3h0M83.9 584.3h0M89.9 590.4h0M78.7 589.0h0M85.5 581.9h0M77.5 597.3h0M73.3 586.0h0M77.2 599.9h0M87.2 598.2h0M71.2 596.2h0M78.7 584.7h0M81.4 602.5h0M79.8 584.8h0M62.0 582.0h0M83.5 602.3h0M86.5 589.3h0M81.8 592.3h0M65.8 566.1h0M89.5 590.0h0M74.0 595.7h0M80.9 591.0h0M86.1 595.8h0M80.9 596.3h0M87.6 589.4h0M80.3 584.9h0M83.4 597.6h0M88.2 589.9h0M88.7 597.2h0M81.1 599.0h0M78.1 602.9h0M74.9 597.6h0M82.7 582.3h0M73.2 580.5h0M76.8 595.3h0M81.4 579.9h0M70.1 590.8h0M80.3 591.9h0M66.1 587.6h0M74.1 581.0h0M87.1 585.9h0M93.7 593.1h0M90.4 586.0h0M92.3 590.2h0M78.9 591.8h0M92.7 592.8h0M92.5 602.6h0M88.0 600.7h0M73.0 591.4h0M80.3 589.9h0M93.7 608.3h0M75.1 590.0h0M80.2 593.5h0M80.7 592.1h0M82.8 585.2h0M77.7 597.6h0M102.2 599.7h0M85.5 594.3h0M79.4 592.7h0M82.2 587.9h0M86.1 588.5h0M68.5 589.1h0M79.2 591.8h0M92.1 591.0h0M79.7 585.3h0M88.9 609.7h0M71.9 589.5h0M104.9 604.6h0M90.6 592.2h0M78.5 591.4h0M74.3 585.9h0M85.4 594.8h0M89.4 603.3h0M75.8 588.7h0M76.6 578.7h0M92.5 594.3h0M88.0 587.4h0M74.3 595.4h0M87.0 583.7h0M92.3 588.5h0M76.1 597.1h0M91.0 587.1h0M89.6 605.4h0M72.0 589.2h0M88.1 591.7h0M83.8 605.9h0M80.2 594.8h0M77.0 599.7h0M82.8 582.9h0M79.5 598.8h0M84.2 587.7h0M86.9 588.8h0M92.6 594.1h0M73.0 595.2h0M91.4 611.6h0M81.3 586.4h0M73.5 596.8h0M65.5 576.1h0M82.2 596.0h0M98.2 620.3h0M84.9 588.8h0M79.9 597.5h0M91.4 590.2h0M77.3 588.8h0M83.3 583.5h0M74.6 597.3h0M98.8 622.9h0M73.7 581.1h0M88.3 608.1h0M64.8 587.5h0M85.6 606.2h0M74.7 578.7h0M87.7 598.2h0M73.8 598.6h0M90.8 599.2h0M91.6 590.1h0M80.3 604.0h0M83.6 606.5h0M87.2 584.2h0M92.4 611.7h0M83.0 589.6h0M86.8 589.9h0M77.2 592.0h0M73.0 577.5h0M75.7 593.9h0M81.4 585.8h0M85.0 606.0h0M84.6 597.3h0M74.8 575.9h0M84.5 586.8h0M87.4 592.3h0M78.2 597.5h0M79.1 598.6h0M81.7 588.4h0M81.8 596.9h0M73.9 589.4h0M80.8 603.7h0M85.1 608.3h0M87.6 592.5h0M75.8 595.4h0M68.8 586.5h0M83.3 595.6h0M71.3 591.5h0M82.0 592.2h0M83.9 599.0h0M78.7 594.6h0M76.8 588.6h0M73.8 584.4h0M117.3 591.9h0M100.2 589.0h0M91.6 565.6h0M86.4 569.0h0M119.1 586.8h0M102.9 593.0h0M92.9 565.1h0M85.1 569.4h0M101.7 595.7h0M84.3 571.7h0M106.1 595.1h0M91.0 568.9h0M94.6 564.1h0M109.8 577.0h0M88.2 563.3h0M101.5 581.7h0M94.4 564.5h0M102.0 586.2h0M102.3 591.3h0M106.0 580.3h0M99.1 595.2h0M93.9 564.4h0M99.3 590.1h0M93.1 587.9h0M102.7 588.7h0M93.7 566.1h0M98.7 583.4h0M121.3 600.7h0M91.6 583.6h0M107.4 596.0h0M96.4 562.1h0M103.8 579.1h0M106.5 581.2h0M111.9 586.1h0M113.9 583.2h0M93.1 560.2h0M92.0 563.6h0M105.8 573.0h0M97.3 586.5h0M80.7 569.9h0M107.1 590.4h0M101.2 586.2h0M102.8 592.0h0M94.1 589.3h0M108.2 577.5h0M97.0 590.8h0M103.9 578.4h0M103.4 585.1h0M94.3 566.1h0M99.0 587.1h0M100.4 587.5h0M82.2 576.3h0M89.2 584.4h0M87.7 561.9h0M106.3 572.1h0M107.3 589.6h0M100.4 584.4h0M110.9 595.5h0M82.1 571.3h0M92.0 564.4h0M106.0 576.9h0M78.9 571.2h0M80.8 552.8h0M88.2 571.0h0M89.2 564.2h0M82.3 560.7h0M93.9 571.0h0M90.2 555.4h0M102.5 579.6h0M81.8 557.9h0M94.4 561.1h0M109.0 575.7h0M95.3 563.5h0M89.2 571.4h0M83.2 566.7h0M85.6 567.0h0M103.2 586.5h0M100.4 591.7h0M100.8 587.3h0M101.3 586.5h0M114.8 590.2h0M98.2 581.1h0M89.8 584.9h0M99.6 594.8h0M90.3 565.6h0M82.5 571.4h0M105.7 571.9h0M108.1 580.8h0M77.8 543.7h0M105.1 587.4h0M105.6 595.9h0M92.1 572.4h0M92.1 564.8h0M79.4 572.0h0M82.4 561.0h0M88.9 583.8h0M83.8 578.8h0M102.8 582.8h0M120.7 589.2h0M100.6 593.9h0M109.0 585.2h0M94.4 566.4h0M114.7 582.2h0M107.0 579.8h0M88.6 560.0h0M85.0 580.0h0M91.2 566.0h0M88.3 582.9h0M107.4 582.8h0M84.3 578.1h0M53.5 543.9h0M102.0 592.6h0M89.7 584.5h0M107.7 588.4h0M98.8 582.9h0M111.2 584.8h0M104.1 592.1h0M90.4 564.1h0M86.7 553.4h0M86.7 566.5h0M108.3 581.6h0M92.1 587.5h0M120.3 605.3h0M80.9 571.6h0M104.4 589.9h0M101.3 580.7h0M77.2 560.6h0M90.9 569.3h0M82.8 569.7h0M104.0 579.3h0M97.3 568.3h0M88.4 574.3h0M100.5 578.3h0M103.7 577.9h0M97.9 582.4h0M100.5 570.2h0M104.2 587.7h0M97.4 562.4h0M94.1 570.9h0M110.7 578.0h0M98.8 589.1h0M94.4 590.1h0M103.2 584.7h0M106.2 590.3h0M88.6 574.8h0M104.9 581.5h0M100.2 585.9h0M90.1 565.5h0M97.4 585.4h0M95.0 565.5h0M92.5 558.7h0M83.3 577.9h0M82.5 577.2h0M106.9 580.9h0M92.6 558.5h0M100.9 571.2h0M83.8 570.8h0M105.0 578.1h0M97.4 576.1h0M109.9 585.6h0M109.7 583.6h0M99.2 586.9h0M90.9 573.8h0M89.7 570.9h0M100.4 590.6h0M117.8 583.9h0M105.0 573.5h0M92.1 573.1h0M83.3 576.8h0M106.0 593.6h0M102.0 580.4h0M88.1 555.5h0M84.6 572.5h0M60.0 543.3h0M101.3 579.1h0M85.8 562.3h0M106.0 586.6h0M87.7 582.3h0M106.9 580.1h0M107.4 587.4h0M84.8 565.3h0M102.0 596.8h0M91.5 586.8h0M98.5 579.5h0M110.5 579.0h0M94.6 567.2h0M92.7 568.5h0M105.5 577.3h0M99.8 570.1h0M85.5 579.8h0M103.5 584.4h0M100.3 582.9h0M89.3 565.3h0M73.4 566.9h0M92.4 563.6h0M99.9 588.3h0M84.7 577.7h0M89.3 575.0h0M101.0 594.0h0M98.4 578.0h0M93.9 558.7h0M107.2 587.5h0M114.5 600.1h0M91.1 569.2h0M92.4 561.1h0M93.5 567.1h0M88.1 573.9h0M98.3 587.2h0M104.1 582.2h0M104.8 575.1h0M103.1 581.6h0M93.9 584.1h0M92.3 583.0h0M102.5 574.0h0M81.5 566.3h0M92.0 573.3h0M86.6 571.3h0M76.7 569.7h0M91.7 584.3h0M87.0 567.2h0M101.4 587.7h0M98.0 582.9h0M84.8 578.9h0M77.2 559.7h0M97.4 584.9h0M88.2 571.4h0M106.6 572.6h0M97.7 585.0h0M102.5 592.0h0M95.0 589.5h0M102.0 587.7h0M106.1 575.2h0M105.6 596.3h0M116.3 584.1h0M103.5 582.3h0M103.3 587.8h0M90.7 580.1h0M94.8 583.5h0M82.4 570.6h0M100.8 583.9h0M86.7 565.2h0M105.7 588.6h0M103.8 580.6h0M83.3 572.7h0M84.5 575.0h0M82.2 569.4h0M91.7 572.8h0M96.3 589.5h0M80.9 573.8h0M100.4 586.6h0M84.5 575.8h0M92.4 583.9h0M87.3 582.5h0M78.4 571.5h0M99.8 569.9h0M84.5 579.5h0M101.6 579.0h0M95.7 582.4h0M81.3 574.8h0M94.8 564.7h0M102.5 590.5h0M104.2 580.4h0M99.0 576.3h0M85.6 575.0h0M90.7 556.8h0M99.7 583.5h0M86.3 581.2h0M95.4 561.4h0M81.3 570.1h0M83.8 574.5h0M99.8 583.6h0M85.9 576.6h0M89.6 555.5h0M111.7 577.9h0M94.1 565.4h0M109.2 576.2h0M96.4 591.7h0M92.6 566.8h0M106.1 586.9h0M101.7 567.1h0M94.0 588.9h0M95.9 564.3h0M92.8 576.8h0M96.8 577.4h0M103.5 582.5h0M101.3 583.9h0M83.8 568.7h0M90.5 566.1h0M95.3 561.0h0M96.6 586.2h0M100.3 581.8h0M97.7 568.7h0M91.7 567.4h0M86.9 562.0h0M95.0 590.1h0M92.4 567.6h0M100.3 585.9h0M91.1 586.5h0M97.3 580.4h0M90.9 566.5h0M101.7 571.4h0M86.1 570.7h0M91.5 561.7h0M81.8 560.1h0M102.8 578.0h0M87.5 580.2h0M104.2 580.0h0M95.8 586.2h0M89.0 578.5h0M97.3 567.2h0M108.0 575.7h0M92.8 585.8h0M92.7 586.6h0M94.9 563.0h0M95.6 563.5h0M105.3 576.7h0M96.9 586.7h0M89.9 579.1h0M91.9 569.0h0M100.0 590.1h0M93.4 558.4h0M104.7 589.2h0M93.8 569.7h0M97.9 583.9h0M96.5 590.5h0M90.1 585.3h0M86.5 568.5h0M103.3 588.8h0M87.3 572.7h0M85.9 579.8h0M88.9 569.1h0M101.8 577.8h0M90.3 574.1h0M92.3 568.4h0M98.1 591.1h0M106.2 580.8h0M94.8 582.5h0M98.2 588.8h0M103.4 580.4h0M84.3 566.5h0M91.8 587.4h0M96.2 575.1h0M114.4 596.3h0M93.4 588.0h0M92.6 561.4h0M97.9 583.2h0M89.5 579.8h0M100.8 583.1h0M86.2 572.0h0M96.6 578.5h0M97.6 569.1h0M99.4 571.6h0M89.4 569.3h0M95.6 563.0h0M97.2 584.7h0M96.5 588.3h0M81.8 576.0h0M102.9 577.6h0M116.0 603.4h0M109.7 577.2h0M94.0 580.9h0M102.0 582.6h0M95.1 582.6h0M90.6 564.4h0M84.7 569.6h0M108.2 599.0h0M85.7 564.3h0M86.1 580.8h0M88.7 567.9h0M96.1 565.3h0M84.7 577.2h0M100.7 589.6h0M109.9 583.3h0M93.2 579.3h0M89.5 567.5h0M97.8 580.2h0M92.1 565.7h0M84.8 556.6h0M91.8 573.8h0M85.7 555.6h0M86.0 575.3h0M88.1 579.3h0M98.8 584.3h0M103.4 575.6h0M102.8 576.8h0M100.9 573.1h0M93.2 583.2h0M95.9 575.5h0M89.0 572.6h0M81.9 570.6h0M97.4 568.8h0M100.6 589.1h0M100.0 578.0h0M84.9 573.2h0M99.0 580.9h0M86.7 559.4h0M94.0 564.7h0M104.8 572.4h0M107.2 586.7h0M102.6 576.0h0M82.4 574.7h0M84.8 571.5h0M88.5 573.1h0M98.6 575.7h0M111.2 586.0h0M97.9 582.6h0M91.3 579.2h0M90.4 567.5h0M90.5 569.1h0M83.7 574.3h0M122.6 591.2h0M88.7 572.6h0M99.7 577.9h0M95.5 589.8h0M96.8 582.5h0M108.1 581.5h0M95.7 587.4h0M101.6 567.9h0M82.3 575.8h0M101.9 572.9h0M86.2 573.7h0M102.5 568.8h0M130.7 627.5h0M91.0 570.7h0M96.3 564.4h0M87.5 562.8h0M100.3 568.5h0M101.0 581.8h0M95.9 570.7h0M102.4 572.0h0M93.9 568.4h0M104.3 574.7h0M106.3 575.0h0M95.5 583.3h0M88.8 583.7h0M108.7 578.8h0M94.5 584.0h0M98.2 571.3h0M103.2 581.8h0M80.6 572.8h0M101.8 579.4h0M102.0 576.3h0M70.4 563.8h0M104.0 584.9h0M100.0 571.4h0M90.2 578.8h0M110.2 584.9h0M103.1 576.4h0M95.7 565.4h0M97.2 570.2h0M92.8 564.8h0M98.7 564.4h0M98.3 567.3h0M83.1 577.9h0M85.9 578.3h0M92.2 575.0h0M94.5 578.2h0M98.8 569.2h0M88.8 579.7h0M106.3 573.5h0M103.3 572.6h0M100.4 577.5h0M107.6 573.5h0M101.3 579.3h0M100.6 574.8h0M99.3 567.9h0M88.7 581.5h0M83.4 577.0h0M101.6 579.6h0M68.5 556.2h0M108.6 574.5h0M83.5 575.6h0M91.3 584.7h0M92.9 584.0h0M95.6 570.4h0M102.8 574.4h0M91.9 564.5h0M101.8 572.7h0M98.2 580.6h0M87.3 577.7h0M94.4 573.9h0M95.7 591.3h0M96.6 571.3h0M91.2 585.9h0M87.5 558.6h0M99.4 579.8h0M91.4 579.0h0M86.0 573.1h0M97.1 579.9h0M88.9 570.0h0M82.8 564.5h0M101.1 585.7h0M90.3 573.2h0M103.2 574.7h0M85.3 578.0h0M101.9 580.1h0M105.1 590.6h0M111.0 578.8h0M89.3 565.3h0M98.8 588.3h0M93.4 558.1h0M90.8 582.3h0M89.7 570.8h0M103.4 595.2h0M98.6 592.1h0M85.2 572.6h0M87.4 578.7h0M102.6 568.3h0M101.2 576.9h0M100.6 583.6h0M96.6 579.7h0M95.2 583.7h0M102.0 574.9h0M85.6 575.4h0M95.8 585.8h0M101.2 589.7h0M103.5 571.5h0M93.5 580.2h0M99.8 577.7h0M101.4 588.8h0M103.2 578.4h0M95.8 561.0h0M89.8 580.9h0M107.5 575.2h0M102.1 575.9h0M89.7 577.5h0M102.3 593.9h0M97.3 578.8h0M96.9 572.7h0M75.9 542.2h0M89.6 574.4h0M99.9 574.6h0M88.6 573.4h0M90.2 582.2h0M89.7 582.1h0M103.7 570.8h0M102.9 572.6h0M83.8 573.2h0M94.8 566.9h0M85.7 570.9h0M99.4 566.7h0M104.3 575.5h0M92.5 567.6h0M93.6 582.6h0M96.1 581.4h0M92.1 582.9h0M91.5 585.6h0M96.5 568.7h0M97.3 568.7h0M111.7 589.3h0M80.1 573.2h0M97.2 563.1h0M99.4 595.4h0M100.4 571.8h0M90.8 575.9h0M103.1 568.8h0M101.1 580.8h0M100.4 576.9h0M86.2 577.0h0M99.8 596.0h0M94.7 576.6h0M82.3 560.2h0M95.5 571.6h0M88.1 571.4h0M99.7 584.7h0M76.4 552.0h0M103.6 570.0h0M105.1 576.5h0M103.3 577.8h0M107.3 574.5h0M89.5 562.7h0M93.2 587.7h0M101.2 590.6h0M85.5 573.3h0M99.5 571.8h0M89.1 575.6h0M88.3 567.4h0M92.0 562.6h0M90.7 582.8h0M106.4 580.6h0M100.2 572.5h0M100.9 589.6h0M104.6 573.2h0M84.4 577.0h0M97.6 563.8h0M98.6 563.6h0M87.5 582.5h0M109.0 578.1h0M104.8 576.8h0M102.2 567.2h0M103.5 577.9h0M102.8 595.6h0M108.9 574.5h0M98.0 578.8h0M88.4 573.4h0M92.1 571.3h0M100.6 579.1h0M95.8 569.4h0M98.3 593.2h0M97.3 588.5h0M107.3 575.7h0M91.8 585.5h0M97.0 584.3h0M88.3 580.3h0M104.7 571.8h0M109.2 578.0h0M92.4 570.0h0M91.4 576.5h0M96.6 566.6h0M103.3 568.8h0M105.6 574.0h0M96.5 586.5h0M104.7 571.2h0M96.3 567.5h0M98.2 587.7h0M98.0 570.6h0M89.7 566.7h0M98.3 564.4h0M88.2 577.5h0M97.8 567.1h0M97.6 573.5h0M99.1 585.4h0M100.5 583.2h0M94.3 579.6h0M100.5 579.6h0M93.3 578.6h0M114.6 586.2h0M99.0 580.4h0M87.5 578.9h0M97.9 577.7h0M98.6 565.8h0M84.5 569.3h0M103.9 571.1h0M84.7 570.6h0M99.8 580.5h0M82.6 556.0h0M88.3 580.8h0M98.2 574.8h0M87.5 567.2h0M97.4 591.2h0M95.5 560.4h0M95.3 577.2h0M86.6 579.2h0M90.9 586.3h0M99.4 580.1h0M101.2 566.2h0M98.3 565.9h0M85.9 580.1h0M104.4 572.5h0M86.6 568.3h0M89.9 574.5h0M95.7 566.5h0M97.1 579.5h0M87.5 582.2h0M88.5 566.0h0M95.5 590.0h0M89.5 570.5h0M99.1 591.1h0M95.2 590.5h0M97.7 565.5h0M94.4 571.5h0M97.3 565.8h0M96.2 581.2h0M100.8 571.8h0M95.0 566.8h0M96.5 578.6h0M92.3 582.4h0M90.7 577.5h0M89.0 577.9h0M96.6 563.4h0M95.3 568.7h0M98.9 571.8h0M103.2 578.7h0M97.0 568.5h0M98.2 570.4h0M93.4 569.2h0M98.9 572.4h0M97.4 563.9h0M105.3 584.1h0M92.6 567.5h0M87.1 573.8h0M95.2 561.0h0M95.7 588.3h0M94.6 570.7h0M105.9 579.6h0M101.2 579.5h0M92.3 587.0h0M105.4 582.1h0M106.3 574.5h0M92.8 579.6h0M101.7 577.4h0M95.0 579.9h0M93.6 576.4h0M79.2 557.9h0M89.3 584.4h0M102.1 593.1h0M96.2 583.9h0M96.0 572.4h0M92.4 585.0h0M112.7 580.3h0M87.8 574.1h0M92.8 582.0h0M95.3 582.1h0M105.6 581.9h0M85.8 573.5h0M86.3 574.8h0M96.9 576.7h0M95.7 585.8h0M94.6 585.0h0M97.7 591.6h0M91.8 584.6h0M103.3 584.1h0M87.6 565.8h0M105.3 574.0h0M83.1 565.7h0M97.1 591.0h0M97.7 577.4h0M107.9 577.2h0M92.2 566.7h0M96.7 565.5h0M97.7 571.7h0M97.3 564.1h0M97.4 589.4h0M95.7 576.3h0M94.5 575.2h0M89.3 584.3h0M108.4 579.7h0M90.9 584.0h0M88.3 562.2h0M92.7 567.6h0M105.0 574.6h0M92.5 577.6h0M93.8 582.0h0M94.4 570.2h0M84.4 575.9h0M89.8 579.4h0M84.2 574.1h0M86.5 576.2h0M86.8 577.1h0M92.1 579.4h0M91.3 572.6h0M99.9 580.6h0M92.3 575.5h0M101.0 573.9h0M105.4 583.9h0M102.3 575.5h0M105.9 593.4h0M96.4 564.2h0M95.1 581.9h0M87.6 571.2h0M94.5 584.2h0M106.5 575.6h0M106.1 581.4h0M94.9 585.7h0M88.0 576.6h0M100.8 568.0h0M85.5 577.3h0M87.6 578.9h0M88.6 583.3h0M102.3 588.6h0M89.4 577.1h0M100.0 580.3h0M98.1 570.2h0M95.4 581.3h0M90.4 577.2h0M87.4 571.4h0M99.3 571.8h0M95.3 578.7h0M100.8 580.6h0M101.5 571.0h0M88.6 572.4h0M99.5 573.6h0M97.4 575.0h0M96.1 577.6h0M105.7 571.7h0M86.2 564.2h0M98.9 573.6h0M102.3 570.7h0M93.9 585.5h0M94.0 574.4h0M101.3 589.0h0M87.4 562.0h0M107.3 593.3h0M97.1 588.2h0M86.4 579.7h0M84.8 574.5h0M93.3 584.9h0M96.3 592.2h0M96.5 583.8h0M95.1 581.8h0M107.2 575.8h0M92.0 574.6h0M96.6 573.0h0M96.4 569.2h0M96.1 563.8h0M97.3 573.5h0M87.2 581.0h0M84.4 570.9h0M96.9 574.2h0M92.6 578.3h0M98.6 585.4h0M76.2 567.2h0M96.8 583.6h0M79.0 571.0h0M95.7 574.6h0M97.0 581.8h0M93.0 581.0h0M98.3 577.4h0M92.3 579.9h0M100.6 569.5h0M112.2 581.8h0M98.5 593.3h0M106.3 580.0h0M92.6 567.5h0M87.5 558.1h0M90.4 585.3h0M103.5 571.8h0M100.5 585.8h0M90.2 573.3h0M80.6 563.6h0M86.6 572.0h0M107.2 580.2h0M88.2 575.9h0M100.4 575.5h0M93.0 571.9h0M110.6 578.4h0M96.2 570.9h0M94.9 587.0h0M97.7 562.4h0M91.9 581.6h0M86.2 581.1h0M90.0 560.0h0M90.2 562.8h0M92.9 583.8h0M83.4 571.5h0M92.2 560.2h0M94.7 566.1h0M91.8 564.0h0M93.5 575.0h0M92.7 575.9h0M97.9 576.2h0M94.2 571.4h0M94.1 577.5h0M93.2 573.1h0M95.4 562.3h0M101.8 574.2h0M94.7 567.5h0M104.2 579.4h0M98.8 568.1h0M94.4 587.9h0M97.5 566.7h0M104.8 570.2h0M92.3 570.7h0M93.3 578.0h0M98.1 566.3h0M83.9 563.7h0M98.8 569.1h0M96.6 562.6h0M108.3 579.0h0M90.9 571.6h0M93.2 571.6h0M102.3 569.3h0M96.5 576.4h0M86.5 579.5h0M92.9 557.7h0M103.2 581.2h0M91.9 569.6h0M98.2 573.1h0M91.9 577.5h0M93.3 574.8h0M97.7 588.6h0M99.8 565.7h0M96.0 580.4h0M106.3 572.2h0M105.4 582.8h0M101.5 569.4h0M101.0 575.9h0M99.9 584.2h0M101.8 576.0h0M87.0 572.9h0M91.3 572.8h0M96.6 581.4h0M106.4 576.7h0M92.9 571.1h0M99.6 567.0h0M109.0 586.5h0M96.1 566.2h0M84.3 568.7h0M99.0 570.0h0M89.7 584.2h0M92.6 574.5h0M94.7 580.3h0M95.3 567.1h0M88.0 577.4h0M92.9 587.3h0M85.0 556.1h0M102.3 575.1h0M103.7 582.1h0M101.1 568.7h0M100.2 572.6h0M93.0 564.1h0M87.7 577.2h0M89.1 576.9h0M91.0 580.5h0M102.5 567.7h0M99.9 575.3h0M96.5 574.5h0M105.9 576.1h0M82.7 572.4h0M94.0 577.3h0M98.2 592.8h0M99.0 582.3h0M85.7 567.7h0M114.6 596.6h0M90.7 581.5h0M96.2 576.1h0M99.7 571.6h0M93.4 585.2h0M97.4 570.6h0M85.3 559.0h0M103.6 569.7h0M96.8 588.0h0M89.0 564.8h0M88.6 575.4h0M98.7 569.6h0M88.5 568.8h0M89.5 582.8h0M117.1 583.2h0M105.4 578.7h0M86.9 577.0h0M95.9 575.3h0M103.6 568.7h0M89.7 570.2h0M104.6 579.9h0M92.2 580.4h0M104.7 575.2h0M93.3 574.0h0M96.8 574.4h0M87.7 568.7h0M95.1 569.9h0M87.1 576.1h0M103.4 577.4h0M90.3 585.6h0M94.5 572.9h0M87.3 574.5h0M89.9 573.4h0M91.3 570.9h0M100.8 581.6h0M95.2 574.0h0M78.1 565.5h0M105.0 584.6h0M102.8 580.6h0M98.4 580.3h0M92.5 580.2h0M90.8 582.9h0M91.6 585.5h0M84.1 569.8h0M93.2 558.2h0M97.4 573.7h0M91.9 576.9h0M95.5 579.2h0M94.5 560.7h0M99.7 578.7h0M93.5 569.3h0M99.7 578.8h0M84.3 572.5h0M94.2 559.7h0M99.4 572.2h0M93.6 568.6h0M99.7 569.0h0M103.8 577.9h0M93.2 571.2h0M96.5 565.1h0M103.5 576.5h0M107.9 574.3h0M90.1 571.8h0M97.7 582.7h0M103.2 569.4h0M90.9 577.1h0M85.9 576.9h0M97.9 572.2h0M107.0 576.5h0M92.8 575.2h0M97.5 586.9h0M95.2 567.7h0M95.7 570.8h0M122.8 600.0h0M94.2 558.7h0M93.8 581.4h0M90.0 570.0h0M98.8 568.4h0M105.8 587.5h0M102.9 573.0h0M102.8 594.3h0M99.3 580.4h0M91.7 569.7h0M92.7 570.4h0M88.6 583.4h0M95.4 577.5h0M97.6 569.8h0M90.5 585.8h0M98.1 577.7h0M92.1 577.1h0M98.8 576.3h0M82.3 572.4h0M104.6 588.9h0M88.4 580.4h0M99.6 571.0h0M101.5 588.9h0M83.7 576.6h0M94.6 578.9h0M94.1 564.7h0M93.7 568.8h0M95.5 582.8h0M89.1 570.8h0M85.2 577.1h0M98.9 573.2h0M99.8 588.2h0M108.4 579.4h0M95.7 589.2h0M94.7 575.9h0M95.8 572.3h0M98.9 577.1h0M106.9 580.2h0M96.0 584.8h0M89.6 575.4h0M87.4 573.7h0M86.8 566.9h0M105.3 579.9h0M97.4 581.3h0M90.9 576.8h0M99.2 590.8h0M99.3 569.6h0M104.1 574.3h0M95.6 572.9h0M93.1 577.8h0M83.6 575.9h0M88.8 581.0h0M97.9 576.0h0M101.6 570.4h0M93.2 561.4h0M103.5 573.5h0M99.4 572.5h0M90.7 576.1h0M111.4 578.0h0M97.9 577.7h0M96.7 584.1h0M104.2 570.0h0M100.4 567.0h0M87.5 574.7h0M93.7 586.5h0M107.8 599.8h0M103.6 569.4h0M95.8 579.6h0M94.4 575.7h0M107.6 576.4h0M103.0 583.5h0M99.5 574.7h0M97.9 566.8h0M86.1 579.8h0M103.0 584.5h0M94.3 588.3h0M91.3 578.6h0M102.0 569.4h0M84.1 567.0h0M90.5 574.6h0M92.3 580.7h0M89.7 576.2h0M100.3 566.2h0M93.5 575.8h0M102.1 587.9h0M109.1 604.2h0M96.6 573.9h0M89.7 567.3h0M90.1 563.9h0M77.9 571.3h0M97.9 539.6h0M104.2 547.3h0M104.7 555.5h0M104.6 557.4h0M97.4 559.4h0M105.0 569.7h0M104.3 547.0h0M114.4 568.7h0M108.8 566.5h0M106.2 551.9h0M120.1 562.3h0M112.5 566.7h0M94.3 555.6h0M107.5 570.3h0M98.0 554.1h0M96.4 550.5h0M105.5 551.7h0M99.1 556.4h0M107.9 569.4h0M110.9 572.6h0M96.8 550.3h0M105.8 554.4h0M114.5 568.8h0M103.0 554.6h0M110.0 545.1h0M102.2 566.9h0M118.2 565.5h0M114.7 568.0h0M111.5 563.9h0M115.7 558.0h0M102.1 555.6h0M123.7 562.0h0M108.5 566.4h0M95.5 557.3h0M117.9 579.1h0M114.4 558.4h0M94.8 557.1h0M95.1 554.7h0M107.4 571.8h0M108.7 570.5h0M110.8 565.8h0M117.1 567.4h0M128.6 570.0h0M105.4 545.9h0M99.7 557.3h0M104.2 550.6h0M100.0 544.9h0M120.2 563.5h0M104.8 545.5h0M98.4 554.9h0M98.6 559.5h0M105.1 557.1h0M118.7 565.0h0M122.3 576.8h0M105.6 546.2h0M112.1 565.9h0M108.5 571.7h0M118.6 575.4h0M117.5 567.3h0M112.3 559.5h0M109.9 551.0h0M96.0 559.7h0M112.6 547.7h0M122.0 563.6h0M99.4 560.3h0M121.6 556.6h0M129.6 576.3h0M105.6 569.9h0M96.5 557.0h0M100.0 560.3h0M100.3 553.2h0M105.2 545.7h0M130.7 592.2h0M113.1 564.1h0M107.5 567.1h0M109.5 563.5h0M114.7 569.5h0M114.4 564.9h0M109.8 547.1h0M103.2 558.8h0M114.8 572.6h0M114.1 573.9h0M107.9 556.8h0M107.1 566.4h0M107.1 550.6h0M107.5 543.7h0M101.3 565.7h0M114.8 570.9h0M96.3 553.2h0M114.3 564.6h0M113.5 567.8h0M97.0 553.5h0M123.3 576.2h0M103.7 558.2h0M104.6 544.6h0M108.7 572.1h0M103.2 561.7h0M109.2 572.0h0M100.4 549.9h0M107.7 571.5h0M112.8 559.9h0M97.5 539.3h0M104.4 554.5h0M102.3 547.8h0M113.7 566.2h0M103.7 568.7h0M104.7 549.2h0M114.6 570.8h0M112.8 558.4h0M114.4 577.1h0M100.0 564.4h0M107.5 565.1h0M98.1 562.1h0M103.3 562.2h0M115.4 563.7h0M100.1 554.2h0M109.9 550.3h0M101.6 544.8h0M117.2 569.1h0M105.1 560.5h0M119.7 565.8h0M110.2 572.0h0M109.9 572.9h0M110.8 564.4h0M96.0 539.0h0M131.7 569.1h0M104.1 559.0h0M106.6 548.7h0M114.5 564.0h0M110.5 564.1h0M124.5 564.3h0M105.3 568.2h0M103.3 543.8h0M108.7 563.6h0M108.3 549.2h0M105.1 544.7h0M102.9 552.0h0M116.5 555.7h0M107.2 547.9h0M110.3 568.4h0M101.7 552.9h0M113.5 572.4h0M98.3 541.4h0M99.2 558.8h0M121.9 558.3h0M113.4 567.2h0M117.5 558.9h0M91.8 552.4h0M120.3 558.9h0M111.5 568.7h0M114.3 562.4h0M114.7 562.2h0M104.0 557.6h0M103.0 567.1h0M106.5 544.7h0M101.2 551.4h0M103.2 538.3h0M118.7 562.1h0M102.6 559.0h0M109.7 556.0h0M99.6 553.0h0M102.3 559.3h0M105.9 569.7h0M102.1 550.8h0M113.1 560.4h0M112.3 573.4h0M109.0 572.0h0M101.6 566.1h0M106.6 570.0h0M98.4 553.5h0M96.6 554.8h0M102.7 548.9h0M107.3 544.8h0M110.9 550.6h0M107.2 558.3h0M100.2 564.8h0M117.8 578.6h0M124.0 560.3h0M106.3 561.7h0M122.5 565.6h0M112.1 571.7h0M115.8 564.0h0M104.5 551.2h0M126.8 567.0h0M98.1 561.3h0M115.3 552.1h0M119.3 558.4h0M120.3 565.4h0M95.6 555.9h0M120.6 582.8h0M110.3 567.4h0M116.8 559.6h0M105.8 550.3h0M107.0 563.6h0M117.2 564.8h0M101.9 556.3h0M105.6 544.2h0M108.6 552.0h0M109.3 550.9h0M112.0 572.0h0M113.0 557.8h0M103.4 558.0h0M122.9 559.8h0M112.9 564.1h0M115.4 559.6h0M118.0 558.1h0M115.7 555.2h0M94.7 552.4h0M100.3 559.4h0M116.7 567.6h0M113.7 569.6h0M129.4 583.9h0M107.2 570.8h0M101.4 554.5h0M114.4 550.4h0M114.9 566.5h0M97.2 554.9h0M113.7 563.7h0M120.9 563.6h0M111.9 559.0h0M108.1 570.2h0M97.9 554.2h0M107.0 557.3h0M106.3 569.2h0M115.8 568.3h0M108.9 551.3h0M117.1 555.2h0M112.5 560.6h0M111.8 570.5h0M126.1 581.7h0M122.7 562.5h0M118.0 559.2h0M92.7 556.2h0M111.5 559.1h0M99.0 549.6h0M140.3 593.0h0M110.1 563.5h0M114.6 569.2h0M110.2 562.9h0M96.2 546.8h0M98.7 562.5h0M122.1 559.3h0M102.5 553.5h0M94.9 559.3h0M103.7 557.2h0M97.2 536.7h0M106.5 567.9h0M99.3 558.6h0M102.4 561.0h0M104.3 542.3h0M107.5 564.8h0M105.1 568.5h0M119.5 562.0h0M101.6 551.8h0M106.8 560.5h0M105.5 570.3h0M102.5 550.0h0M115.1 569.2h0M118.1 564.2h0M112.1 558.7h0M113.0 567.7h0M111.4 566.4h0M119.6 560.8h0M103.3 549.3h0M110.6 563.7h0M117.5 554.9h0M107.6 552.6h0M99.6 557.7h0M108.4 553.1h0M112.0 557.7h0M102.8 554.0h0M105.5 559.4h0M103.1 559.7h0M117.2 560.2h0M110.2 559.5h0M106.9 558.2h0M116.1 562.4h0M111.3 568.1h0M106.8 572.0h0M114.0 560.9h0M116.6 556.5h0M117.7 554.6h0M115.0 551.6h0M107.2 552.5h0M113.7 550.2h0M111.3 545.7h0M114.4 571.5h0M107.6 560.6h0M104.5 562.2h0M120.1 559.8h0M118.2 562.2h0M100.9 547.0h0M85.9 542.6h0M112.0 558.3h0M113.0 562.9h0M103.9 561.4h0M99.2 560.7h0M111.2 557.3h0M115.3 550.5h0M82.8 543.6h0M103.1 560.2h0M108.6 573.4h0M104.3 563.5h0M120.8 555.7h0M100.5 556.6h0M119.0 554.9h0M107.8 553.0h0M118.9 557.9h0M108.0 550.2h0M103.8 559.1h0M104.7 549.2h0M112.8 550.6h0M110.9 564.0h0M112.1 558.4h0M105.2 555.4h0M106.1 565.3h0M95.7 560.0h0M110.3 547.5h0M107.8 565.0h0M105.0 551.6h0M109.0 546.7h0M104.1 548.3h0M104.0 552.3h0M110.4 555.1h0M115.7 563.9h0M99.2 555.7h0M112.0 563.5h0M100.2 551.0h0M112.5 576.9h0M118.0 560.9h0M107.8 547.8h0M102.3 545.9h0M116.3 565.7h0M106.9 564.4h0M110.4 549.1h0M106.2 546.1h0M103.7 553.1h0M105.9 564.9h0M102.7 552.5h0M110.9 568.5h0M105.3 560.1h0M115.3 551.3h0M114.4 552.8h0M113.1 552.7h0M120.1 560.5h0M90.8 554.2h0M101.9 557.7h0M103.8 568.6h0M119.8 560.4h0M100.2 561.1h0M113.9 570.8h0M119.0 554.2h0M114.5 563.7h0M123.2 560.3h0M116.9 556.4h0M107.0 571.9h0M110.5 565.5h0M99.9 558.5h0M99.2 557.1h0M112.5 550.4h0M112.4 563.3h0M117.1 563.8h0M114.0 566.0h0M101.8 566.4h0M106.3 553.4h0M107.7 551.7h0M115.2 560.9h0M107.8 549.5h0M117.4 557.2h0M101.9 559.1h0M101.0 559.3h0M123.4 560.4h0M101.7 562.2h0M108.1 565.6h0M102.3 564.7h0M101.8 562.3h0M95.0 559.5h0M122.7 561.0h0M111.9 563.0h0M98.5 540.3h0M113.7 559.6h0M107.2 561.7h0M118.1 555.6h0M108.7 558.2h0M117.1 563.8h0M101.3 556.5h0M105.0 560.1h0M105.2 558.8h0M98.8 563.5h0M102.8 557.4h0M116.8 560.9h0M107.0 572.0h0M104.1 563.5h0M114.0 552.4h0M116.1 557.0h0M119.9 570.9h0M111.8 571.7h0M100.4 554.8h0M120.1 558.7h0M108.9 548.2h0M108.1 560.5h0M108.9 565.0h0M107.8 550.6h0M109.8 558.6h0M97.5 548.0h0M117.6 565.9h0M105.2 541.2h0M101.3 560.7h0M112.8 563.7h0M109.9 566.5h0M135.2 581.1h0M103.1 567.8h0M106.3 566.6h0M107.7 563.1h0M108.5 570.2h0M99.2 561.7h0M116.0 559.1h0M120.1 558.1h0M115.3 554.8h0M88.5 537.9h0M104.2 569.3h0M109.5 545.5h0M110.8 550.9h0M105.7 552.1h0M108.1 573.2h0M103.5 557.1h0M110.6 548.3h0M121.5 565.3h0M101.1 557.8h0M109.2 556.4h0M118.4 560.3h0M119.6 566.2h0M107.1 545.0h0M121.9 559.4h0M113.9 550.4h0M104.3 564.8h0M110.1 558.5h0M103.7 566.1h0M121.4 557.4h0M117.8 568.5h0M103.8 567.1h0M98.8 540.1h0M111.3 566.8h0M103.8 568.0h0M103.9 564.7h0M111.2 554.9h0M104.1 563.6h0M112.9 555.2h0M106.3 561.7h0M109.0 557.5h0M110.0 564.7h0M113.2 551.3h0M103.2 544.7h0M121.4 566.3h0M112.0 551.9h0M118.4 563.7h0M99.9 552.2h0M113.9 554.9h0M103.3 563.4h0M109.5 573.0h0M114.0 571.3h0M112.6 573.6h0M105.5 561.9h0M118.0 556.7h0M115.2 559.3h0M106.6 567.7h0M104.8 566.4h0M108.6 564.3h0M97.2 559.2h0M109.3 548.9h0M106.8 552.5h0M113.6 557.5h0M116.6 558.3h0M116.4 554.7h0M107.4 555.0h0M119.6 556.2h0M104.6 559.4h0M105.5 541.4h0M108.5 553.6h0M106.0 568.9h0M103.3 566.3h0M108.8 572.3h0M112.5 562.4h0M107.6 566.4h0M116.5 570.7h0M112.3 565.6h0M110.5 557.3h0M104.6 556.8h0M104.1 556.1h0M102.7 545.4h0M100.8 562.1h0M103.9 568.1h0M117.1 572.9h0M112.0 554.6h0M110.8 548.3h0M100.9 558.4h0M118.7 563.5h0M109.6 563.0h0M100.8 559.2h0M111.2 547.2h0M111.4 551.2h0M115.3 559.5h0M104.7 550.9h0M113.5 551.7h0M110.8 560.2h0M115.8 557.0h0M101.6 550.7h0M119.7 557.1h0M112.5 556.9h0M111.4 572.0h0M108.2 555.9h0M108.3 560.9h0M103.3 564.8h0M101.4 555.3h0M102.4 564.2h0M115.3 554.6h0M109.5 552.6h0M101.5 565.7h0M118.3 559.7h0M109.0 546.6h0M111.1 557.9h0M121.9 569.5h0M118.2 553.3h0M109.0 556.8h0M104.1 559.8h0M101.9 537.4h0M109.2 555.4h0M109.5 566.6h0M110.6 572.1h0M102.6 565.8h0M115.8 552.1h0M109.8 567.1h0M102.9 557.1h0M109.4 559.0h0M108.6 557.3h0M105.7 544.9h0M114.1 558.9h0M108.3 560.6h0M100.9 565.5h0M99.6 542.1h0M116.3 559.1h0M102.3 560.8h0M103.3 564.1h0M100.4 565.1h0M106.8 553.7h0M104.5 544.7h0M101.6 558.6h0M103.1 555.3h0M111.0 549.1h0M100.9 564.3h0M119.8 566.8h0M110.5 561.2h0M120.7 558.4h0M107.9 554.3h0M111.8 550.7h0M111.3 562.8h0M98.0 560.8h0M95.6 556.1h0M120.2 566.6h0M121.5 565.1h0M109.8 565.0h0M117.1 573.4h0M99.5 553.3h0M119.2 566.5h0M105.9 555.5h0M112.0 547.0h0M103.7 541.4h0M121.6 562.2h0M102.6 562.9h0M103.6 567.6h0M100.3 563.6h0M123.5 571.5h0M113.1 560.4h0M111.0 565.9h0M115.6 573.4h0M111.9 549.5h0M107.8 561.8h0M106.5 570.3h0M108.4 553.6h0M108.2 560.3h0M81.3 539.3h0M115.8 551.4h0M97.9 559.1h0M106.0 550.4h0M110.6 552.2h0M98.3 552.7h0M112.9 572.3h0M108.8 561.6h0M102.8 556.0h0M99.7 559.6h0M104.5 554.2h0M111.0 558.2h0M112.2 553.3h0M111.2 553.1h0M99.3 561.3h0M105.9 558.9h0M113.5 551.8h0M111.4 556.2h0M125.2 561.2h0M117.9 561.9h0M115.0 563.5h0M100.3 545.3h0M105.8 563.2h0M112.6 556.0h0M100.0 563.2h0M104.3 550.6h0M106.1 552.2h0M108.0 570.9h0M108.0 571.3h0M112.4 550.3h0M100.2 550.4h0M103.5 562.7h0M111.2 558.1h0M112.2 549.7h0M110.0 552.2h0M116.6 553.1h0M115.0 563.2h0M100.2 555.3h0M115.1 555.9h0M104.1 559.6h0M120.5 557.1h0M109.6 551.9h0M103.9 561.0h0M111.0 545.4h0M100.5 550.9h0M105.7 555.7h0M109.3 548.2h0M105.3 551.6h0M107.2 557.3h0M105.4 566.0h0M112.1 572.4h0M100.6 562.7h0M114.0 554.4h0M100.2 562.2h0M112.0 560.7h0M116.4 564.4h0M116.6 574.2h0M106.2 555.4h0M114.0 573.0h0M103.9 564.1h0M108.1 548.6h0M114.3 552.7h0M99.4 559.2h0M106.7 557.7h0M105.1 567.2h0M112.4 556.8h0M113.8 549.5h0M93.7 543.7h0M109.4 558.1h0M121.2 567.4h0M109.6 562.6h0M107.7 562.0h0M107.9 555.4h0M113.7 551.9h0M125.1 571.6h0M116.7 567.7h0M113.7 558.7h0M114.8 554.7h0M103.1 564.3h0M110.3 564.6h0M106.5 571.0h0M118.8 559.5h0M97.2 551.9h0M107.3 568.4h0M108.4 567.8h0M99.7 562.5h0M111.7 551.6h0M105.6 562.3h0M101.2 563.4h0M100.2 563.5h0M112.8 565.2h0M109.5 568.0h0M106.0 556.7h0M108.9 567.2h0M104.5 568.7h0M119.5 567.8h0M103.5 559.3h0M113.2 569.4h0M111.1 561.4h0M106.2 559.3h0M111.5 561.9h0M115.9 551.8h0M118.1 564.1h0M114.2 553.3h0M109.7 565.3h0M115.3 550.3h0M102.5 563.1h0M105.4 547.3h0M112.2 561.4h0M92.3 555.9h0M108.6 554.5h0M110.6 558.1h0M116.7 561.7h0M106.3 548.4h0M106.7 545.3h0M98.5 557.5h0M117.6 553.9h0M107.3 553.7h0M121.6 561.7h0M96.3 558.9h0M114.2 560.7h0M108.4 568.7h0M97.6 558.6h0M102.6 552.1h0M117.3 562.1h0M119.3 557.4h0M101.3 560.2h0M104.6 564.2h0M103.3 553.8h0M118.1 562.5h0M129.5 581.2h0M114.4 565.8h0M113.9 558.4h0M108.1 569.4h0M115.0 568.8h0M109.5 569.8h0M101.3 557.3h0M105.9 557.9h0M106.9 556.4h0M101.6 559.3h0M117.8 570.1h0M114.4 558.8h0M110.0 546.6h0M109.7 556.0h0M107.6 560.2h0M119.7 579.6h0M113.1 567.1h0M107.3 567.0h0M116.7 552.3h0M114.8 561.7h0M114.2 551.9h0M118.0 566.5h0M109.9 552.4h0M113.4 548.8h0M107.9 544.9h0M123.4 562.1h0M96.8 557.7h0M99.6 559.2h0M110.5 557.9h0M120.7 570.1h0M121.0 564.2h0M101.4 558.7h0M100.1 562.3h0M106.4 561.3h0M95.3 532.4h0M125.5 563.0h0M113.1 549.0h0M110.7 557.7h0M110.1 555.5h0M125.4 575.5h0M113.8 554.4h0M118.9 556.1h0M113.1 547.6h0M112.5 553.2h0M112.4 565.7h0M114.9 555.4h0M101.4 550.8h0M106.1 554.6h0M98.0 556.5h0M113.4 553.7h0M115.0 557.0h0M115.0 553.5h0M104.9 553.7h0M119.4 578.4h0M104.0 547.4h0M120.4 561.8h0M115.4 567.9h0M114.1 563.3h0M105.1 566.0h0M108.7 546.2h0M113.3 565.8h0M91.0 553.4h0M105.6 567.0h0M96.4 558.4h0M110.0 565.2h0M107.9 563.9h0M113.0 552.0h0M103.3 559.6h0M101.3 560.7h0M116.6 558.4h0M110.8 559.6h0M116.0 578.0h0M102.4 554.8h0M95.7 555.7h0M113.0 556.7h0M104.9 563.8h0M116.3 561.1h0M95.8 560.0h0M106.8 566.6h0M112.4 560.8h0M105.1 566.2h0M116.1 558.4h0M111.9 551.5h0M115.5 553.1h0M109.8 552.7h0M114.5 556.4h0M99.9 555.4h0M109.1 561.2h0M105.0 568.2h0M105.9 556.5h0M116.3 556.7h0M109.3 560.1h0M107.8 546.2h0M109.4 557.4h0M110.8 556.6h0M103.6 561.8h0M114.4 549.8h0M105.8 567.4h0M104.7 549.6h0M117.2 556.6h0M106.4 571.3h0M100.9 554.3h0M112.7 551.7h0M106.7 554.5h0M110.5 560.5h0M105.9 563.9h0M124.1 559.9h0M100.8 562.9h0M103.3 560.2h0M110.9 575.7h0M115.2 560.3h0M105.3 562.6h0M108.2 559.6h0M110.3 562.1h0M103.0 564.0h0M118.7 557.1h0M116.1 554.3h0M120.6 556.4h0M108.1 553.4h0M116.6 559.6h0M105.7 554.0h0M105.5 553.6h0M115.9 552.1h0M104.3 556.9h0M110.2 567.0h0M97.9 543.7h0M116.5 554.0h0M111.8 568.9h0M102.6 566.9h0M106.0 546.1h0M108.7 555.5h0M101.0 563.8h0M106.0 562.2h0M118.4 561.4h0M114.0 560.0h0M99.8 556.4h0M96.7 559.6h0M109.2 555.7h0M98.1 560.7h0M118.7 559.3h0M109.7 569.2h0M109.5 560.8h0M112.3 570.9h0M105.4 564.7h0M109.6 554.2h0M112.9 547.5h0M110.5 555.4h0M101.2 553.6h0M119.9 561.2h0M118.2 556.1h0M120.6 557.0h0M109.6 546.2h0M108.8 550.1h0M103.7 561.4h0M114.0 550.0h0M105.6 570.3h0M108.9 562.8h0M104.6 561.3h0M106.0 551.0h0M108.2 562.2h0M111.8 553.7h0M111.7 568.0h0M111.2 559.2h0M113.3 553.9h0M101.8 560.1h0M115.8 562.4h0M102.9 561.0h0M106.4 552.5h0M112.6 569.2h0M111.1 556.2h0M105.9 565.1h0M118.1 554.7h0M111.7 555.8h0M115.1 557.9h0M110.7 553.9h0M102.1 560.7h0M110.3 552.7h0M116.4 554.1h0M109.3 562.2h0M112.1 552.5h0M112.7 560.7h0M106.4 566.7h0M109.1 569.5h0M110.8 556.9h0M116.9 560.0h0M98.5 562.9h0M111.6 547.8h0M114.5 557.4h0M109.9 567.4h0M108.6 559.1h0M109.8 561.5h0M104.3 559.2h0M116.9 558.2h0M108.5 556.9h0M117.3 552.9h0M101.0 563.7h0M108.3 565.8h0M107.1 568.8h0M106.3 558.4h0M127.1 570.5h0M113.3 553.9h0M107.5 558.8h0M113.2 555.9h0M113.3 561.5h0M96.1 559.6h0M114.5 560.7h0M104.8 565.3h0M114.2 563.9h0M111.2 550.0h0M112.9 557.3h0M117.7 555.5h0M126.1 540.6h0M119.6 534.8h0M125.7 549.5h0M124.1 558.6h0M120.6 535.5h0M123.5 529.6h0M121.8 549.3h0M112.8 545.8h0M123.9 556.7h0M128.0 544.4h0M137.0 551.4h0M129.8 541.0h0M114.7 536.9h0M121.1 532.4h0M122.7 529.3h0M132.4 550.3h0M124.6 531.5h0M136.1 543.4h0M124.7 529.3h0M131.2 537.9h0M130.6 559.6h0M135.3 557.7h0M131.7 545.6h0M120.0 547.8h0M119.0 551.9h0M128.3 548.5h0M107.2 535.1h0M112.6 534.7h0M114.0 542.6h0M133.5 541.3h0M112.8 543.0h0M131.7 554.6h0M109.5 539.9h0M128.4 559.9h0M125.9 533.5h0M112.8 545.9h0M117.7 552.1h0M110.7 544.1h0M130.9 536.7h0M134.2 551.3h0M110.9 543.9h0M135.0 541.2h0M119.7 554.5h0M109.3 537.1h0M118.4 529.2h0M127.2 540.8h0M135.1 556.7h0M120.8 530.5h0M116.8 533.2h0M135.0 548.4h0M117.4 548.9h0M125.0 546.3h0M107.0 540.2h0M116.6 533.7h0M128.9 545.2h0M113.1 545.4h0M111.7 538.0h0M134.5 558.9h0M119.2 553.6h0M120.5 537.1h0M121.6 532.9h0M126.8 542.7h0M114.4 527.4h0M118.9 525.7h0M117.1 551.5h0M120.2 530.2h0M108.3 539.3h0M130.5 541.7h0M122.0 529.6h0M128.8 551.9h0M116.2 549.9h0M117.2 534.4h0M120.7 549.4h0M132.9 543.8h0M132.5 550.7h0M123.4 535.6h0M129.2 545.5h0M119.4 539.0h0M121.6 535.8h0M127.6 537.2h0M117.6 552.0h0M115.1 536.2h0M128.2 536.5h0M113.1 540.8h0M117.8 540.8h0M118.5 548.1h0M124.7 542.8h0M114.3 535.9h0M118.2 535.8h0M122.6 552.3h0M130.6 545.9h0M131.4 540.5h0M121.0 536.2h0M120.5 554.0h0M125.8 539.8h0M119.6 540.3h0M136.5 543.4h0M120.3 525.0h0M131.2 548.5h0M134.4 539.4h0M130.3 535.7h0M113.2 541.6h0M131.1 535.4h0M130.2 546.2h0M123.5 532.7h0M116.3 530.2h0M132.1 537.7h0M116.4 533.4h0M126.6 530.6h0M118.0 533.4h0M118.4 544.9h0M126.0 548.9h0M122.2 550.4h0M112.3 544.6h0M110.3 540.3h0M120.4 529.8h0M120.3 541.1h0M119.4 541.3h0M118.6 550.8h0M127.4 540.6h0M140.1 550.2h0M121.2 546.1h0M119.1 547.0h0M114.3 545.8h0M142.1 552.4h0M113.4 537.5h0M124.9 530.8h0M109.9 543.0h0M120.0 544.8h0M128.2 542.2h0M122.7 542.0h0M125.2 537.8h0M124.7 552.1h0M123.7 536.2h0M124.1 538.0h0M121.3 534.9h0M119.4 543.0h0M114.4 545.0h0M115.9 528.8h0M116.3 550.7h0M138.6 549.6h0M118.4 537.7h0M120.5 536.2h0M129.0 545.4h0M119.0 538.9h0M116.1 541.3h0M136.7 542.0h0M126.1 547.2h0M111.1 541.9h0M117.8 527.9h0M109.6 536.6h0M120.5 536.6h0M124.3 535.7h0M111.2 542.9h0M111.4 544.3h0M123.4 552.4h0M122.6 542.3h0M127.6 540.0h0M118.8 547.7h0M124.2 553.3h0M135.7 543.1h0M120.7 554.2h0M128.3 546.2h0M124.5 541.4h0M132.8 540.2h0M125.4 538.8h0M120.4 531.8h0M111.4 543.7h0M124.2 537.4h0M133.4 538.5h0M117.4 549.1h0M118.3 537.9h0M121.0 534.2h0M121.0 540.9h0M115.4 543.6h0M110.0 540.3h0M124.9 545.2h0M129.4 542.6h0M122.3 537.2h0M124.5 547.4h0M118.9 547.8h0M121.8 550.9h0M120.4 542.5h0M126.8 552.6h0M124.3 542.0h0M112.3 537.4h0M120.6 535.6h0M138.2 546.8h0M124.2 553.9h0M114.1 541.0h0M120.0 541.9h0M131.8 551.3h0M121.9 530.8h0M133.2 548.1h0M127.6 543.6h0M129.5 562.1h0M124.5 540.6h0M127.4 537.3h0M119.3 549.1h0M115.8 536.3h0M123.7 531.6h0M124.4 532.9h0M126.0 544.3h0M122.2 537.3h0M122.7 533.6h0M116.6 530.0h0M111.6 533.5h0M132.2 543.9h0M126.5 531.8h0M132.4 547.8h0M114.6 541.7h0M116.5 549.8h0M133.9 542.9h0M124.9 557.3h0M127.2 555.9h0M122.5 556.1h0M111.8 541.5h0M122.7 553.3h0M121.5 533.5h0M120.3 541.6h0M119.7 546.2h0M125.6 546.1h0M128.6 540.0h0M127.7 542.1h0M119.9 553.1h0M113.7 540.7h0M127.7 533.8h0M119.7 544.4h0M120.0 548.5h0M119.0 548.3h0M116.6 543.6h0M120.2 532.8h0M122.0 533.1h0M129.5 535.8h0M118.0 552.6h0M112.4 533.8h0M122.1 548.3h0M119.6 550.2h0M123.9 531.7h0M111.6 543.7h0M126.7 543.4h0M115.4 544.1h0M129.5 557.1h0M130.1 541.4h0M131.0 549.5h0M121.7 554.5h0M139.3 545.3h0M127.2 544.9h0M132.6 558.6h0M126.7 548.8h0M113.1 547.3h0M136.0 547.3h0M118.6 547.0h0M114.3 540.0h0M111.6 539.6h0M131.5 544.0h0M127.2 535.3h0M123.8 533.6h0M113.5 544.2h0M122.1 535.7h0M130.5 537.7h0M127.8 532.2h0M126.6 541.2h0M121.0 542.6h0M123.0 542.5h0M122.2 535.2h0M121.0 542.7h0M127.2 545.4h0M124.9 528.8h0M131.2 539.9h0M125.8 533.0h0M112.9 539.4h0M122.9 547.9h0M115.6 544.2h0M128.9 555.0h0M125.1 549.1h0M118.0 539.3h0M130.9 544.1h0M123.7 550.6h0M123.7 533.6h0M127.2 549.8h0M118.4 541.5h0M123.4 533.2h0M112.1 538.3h0M123.1 538.5h0M125.1 550.8h0M124.2 546.0h0M115.7 541.6h0M124.8 529.9h0M130.3 543.3h0M129.2 535.7h0M112.5 535.9h0M125.9 532.4h0M119.7 530.9h0M115.4 545.2h0M139.5 545.3h0M122.0 544.1h0M121.4 542.6h0M128.8 536.5h0M126.5 539.1h0M122.0 547.1h0M135.3 541.9h0M119.6 545.9h0M121.3 550.7h0M123.2 543.4h0M115.2 548.1h0M123.6 543.9h0M124.5 558.1h0M120.1 534.2h0M130.7 538.1h0M111.8 533.9h0M117.1 547.8h0M117.3 536.9h0M117.9 545.8h0M118.0 544.3h0M121.1 548.6h0M117.0 549.1h0M120.1 540.1h0M120.5 554.8h0M128.6 543.4h0M124.2 542.6h0M107.3 530.2h0M123.0 538.9h0M129.4 545.3h0M127.5 547.7h0M129.9 536.8h0M120.4 538.2h0M128.4 534.6h0M120.1 530.8h0M126.0 545.7h0M116.4 542.7h0M121.8 548.7h0M128.8 536.8h0M125.9 533.6h0M117.7 531.1h0M125.7 548.2h0M107.5 539.0h0M122.2 535.0h0M130.5 547.8h0M125.2 532.3h0M123.0 536.5h0M134.5 540.2h0M119.6 553.4h0M118.9 544.7h0M126.7 555.0h0M126.7 542.2h0M127.1 532.1h0M115.2 547.8h0M128.8 545.4h0M120.6 551.3h0M110.5 540.2h0M121.5 556.2h0M127.8 546.9h0M120.8 547.3h0M117.5 536.3h0M129.1 544.7h0M125.0 531.9h0M119.2 540.5h0M134.1 553.0h0M130.9 538.5h0M126.2 532.1h0M131.7 552.4h0M130.9 550.7h0M126.5 546.7h0M138.4 558.9h0M118.5 552.0h0M123.8 539.4h0M121.6 551.7h0M133.6 539.2h0M122.0 545.7h0M118.0 543.8h0M126.2 554.3h0M113.6 545.8h0M125.2 558.5h0M122.2 544.8h0M123.5 549.9h0M113.7 546.7h0M126.9 537.0h0M118.7 538.9h0M121.0 538.4h0M132.1 537.7h0M120.5 539.1h0M121.6 534.0h0M131.7 546.7h0M120.3 531.0h0M130.5 551.1h0M122.5 543.3h0M137.0 554.0h0M118.2 540.2h0M115.8 537.3h0M118.7 528.5h0M128.9 542.0h0M121.8 539.1h0M123.1 529.6h0M129.4 538.0h0M124.2 543.3h0M121.4 547.7h0M129.0 539.7h0M118.4 527.3h0M115.9 542.1h0M129.2 542.8h0M116.0 542.3h0M121.7 531.5h0M118.0 550.9h0M124.0 542.0h0M129.0 558.1h0M109.4 530.6h0M123.7 555.7h0M113.5 542.6h0M128.6 535.8h0M122.7 536.4h0M103.1 531.7h0M124.1 548.2h0M130.3 540.8h0M124.2 534.4h0M118.4 550.0h0M123.1 551.7h0M117.1 544.0h0M115.4 542.6h0M123.5 553.4h0M118.9 542.5h0M126.1 536.4h0M112.4 541.4h0M132.7 540.8h0M124.9 529.5h0M121.4 553.1h0M123.2 539.6h0M123.2 531.5h0M125.5 547.8h0M126.4 556.7h0M125.0 547.7h0M117.2 543.1h0M125.7 542.5h0M131.0 549.9h0M132.9 541.9h0M122.2 540.0h0M129.0 547.2h0M130.8 538.6h0M115.8 538.8h0M116.4 547.0h0M127.9 538.0h0M123.9 546.2h0M123.5 540.8h0M126.1 533.8h0M118.0 541.1h0M121.2 529.3h0M115.1 546.3h0M134.5 540.5h0M117.2 542.5h0M112.3 538.7h0M122.1 533.2h0M118.5 532.0h0M121.8 539.0h0M113.6 542.7h0M130.3 545.5h0M120.8 534.1h0M130.2 538.7h0M106.9 539.8h0M132.3 537.0h0M115.5 546.8h0M122.6 549.8h0M124.8 534.8h0M130.5 554.1h0M127.2 553.2h0M114.2 547.1h0M117.2 545.6h0M120.6 551.8h0M122.8 535.5h0M109.4 533.5h0M121.1 534.1h0M121.7 540.7h0M122.1 533.9h0M109.9 542.0h0M124.8 549.3h0M120.0 539.2h0M122.6 538.8h0M130.5 541.2h0M127.1 536.0h0M127.9 534.8h0M112.0 545.4h0M125.6 544.2h0M122.0 537.6h0M118.6 540.6h0M123.5 556.2h0M121.0 540.1h0M123.5 531.5h0M119.5 543.3h0M124.4 535.7h0M125.7 540.5h0M129.6 535.4h0M124.6 556.8h0M132.1 538.2h0M117.5 549.7h0M135.3 542.6h0M125.7 545.4h0M120.4 533.9h0M121.3 538.4h0M115.7 538.8h0M119.2 545.2h0M119.7 552.1h0M124.1 541.4h0M125.2 539.1h0M140.5 557.4h0M119.5 544.5h0M116.4 548.1h0M117.0 532.0h0M130.0 540.0h0M122.5 540.9h0M129.0 536.2h0M128.7 555.7h0M123.2 536.4h0M127.8 546.3h0M116.4 529.0h0M129.0 533.8h0M123.3 547.2h0M118.6 548.8h0M132.3 541.7h0M132.8 545.5h0M117.1 544.7h0M121.2 528.2h0M131.6 541.4h0M116.7 546.9h0M116.8 543.9h0M127.4 535.9h0M120.2 548.4h0M126.1 551.5h0M123.7 544.7h0M125.4 534.0h0M124.4 540.0h0M124.0 551.2h0M129.3 538.7h0M135.6 553.9h0M115.8 538.3h0M128.1 540.0h0M115.1 549.5h0M121.3 541.4h0M122.5 545.9h0M129.4 549.8h0M133.8 540.0h0M129.4 535.0h0M127.1 531.9h0M109.9 537.9h0M127.8 541.9h0M114.7 549.0h0M119.2 535.1h0M127.3 541.7h0M122.7 544.8h0M130.8 559.1h0M126.5 534.3h0M118.6 545.8h0M128.0 551.5h0M114.8 535.2h0M116.7 545.8h0M125.9 535.3h0M124.0 555.2h0M121.9 537.5h0M117.5 542.0h0M120.9 549.5h0M113.6 541.4h0M128.9 542.5h0M133.1 544.8h0M110.5 539.6h0M124.0 554.7h0M127.9 532.8h0M114.1 544.5h0M131.3 542.2h0M118.1 550.2h0M129.9 539.1h0M125.0 550.4h0M132.6 542.5h0M116.2 544.9h0M118.6 542.5h0M121.6 545.4h0M127.4 535.1h0M122.9 545.9h0M123.5 555.0h0M125.7 543.1h0M125.3 540.9h0M122.1 551.5h0M113.6 545.0h0M119.5 537.0h0M123.3 530.1h0M136.9 548.1h0M135.3 545.7h0M127.1 536.7h0M120.5 550.8h0M122.2 526.9h0M129.3 555.2h0M135.1 544.7h0M115.5 545.7h0M113.8 541.8h0M125.0 534.0h0M121.7 544.1h0M130.6 553.2h0M117.9 541.0h0M110.4 539.1h0M117.4 550.6h0M128.0 536.4h0M121.0 544.6h0M135.2 543.1h0M122.6 528.8h0M122.7 537.0h0M134.7 546.4h0M125.7 542.9h0M115.4 538.4h0M112.0 542.4h0M126.9 546.2h0M117.4 550.6h0M122.1 548.8h0M131.4 543.7h0M123.3 548.8h0M122.2 541.7h0M128.3 538.2h0M128.2 543.7h0M127.4 548.4h0M116.2 538.6h0M115.2 546.5h0M113.6 538.4h0M125.2 548.1h0M131.6 549.0h0M116.3 545.8h0M120.6 545.5h0M125.0 536.4h0M125.5 539.5h0M121.7 541.4h0M118.5 532.4h0M129.3 547.7h0M125.1 535.8h0M118.5 552.7h0M124.6 548.4h0M128.1 538.6h0M113.9 543.3h0M120.7 546.0h0M116.2 535.7h0M112.5 532.3h0M117.9 542.2h0M128.8 533.4h0M114.6 548.6h0M126.6 556.1h0M126.7 537.7h0M122.1 532.3h0M112.9 546.6h0M120.1 552.9h0M130.5 544.0h0M116.7 548.7h0M121.4 555.4h0M119.7 541.8h0M113.1 544.3h0M123.4 544.8h0M125.3 534.7h0M129.0 543.9h0M127.5 544.0h0M118.3 543.0h0M126.7 542.5h0M111.1 542.4h0M124.6 544.1h0M125.7 530.6h0M125.5 544.8h0M125.1 557.3h0M125.8 538.0h0M129.1 548.2h0M119.8 536.5h0M127.0 534.1h0M127.6 534.9h0M121.6 552.5h0M124.9 535.0h0M130.3 537.6h0M124.1 539.6h0M125.9 541.8h0M124.2 549.5h0M121.3 543.2h0M122.9 538.2h0M124.6 532.0h0M121.3 540.4h0M113.9 540.2h0M118.0 542.7h0M117.2 541.2h0M130.4 545.9h0M128.2 538.8h0M124.1 542.2h0M127.8 553.3h0M119.2 548.0h0M128.0 538.4h0M146.8 557.0h0M105.7 534.7h0M126.9 543.9h0M117.9 532.7h0M123.6 556.3h0M136.3 547.2h0M126.4 551.1h0M120.6 544.1h0M129.7 538.2h0M125.4 541.0h0M124.3 546.6h0M111.6 537.9h0M123.0 551.2h0M113.9 547.3h0M120.2 548.0h0M123.0 536.2h0M124.0 546.8h0M123.6 544.5h0M118.0 547.0h0M130.9 536.5h0M135.6 540.9h0M109.7 542.3h0M126.3 531.7h0M120.9 528.1h0M124.5 543.4h0M128.2 541.4h0M116.6 540.5h0M122.5 537.4h0M127.5 533.7h0M126.1 545.6h0M133.4 540.6h0M115.1 517.1h0M128.2 529.8h0M147.7 521.8h0M141.8 516.4h0M137.2 531.9h0M126.4 523.5h0M130.1 518.6h0M131.1 523.7h0M126.6 527.3h0M140.3 519.6h0M126.3 522.8h0M151.8 533.6h0M133.9 510.3h0M132.8 533.3h0M139.1 519.9h0M132.8 524.4h0M131.6 513.2h0M127.9 531.6h0M138.0 537.5h0M140.3 521.8h0M141.1 519.8h0M137.9 525.9h0M131.5 522.1h0M135.2 537.8h0M128.7 531.6h0M132.2 536.4h0M146.7 523.9h0M146.1 525.9h0M139.8 522.2h0M142.1 521.5h0M135.2 523.7h0M139.8 534.3h0M129.9 519.7h0M143.4 537.3h0M142.4 516.6h0M141.3 530.7h0M122.1 509.8h0M137.8 534.7h0M130.9 525.4h0M128.5 523.2h0M136.2 528.0h0M133.4 534.3h0M142.7 519.4h0M139.5 536.2h0M131.3 533.8h0M133.2 537.4h0M149.1 524.9h0M140.9 525.5h0M140.2 535.0h0M132.7 520.1h0M123.6 522.2h0M135.3 534.2h0M127.7 523.7h0M120.1 512.3h0M139.3 535.8h0M131.4 534.6h0M146.5 521.5h0M136.4 522.8h0M145.6 521.6h0M131.5 526.8h0M129.4 524.5h0M132.1 536.1h0M139.6 523.9h0M140.0 535.9h0M137.3 513.1h0M139.5 531.5h0M135.4 517.7h0M139.1 532.2h0M126.5 526.3h0M126.6 525.9h0M131.2 529.1h0M139.1 516.3h0M139.4 520.5h0M130.5 532.8h0M141.6 521.2h0M130.7 521.8h0M129.3 524.4h0M136.6 541.0h0M134.3 525.7h0M136.4 511.0h0M134.5 517.4h0M131.2 517.3h0M140.7 531.6h0M135.1 516.7h0M137.3 540.1h0M129.0 527.0h0M135.3 539.3h0M123.0 521.3h0M133.8 524.5h0M136.5 530.7h0M134.6 527.0h0M128.1 525.6h0M134.4 510.9h0M144.6 519.3h0M139.5 541.4h0M132.3 515.8h0M129.0 518.3h0M138.0 536.5h0M145.0 522.0h0M134.4 520.7h0M130.6 527.8h0M127.4 527.7h0M132.9 528.1h0M145.6 528.8h0M137.4 520.7h0M134.3 537.6h0M138.0 533.9h0M137.7 519.8h0M125.7 518.6h0M139.3 529.6h0M133.3 520.5h0M145.4 523.1h0M143.1 522.0h0M136.0 530.0h0M134.4 519.7h0M144.9 532.6h0M151.2 525.8h0M132.6 522.2h0M126.8 529.6h0M140.2 515.7h0M139.5 522.0h0M130.8 517.0h0M141.6 522.2h0M137.6 534.6h0M143.5 527.4h0M136.0 534.4h0M143.1 517.1h0M132.6 532.0h0M131.5 520.7h0M140.1 525.6h0M125.4 527.7h0M130.0 533.9h0M136.6 520.3h0M141.8 527.1h0M134.6 534.1h0M130.9 529.8h0M134.4 525.7h0M137.5 513.1h0M125.5 515.3h0M144.4 521.8h0M144.6 519.6h0M134.5 528.6h0M145.9 523.0h0M134.9 536.0h0M134.9 538.3h0M137.0 524.5h0M137.3 525.6h0M130.2 524.7h0M136.9 511.2h0M144.1 539.3h0M138.3 512.8h0M138.1 514.2h0M132.3 536.0h0M133.8 533.9h0M140.9 523.0h0M134.4 521.1h0M135.5 531.8h0M133.6 533.3h0M134.9 525.1h0M133.1 520.0h0M141.2 528.4h0M136.6 525.2h0M142.8 531.5h0M134.1 521.8h0M138.5 539.4h0M136.3 519.5h0M139.9 542.8h0M122.2 519.2h0M143.1 521.6h0M133.2 519.4h0M138.5 533.3h0M121.2 509.0h0M137.6 529.2h0M147.9 526.5h0M138.7 524.7h0M126.9 526.5h0M127.1 510.7h0M143.2 530.9h0M135.4 530.7h0M134.8 534.6h0M149.4 528.7h0M147.0 525.2h0M137.3 525.8h0M138.8 515.3h0M131.0 533.5h0M142.1 521.7h0M131.5 532.4h0M136.4 524.8h0M134.5 538.1h0M136.9 516.0h0M141.5 521.3h0M142.0 526.5h0M131.2 526.2h0M142.5 523.5h0M134.3 530.0h0M134.9 527.4h0M138.7 522.3h0M143.8 520.2h0M140.3 538.0h0M142.1 532.1h0M140.2 520.7h0M135.4 539.8h0M131.8 526.1h0M140.4 533.7h0M139.6 515.2h0M138.0 522.7h0M145.8 550.4h0M132.1 529.1h0M126.2 518.2h0M143.6 520.0h0M135.9 539.6h0M138.8 515.0h0M133.5 509.7h0M134.8 512.4h0M136.7 530.3h0M136.4 523.4h0M131.3 535.3h0M136.0 528.0h0M144.1 519.7h0M130.8 530.8h0M141.7 527.1h0M131.7 535.6h0M132.4 509.6h0M141.0 523.1h0M137.7 533.0h0M140.1 528.6h0M127.9 528.5h0M135.4 529.1h0M145.2 524.2h0M139.3 525.8h0M147.5 536.2h0M145.8 543.8h0M135.5 523.3h0M127.4 524.1h0M137.3 518.2h0M141.1 534.2h0M128.4 527.7h0M127.2 530.3h0M144.4 525.0h0M144.9 527.6h0M138.9 532.7h0M133.5 523.6h0M134.3 525.2h0M146.3 526.5h0M134.6 518.0h0M125.5 528.1h0M134.5 532.9h0M135.1 518.4h0M144.8 525.3h0M136.1 533.0h0M149.9 531.9h0M138.0 513.4h0M130.6 520.8h0M133.9 528.7h0M130.5 517.7h0M133.4 522.6h0M125.5 527.9h0M125.6 524.0h0M131.7 520.5h0M140.6 533.9h0M139.3 528.4h0M134.8 535.1h0M136.8 522.8h0M132.1 531.1h0M128.0 524.0h0M134.3 531.0h0M133.5 526.1h0M134.5 523.0h0M128.4 524.1h0M136.0 514.7h0M137.6 532.1h0M145.1 530.8h0M136.1 524.5h0M138.1 519.0h0M136.2 511.4h0M137.1 517.6h0M134.6 536.4h0M142.4 528.6h0M132.7 515.8h0M145.8 529.9h0M140.5 530.5h0M139.3 518.6h0M138.6 513.8h0M150.7 526.1h0M142.0 518.8h0M128.9 521.9h0M141.3 526.7h0M134.9 530.6h0M131.9 523.2h0M130.7 516.7h0M147.1 528.5h0M139.6 524.8h0M134.3 531.6h0M131.8 518.7h0M137.0 522.1h0M130.1 525.1h0M144.1 526.6h0M140.6 520.5h0M144.3 523.7h0M136.0 516.5h0M133.1 530.8h0M141.5 531.8h0M138.4 539.3h0M134.4 535.7h0M137.8 523.6h0M130.4 526.5h0M133.7 527.5h0M139.8 527.5h0M137.3 516.2h0M133.2 531.7h0M142.9 526.2h0M132.4 536.3h0M131.6 530.8h0M132.7 517.1h0M143.6 529.8h0M137.8 520.4h0M125.6 517.6h0M130.3 516.3h0M133.9 531.7h0M129.4 524.1h0M139.7 526.4h0M136.1 526.9h0M144.1 529.3h0M140.5 526.0h0M138.0 532.0h0M134.6 527.7h0M138.1 526.1h0M142.2 517.1h0M141.7 524.5h0M136.6 517.8h0M149.9 524.9h0M138.7 527.1h0M136.9 521.8h0M133.9 531.9h0M140.8 524.0h0M144.8 532.1h0M134.6 513.2h0M145.0 530.1h0M143.2 528.7h0M145.7 521.6h0M141.0 533.3h0M133.6 532.4h0M125.8 525.5h0M136.1 532.5h0M136.8 533.9h0M138.2 527.5h0M119.9 515.4h0M138.0 520.5h0M145.8 526.3h0M142.0 525.7h0M139.8 522.3h0M135.8 526.2h0M129.5 528.2h0M142.0 529.4h0M133.1 520.9h0M127.9 523.9h0M142.6 522.7h0M145.5 520.0h0M142.9 534.9h0M144.4 521.5h0M143.4 531.3h0M136.0 535.1h0M143.4 518.8h0M132.3 516.6h0M137.7 528.0h0M135.3 521.5h0M149.1 525.2h0M143.2 519.6h0M136.9 533.2h0M141.4 530.1h0M141.0 516.1h0M134.3 519.2h0M139.9 531.0h0M142.3 533.9h0M137.8 528.6h0M123.7 524.0h0M140.6 518.2h0M143.7 518.2h0M134.6 532.2h0M136.0 537.1h0M129.8 530.5h0M138.2 524.3h0M132.7 536.3h0M131.9 521.9h0M132.1 530.6h0M126.7 530.4h0M135.1 526.6h0M140.5 529.5h0M133.3 531.6h0M137.6 519.4h0M147.8 527.5h0M137.9 528.1h0M136.9 526.0h0M139.7 516.1h0M136.2 530.6h0M138.9 512.5h0M145.1 519.8h0M132.4 521.4h0M137.2 524.0h0M141.0 529.2h0M136.9 519.3h0M137.6 519.3h0M131.6 517.6h0M128.3 517.2h0M145.0 523.2h0M139.4 524.5h0M136.5 536.1h0M139.8 528.2h0M130.2 533.3h0M136.9 534.8h0M137.8 533.7h0M130.7 532.1h0M139.9 533.0h0M140.7 532.0h0M134.8 518.0h0M129.5 524.4h0M141.3 527.5h0M138.9 526.6h0M136.7 529.0h0M129.8 533.3h0M129.3 528.7h0M133.6 527.3h0M132.2 520.8h0M141.0 520.4h0M137.1 526.8h0M138.4 536.2h0M134.3 519.7h0M135.3 523.4h0M140.0 530.7h0M127.0 528.1h0M140.3 533.1h0M142.7 530.2h0M131.3 524.4h0M138.7 531.7h0M128.4 526.7h0M131.3 534.8h0M150.7 528.3h0M138.8 526.9h0M140.1 533.6h0M131.7 522.1h0M144.0 522.2h0M138.2 520.4h0M136.7 517.4h0M134.5 523.0h0M129.9 529.3h0M137.8 531.3h0M142.0 523.1h0M134.3 527.9h0M127.1 525.1h0M132.8 523.7h0M143.7 524.0h0M138.8 535.6h0M138.5 522.8h0M159.5 536.4h0M132.0 532.3h0M133.0 535.3h0M141.1 530.2h0M135.3 519.1h0M130.8 528.2h0M138.2 518.8h0M138.2 521.9h0M143.4 525.6h0M132.1 525.2h0M139.7 535.8h0M136.3 530.0h0M140.5 535.1h0M132.0 528.0h0M124.4 527.1h0M132.0 529.7h0M139.5 536.0h0M135.2 522.1h0M145.6 529.7h0M132.3 518.5h0M139.5 518.3h0M142.5 522.2h0M147.3 521.7h0M126.1 528.3h0M133.6 519.0h0M132.9 530.2h0M115.5 499.9h0M141.1 524.0h0M134.3 518.2h0M146.6 522.7h0M140.5 523.9h0M133.5 536.8h0M128.9 529.3h0M148.5 527.4h0M141.6 525.1h0M132.7 526.8h0M135.1 532.4h0M135.9 522.8h0M138.7 528.2h0M130.9 527.5h0M139.3 530.0h0M143.5 527.9h0M133.5 522.1h0M139.8 515.8h0M137.3 532.6h0M148.2 523.8h0M146.4 528.6h0M128.8 528.4h0M147.8 521.9h0M144.4 520.5h0M143.3 523.4h0M142.5 517.5h0M145.9 522.1h0M140.1 515.0h0M146.7 527.2h0M138.8 512.8h0M125.4 527.5h0M138.7 538.3h0M128.4 531.2h0M140.6 529.5h0M140.5 518.7h0M149.0 527.7h0M139.8 520.9h0M134.4 532.2h0M137.4 514.4h0M132.8 525.5h0M143.7 531.3h0M139.9 513.9h0M131.1 529.9h0M131.8 526.4h0M137.7 516.7h0M132.3 530.6h0M132.8 516.6h0M131.7 535.1h0M135.6 520.4h0M145.8 520.6h0M135.5 525.7h0M140.0 517.2h0M143.0 528.9h0M138.2 529.5h0M139.2 530.9h0M128.6 531.8h0M141.9 525.6h0M138.4 522.2h0M136.1 528.8h0M133.0 518.9h0M135.4 532.8h0M139.1 531.0h0M134.3 538.4h0M131.5 524.6h0M130.5 528.3h0M143.4 517.5h0M141.8 518.4h0M132.9 521.5h0M136.0 521.0h0M138.1 533.9h0M145.7 527.9h0M143.6 525.5h0M154.4 540.2h0M129.9 531.4h0M134.2 534.9h0M139.8 517.5h0M131.1 525.8h0M141.6 522.9h0M127.1 529.9h0M133.4 531.5h0M126.5 530.3h0M135.2 528.1h0M130.9 530.3h0M132.8 525.0h0M133.4 518.0h0M137.8 530.4h0M143.9 526.3h0M131.7 520.4h0M138.3 517.6h0M127.9 519.3h0M131.3 519.5h0M146.6 530.3h0M130.6 525.2h0M144.0 526.3h0M143.7 525.3h0M137.4 534.6h0M139.0 530.9h0M132.1 532.6h0M139.5 520.7h0M140.9 501.2h0M141.9 512.6h0M147.5 516.5h0M159.0 504.8h0M154.4 508.2h0M148.8 498.2h0M148.9 522.9h0M161.8 509.2h0M155.3 511.1h0M167.3 513.5h0M151.1 516.3h0M161.6 505.6h0M151.7 519.3h0M140.0 505.8h0M155.5 504.4h0M157.2 502.7h0M145.4 513.9h0M162.7 507.4h0M151.5 514.5h0M158.3 509.8h0M161.5 512.3h0M150.1 520.6h0M154.1 518.2h0M138.6 510.9h0M152.9 508.7h0M160.0 508.9h0M153.8 524.1h0M153.1 500.5h0M148.9 513.2h0M155.5 509.0h0M144.4 506.3h0M147.2 500.2h0M142.1 508.7h0M149.7 517.8h0M137.9 509.5h0M146.5 505.5h0M146.2 510.5h0M147.6 515.7h0M151.7 513.2h0M150.5 517.0h0M151.7 500.1h0M148.7 515.1h0M159.5 518.2h0M141.7 515.2h0M145.8 506.8h0M155.6 500.8h0M149.9 494.8h0M145.1 517.3h0M148.4 513.2h0M143.5 516.7h0M154.9 503.9h0M154.6 505.4h0M151.2 520.2h0M147.3 514.3h0M156.7 500.3h0M143.3 504.6h0M151.5 501.6h0M156.3 500.3h0M162.0 506.1h0M160.5 509.9h0M137.6 508.5h0M152.7 502.7h0M143.9 513.5h0M160.0 518.0h0M154.3 516.0h0M162.9 511.0h0M154.6 504.9h0M157.2 509.9h0M153.3 510.5h0M145.0 517.3h0M154.4 525.0h0M155.2 512.7h0M142.8 509.1h0M148.3 519.0h0M150.9 521.3h0M148.9 506.5h0M148.9 517.3h0M156.2 505.7h0M157.1 509.7h0M152.4 518.1h0M144.6 507.4h0M145.2 510.0h0M141.6 514.5h0M143.6 515.1h0M148.5 516.1h0M154.5 518.3h0M152.3 511.1h0M154.8 507.4h0M144.9 503.1h0M144.6 511.0h0M146.9 512.7h0M140.0 510.7h0M153.1 525.3h0M160.5 504.9h0M149.9 513.2h0M148.3 521.8h0M148.1 518.3h0M150.1 514.4h0M147.8 506.8h0M153.8 509.7h0M149.1 507.4h0M157.6 509.3h0M136.4 507.1h0M163.5 513.3h0M153.3 508.3h0M150.5 508.0h0M143.8 513.0h0M150.4 524.5h0M144.7 508.6h0M150.9 517.2h0M161.6 506.9h0M146.7 519.2h0M150.6 518.3h0M148.0 496.3h0M149.0 517.4h0M150.8 503.1h0M151.4 516.4h0M146.8 512.9h0M150.5 519.7h0M174.5 523.8h0M154.3 508.0h0M154.6 501.3h0M142.4 514.2h0M155.2 500.3h0M149.4 512.6h0M154.1 513.0h0M161.1 504.8h0M158.5 514.3h0M143.6 516.9h0M149.8 508.3h0M144.0 512.9h0M150.3 506.4h0M155.4 499.7h0M151.6 504.3h0M153.9 498.6h0M158.4 505.5h0M148.3 501.5h0M158.8 504.3h0M154.8 500.4h0M150.7 499.7h0M143.8 512.3h0M157.9 508.0h0M148.1 511.9h0M154.2 497.7h0M156.3 501.6h0M165.3 512.7h0M155.0 500.6h0M157.0 502.0h0M156.7 510.0h0M150.1 498.7h0M157.8 508.5h0M147.0 511.7h0M143.5 514.1h0M155.0 502.1h0M149.2 515.1h0M145.9 516.9h0M149.2 507.6h0M146.3 507.2h0M159.0 508.0h0M157.5 511.2h0M161.6 507.3h0M144.7 509.9h0M148.5 508.2h0M143.3 514.7h0M149.7 511.3h0M151.9 503.4h0M158.6 503.4h0M143.1 510.3h0M148.9 496.3h0M150.5 507.3h0M146.7 500.0h0M157.7 505.8h0M160.0 505.2h0M158.4 504.5h0M154.0 503.9h0M143.8 510.3h0M142.5 512.5h0M150.5 510.0h0M144.6 517.1h0M148.1 520.3h0M153.0 497.8h0M152.8 510.9h0M146.1 492.7h0M148.8 504.5h0M143.3 507.8h0M146.7 507.3h0M150.7 509.9h0M155.1 509.8h0M145.0 499.8h0M153.7 507.9h0M149.1 520.7h0M150.2 513.7h0M151.4 496.5h0M154.2 514.9h0M150.0 501.4h0M149.2 509.0h0M165.0 515.9h0M139.9 511.9h0M160.1 515.7h0M152.3 501.3h0M150.0 511.8h0M153.2 500.9h0M144.5 507.1h0M156.0 518.6h0M154.7 516.9h0M137.0 509.7h0M157.6 515.0h0M149.3 516.4h0M149.5 522.5h0M151.6 506.9h0M147.9 513.5h0M151.6 512.2h0M155.1 522.5h0M150.7 504.4h0M152.6 503.5h0M157.6 504.3h0M155.4 502.5h0M156.7 508.4h0M152.2 498.4h0M151.4 507.9h0M152.6 518.5h0M139.0 511.8h0M156.9 500.4h0M153.5 527.2h0M154.5 510.6h0M155.8 507.4h0M158.3 507.3h0M149.8 517.3h0M147.2 515.1h0M147.3 517.6h0M145.8 512.4h0M143.1 496.8h0M148.9 514.3h0M159.3 505.7h0M147.3 515.7h0M154.8 506.7h0M146.0 504.4h0M157.2 504.6h0M147.8 504.1h0M159.7 508.6h0M153.7 506.6h0M155.5 509.4h0M158.1 501.6h0M146.9 512.4h0M147.5 518.3h0M141.3 509.7h0M160.5 508.5h0M161.6 510.2h0M158.8 505.7h0M148.6 520.0h0M156.5 508.3h0M150.7 502.7h0M154.5 512.0h0M146.9 515.6h0M148.1 503.6h0M153.6 504.1h0M144.6 507.1h0M152.8 513.2h0M152.8 504.3h0M159.3 506.9h0M144.2 510.2h0M149.5 502.4h0M144.7 516.8h0M158.9 512.8h0M144.2 516.0h0M152.5 500.7h0M156.1 506.6h0M156.4 503.9h0M158.0 512.6h0M147.1 500.6h0M145.7 511.2h0M151.3 504.6h0M146.1 516.0h0M152.5 499.0h0M156.4 520.1h0M151.9 505.1h0M151.4 513.5h0M140.4 488.5h0M158.4 511.5h0M155.6 515.3h0M157.6 503.8h0M158.7 503.1h0M146.8 507.1h0M159.4 515.8h0M147.5 510.3h0M155.4 509.5h0M157.6 502.3h0M146.9 515.1h0M147.9 496.0h0M155.7 502.8h0M154.1 516.7h0M155.0 519.7h0M150.3 513.8h0M142.1 499.4h0M152.0 505.7h0M152.8 512.1h0M148.4 504.1h0M155.6 512.0h0M162.0 506.1h0M146.5 513.8h0M153.4 505.5h0M156.8 515.4h0M156.0 517.1h0M143.2 506.9h0M149.8 513.5h0M145.0 512.2h0M145.6 507.0h0M166.5 512.9h0M151.2 519.5h0M156.6 511.2h0M154.8 501.5h0M143.9 508.4h0M157.9 506.1h0M153.5 502.1h0M153.2 527.5h0M145.4 517.0h0M146.9 519.1h0M144.0 517.4h0M152.5 507.2h0M140.7 513.4h0M153.8 510.8h0M145.7 511.6h0M157.5 501.9h0M147.2 517.1h0M144.7 515.8h0M146.7 520.5h0M141.7 508.8h0M147.4 502.0h0M150.2 515.4h0M155.4 503.3h0M143.5 503.3h0M142.6 513.4h0M145.5 495.4h0M147.2 503.0h0M147.8 507.8h0M157.1 511.8h0M151.4 503.1h0M141.6 511.6h0M147.0 508.3h0M145.9 500.8h0M153.4 522.4h0M151.9 507.8h0M159.0 509.5h0M156.5 512.1h0M148.9 506.5h0M157.6 513.6h0M149.3 511.3h0M142.1 513.6h0M147.8 516.2h0M149.2 501.9h0M144.0 510.6h0M155.3 503.2h0M157.3 501.0h0M149.3 520.1h0M155.6 510.4h0M156.8 516.1h0M145.9 513.3h0M157.0 500.9h0M170.2 515.4h0M161.4 506.6h0M148.6 500.7h0M139.3 504.4h0M154.1 512.1h0M145.0 514.6h0M147.7 506.9h0M148.7 512.3h0M159.3 508.1h0M148.8 511.1h0M160.3 508.2h0M154.3 497.7h0M141.8 514.7h0M144.1 515.9h0M149.5 508.5h0M142.4 512.4h0M146.0 519.4h0M146.0 515.0h0M155.3 503.7h0M156.8 512.2h0M153.1 514.4h0M151.2 517.7h0M148.5 507.6h0M156.0 507.2h0M145.3 518.3h0M156.8 509.6h0M146.8 501.3h0M154.6 523.2h0M154.3 503.0h0M162.4 515.6h0M158.6 509.0h0M155.9 508.1h0M149.6 504.4h0M148.8 500.6h0M149.5 507.6h0M148.8 500.4h0M150.3 504.0h0M146.1 511.4h0M155.8 509.2h0M151.3 517.3h0M159.8 513.6h0M147.1 514.8h0M142.8 508.2h0M148.1 506.2h0M144.1 503.2h0M144.9 510.0h0M154.3 517.9h0M159.7 508.2h0M144.8 515.1h0M142.0 502.7h0M158.3 506.0h0M148.0 504.1h0M156.4 507.8h0M138.2 507.7h0M155.4 502.7h0M156.0 500.0h0M161.2 506.6h0M150.9 504.9h0M151.3 511.0h0M153.5 504.1h0M157.3 506.3h0M149.9 500.3h0M156.9 509.6h0M146.7 506.6h0M139.3 510.6h0M156.6 499.7h0M160.2 489.8h0M170.6 489.7h0M153.4 493.6h0M161.1 500.5h0M159.7 486.6h0M170.5 487.6h0M150.7 489.9h0M162.5 495.3h0M163.3 505.7h0M171.0 494.5h0M169.4 482.6h0M171.0 497.1h0M164.4 492.2h0M166.9 498.6h0M166.6 490.7h0M159.8 481.8h0M171.1 486.7h0M170.4 498.8h0M155.0 495.4h0M162.0 485.3h0M169.6 484.1h0M164.9 487.4h0M166.2 489.2h0M166.0 490.9h0M171.8 493.1h0M163.0 501.0h0M161.3 496.3h0M160.2 488.0h0M157.2 495.1h0M166.6 505.5h0M156.4 497.9h0M168.6 488.9h0M160.8 503.6h0M164.3 494.2h0M160.1 497.2h0M166.6 498.4h0M173.2 491.8h0M165.1 498.7h0M172.4 486.5h0M187.8 531.3h0M162.7 476.9h0M163.4 482.1h0M167.0 494.6h0M159.0 493.2h0M169.1 487.6h0M154.1 496.6h0M161.1 478.7h0M167.7 508.6h0M159.3 498.4h0M169.5 495.3h0M158.3 494.0h0M166.5 491.7h0M168.8 488.0h0M168.5 492.6h0M159.4 500.7h0M163.6 496.1h0M159.1 497.8h0M167.2 482.2h0M179.1 492.7h0M158.5 499.9h0M156.6 499.4h0M171.6 485.3h0M168.3 495.3h0M170.8 491.9h0M163.4 489.3h0M156.5 498.0h0M161.1 504.0h0M164.0 495.0h0M170.7 504.8h0M160.5 486.0h0M162.3 503.2h0M162.4 500.6h0M173.1 499.2h0M162.8 483.6h0M157.9 497.8h0M159.5 502.4h0M162.2 491.0h0M171.2 494.9h0M158.1 483.8h0M159.0 489.1h0M164.0 493.2h0M171.4 501.0h0M158.4 494.0h0M166.9 496.9h0M164.0 480.1h0M153.2 495.8h0M171.5 489.6h0M180.0 496.3h0M166.8 494.3h0M164.3 481.6h0M167.0 486.3h0M168.6 493.4h0M168.0 489.3h0M169.2 492.8h0M175.1 493.4h0M167.6 492.1h0M163.0 499.7h0M169.5 492.4h0M171.2 490.2h0M161.3 485.9h0M162.3 497.0h0M163.0 489.5h0M157.0 492.4h0M170.0 493.9h0M168.7 488.6h0M164.9 505.4h0M167.1 492.8h0M165.1 502.8h0M168.6 482.3h0M166.7 495.2h0M163.9 506.3h0M157.8 490.3h0M171.3 490.5h0M155.7 496.1h0M171.7 488.8h0M168.7 485.5h0M165.9 499.4h0M170.8 500.0h0M162.3 490.9h0M152.5 492.0h0M170.6 486.7h0M172.4 489.3h0M173.1 502.8h0M165.4 494.2h0M162.1 491.9h0M171.5 485.8h0M167.4 503.2h0M170.1 484.8h0M168.0 491.1h0M168.1 488.9h0M159.0 495.4h0M173.8 488.5h0M167.2 502.0h0M162.8 506.3h0M183.4 501.2h0M164.2 503.7h0M159.4 492.8h0M156.6 493.7h0M166.8 486.6h0M170.3 501.7h0M163.3 492.4h0M166.1 498.3h0M176.9 491.3h0M176.4 497.8h0M166.8 487.6h0M163.2 497.4h0M167.2 485.2h0M174.2 488.8h0M167.2 492.1h0M164.8 493.7h0M163.6 499.9h0M158.0 486.7h0M161.5 499.1h0M166.8 493.7h0M162.4 492.9h0M165.3 499.2h0M162.3 490.3h0M172.6 488.3h0M176.3 492.7h0M168.4 498.2h0M169.2 503.3h0M151.6 493.0h0M162.9 490.9h0M172.2 490.1h0M159.5 499.0h0M173.9 488.0h0M153.7 496.1h0M154.5 494.1h0M167.7 497.5h0M160.8 493.0h0M166.1 496.1h0M169.4 494.7h0M178.3 492.7h0M159.0 488.1h0M179.4 495.7h0M152.0 487.8h0M160.5 490.8h0M171.3 491.5h0M165.0 502.5h0M161.7 500.3h0M169.5 495.7h0M160.4 500.3h0M164.3 480.6h0M163.3 490.4h0M166.9 494.5h0M174.4 496.6h0M171.4 496.8h0M168.2 507.0h0M174.3 500.6h0M167.6 491.1h0M167.3 498.5h0M163.4 495.9h0M171.5 485.7h0M172.7 498.7h0M160.9 498.8h0M167.0 495.9h0M155.5 495.5h0M173.6 491.3h0M178.3 494.7h0M178.8 493.4h0M160.1 497.9h0M162.4 492.5h0M169.0 484.6h0M157.8 495.5h0M176.3 491.3h0M172.5 490.4h0M155.2 491.7h0M152.5 493.3h0M171.6 500.5h0M164.4 495.1h0M166.6 481.4h0M165.8 486.1h0M171.1 495.6h0M173.3 492.5h0M164.5 478.1h0M165.9 487.6h0M163.1 495.1h0M162.1 488.8h0M162.7 496.2h0M168.9 487.7h0M159.6 502.2h0M157.2 489.5h0M156.1 488.7h0M177.0 491.5h0M166.6 485.3h0M173.2 487.0h0M175.5 495.6h0M169.7 496.4h0M170.5 487.1h0M159.1 492.5h0M158.3 499.4h0M168.3 494.0h0M155.6 492.8h0M166.4 494.7h0M165.8 496.1h0M171.8 488.1h0M161.9 493.6h0M161.8 492.4h0M159.8 497.3h0M163.1 502.3h0M163.2 497.9h0M158.4 495.4h0M162.9 501.9h0M174.4 492.2h0M154.9 497.9h0M156.4 498.4h0M161.6 480.4h0M160.4 489.6h0M159.7 498.9h0M168.2 498.8h0M173.7 490.5h0M175.4 491.6h0M169.4 495.7h0M159.9 497.5h0M165.3 485.7h0M163.8 487.6h0M162.5 504.2h0M163.0 497.5h0M168.6 498.5h0M164.6 491.1h0M188.4 508.1h0M156.5 499.3h0M157.9 487.9h0M164.0 485.6h0M161.1 488.8h0M170.6 493.3h0M170.2 485.1h0M163.7 486.8h0M167.6 486.2h0M155.5 495.7h0M167.3 494.1h0M166.8 495.9h0M161.1 504.5h0M157.6 491.0h0M169.2 490.7h0M159.3 499.8h0M159.8 499.4h0M169.4 491.9h0M161.7 498.7h0M160.6 491.7h0M164.4 492.5h0M162.8 506.3h0M170.9 505.8h0M174.6 490.8h0M162.7 495.5h0M165.5 497.7h0M159.8 499.9h0M158.9 489.9h0M176.1 486.1h0M175.1 465.2h0M186.9 472.5h0M169.7 479.9h0M177.1 481.6h0M185.2 472.0h0M180.9 480.5h0M167.0 475.2h0M181.1 472.2h0M175.0 484.0h0M182.7 472.4h0M181.8 481.7h0M184.3 486.5h0M175.4 474.5h0M171.4 484.1h0M179.7 471.2h0M177.0 480.2h0M182.1 476.3h0M167.0 479.4h0M179.7 473.6h0M180.3 470.3h0M183.9 474.9h0M175.2 481.9h0M179.6 484.7h0M172.8 479.5h0M182.3 471.8h0M183.4 475.3h0M175.9 471.6h0M173.3 485.0h0M179.1 489.2h0M173.9 479.6h0M184.1 480.4h0M184.1 467.2h0M187.0 474.7h0M186.4 472.9h0M182.7 479.9h0M183.6 470.8h0M173.7 482.5h0M177.9 467.1h0M174.2 482.5h0M189.1 480.0h0M181.7 489.2h0M176.1 479.8h0M181.1 486.3h0M180.5 474.6h0M178.5 481.1h0M182.1 474.2h0M180.8 468.1h0M182.6 482.3h0M170.9 478.9h0M176.8 474.9h0M175.7 486.7h0M174.4 478.1h0M186.9 480.2h0M187.3 473.4h0M181.5 488.9h0M186.1 477.1h0M181.2 473.3h0M182.0 478.7h0M185.1 474.1h0M186.4 471.2h0M173.2 482.0h0M174.9 480.2h0M173.3 473.8h0M174.9 466.6h0M182.9 474.7h0M174.9 471.0h0M189.9 476.4h0M173.5 483.8h0M168.6 480.3h0M184.9 476.8h0M181.4 479.4h0M182.4 469.2h0M188.0 472.1h0M175.2 483.0h0M184.4 467.1h0M180.5 476.8h0M172.4 484.1h0M181.0 476.5h0M189.0 474.2h0M186.8 470.8h0M183.8 477.7h0M173.8 482.6h0M176.0 478.1h0M180.5 481.6h0M176.8 467.3h0M180.2 481.4h0M176.7 474.2h0M187.0 477.8h0M187.9 479.0h0M182.9 481.8h0M180.0 488.3h0M178.8 483.9h0M183.1 469.1h0M174.1 485.7h0M175.5 471.7h0M175.9 487.8h0M181.2 483.7h0M177.3 485.2h0M175.2 485.8h0M177.1 488.6h0M176.7 473.0h0M185.9 473.9h0M179.5 483.5h0M182.0 480.9h0M187.2 470.5h0M177.5 478.6h0M174.4 484.3h0M174.2 473.6h0M191.4 476.3h0M178.4 483.1h0M171.4 481.2h0M189.4 473.4h0M176.2 480.1h0M178.7 477.7h0M173.7 479.3h0M176.2 477.2h0M184.7 477.2h0M174.0 486.8h0M185.7 469.0h0M172.8 466.4h0M180.4 481.1h0M176.7 488.7h0M177.4 488.8h0M184.8 478.2h0M182.1 475.0h0M187.5 472.3h0M180.5 485.2h0M185.5 478.4h0M169.9 474.1h0M178.6 487.1h0M185.1 479.2h0M191.1 478.2h0M179.9 480.0h0M172.8 477.9h0M188.1 470.8h0M189.3 478.6h0M179.2 474.9h0M188.6 486.5h0M175.2 483.8h0M175.3 487.9h0M180.6 473.2h0M173.5 477.9h0M185.9 475.8h0M180.9 469.5h0M180.8 486.4h0M184.5 475.3h0M186.8 477.0h0M177.2 486.7h0M191.1 478.5h0M179.4 483.0h0M178.2 475.2h0M182.4 480.5h0M183.5 476.1h0M186.1 473.4h0M178.9 482.6h0M183.0 465.6h0M173.1 484.8h0M180.2 482.1h0M170.9 482.5h0M176.9 485.4h0M183.9 478.0h0M173.6 485.9h0M172.4 477.7h0M182.9 482.7h0M175.3 478.6h0M180.2 483.9h0M182.0 483.1h0M183.3 467.7h0M171.8 482.4h0M187.4 476.8h0M177.9 469.7h0M189.3 476.3h0M176.1 482.7h0M183.5 469.4h0M169.0 473.7h0M181.2 476.8h0M175.6 476.3h0M194.6 462.5h0M202.1 465.3h0M204.5 463.8h0M194.3 458.4h0M202.2 457.1h0M200.4 453.1h0M193.1 464.5h0M189.8 470.1h0M186.6 466.7h0M191.7 465.3h0M191.3 445.1h0M188.0 470.3h0M200.5 473.4h0M195.9 463.9h0M199.7 455.9h0M192.7 458.0h0M204.3 463.1h0M190.4 468.8h0M193.8 471.5h0M201.3 465.6h0M183.6 454.3h0M205.0 459.7h0M196.9 477.7h0M191.3 471.0h0M203.1 460.7h0M201.4 456.2h0M197.9 474.7h0M195.4 473.8h0M190.2 459.7h0M205.1 461.1h0M192.9 461.6h0M196.4 470.8h0M193.6 455.8h0M205.7 462.7h0M199.1 467.6h0M201.9 456.1h0M190.0 464.1h0M199.0 460.5h0M193.0 471.4h0M189.5 465.8h0M202.6 455.9h0M197.5 463.8h0M187.4 462.5h0M188.4 451.4h0M185.7 465.6h0M202.5 455.1h0M203.0 455.8h0M194.7 465.0h0M192.4 464.7h0M196.7 449.0h0M201.0 454.7h0M191.9 470.1h0M189.0 456.4h0M198.5 459.6h0M200.5 460.9h0M189.4 461.9h0M195.7 462.2h0M203.6 457.5h0M194.7 469.2h0M202.0 455.5h0M188.3 457.3h0M183.9 458.4h0M197.1 457.5h0M189.8 470.4h0M188.6 467.6h0M204.8 468.4h0M203.1 457.5h0M200.6 464.7h0M187.7 462.0h0M194.4 463.5h0M184.9 465.5h0M190.2 465.2h0M188.2 457.3h0M195.5 461.7h0M195.8 459.5h0M200.9 465.8h0M206.0 461.4h0M192.2 465.6h0M197.8 459.5h0M201.1 460.6h0M202.2 461.4h0M195.3 464.4h0M191.2 469.5h0M201.2 454.2h0M203.6 459.2h0M196.5 465.3h0M184.2 463.4h0M203.2 470.3h0M193.0 458.9h0M199.3 462.4h0M199.5 457.6h0M201.5 462.2h0M193.4 453.3h0M197.1 472.6h0M200.5 457.3h0M189.4 465.1h0M202.2 470.9h0M195.1 463.2h0M198.5 456.9h0M201.0 458.4h0M185.4 467.4h0M203.7 460.3h0M198.6 466.4h0M203.4 465.4h0M199.3 472.8h0M211.5 439.6h0M214.7 452.9h0M216.0 459.6h0M210.6 453.3h0M212.0 442.3h0M216.5 439.4h0M204.3 449.1h0M201.5 452.4h0M213.9 444.5h0M205.1 450.1h0M214.2 446.9h0M206.1 456.2h0M205.7 449.7h0M217.2 454.1h0M205.6 456.9h0M211.7 440.8h0M213.3 457.8h0M216.6 450.2h0M218.4 447.7h0M213.6 457.6h0M216.0 456.8h0M218.4 443.4h0M200.7 439.0h0M212.7 439.6h0M207.9 437.0h0M217.6 441.6h0M208.8 452.5h0M203.9 450.7h0M210.8 446.9h0M210.2 447.8h0M211.7 448.5h0M220.2 444.4h0M209.4 452.0h0M211.6 450.0h0M218.4 468.0h0M199.9 442.3h0M208.2 445.2h0M210.5 445.4h0M204.5 448.9h0M206.7 442.0h0M210.5 433.3h0M214.5 445.5h0M210.4 439.2h0M201.3 453.3h0M199.5 451.3h0M203.5 453.7h0M219.2 451.6h0M216.9 445.6h0M216.8 440.6h0M213.8 445.9h0M206.9 431.0h0M209.7 443.4h0M215.9 444.3h0M207.7 450.3h0M204.2 444.5h0M212.8 451.7h0M211.1 455.9h0M208.4 453.0h0M199.8 451.4h0M212.5 447.1h0M205.3 447.5h0M208.5 439.9h0M199.5 447.4h0M212.4 447.3h0M210.5 435.8h0M219.5 436.1h0M227.4 437.9h0M228.3 419.7h0M218.2 435.2h0M235.6 427.9h0M218.9 438.7h0M218.0 429.5h0M231.1 427.6h0M223.1 436.0h0M224.6 437.8h0M220.0 439.4h0M220.5 435.1h0M214.4 432.8h0M233.3 426.2h0M220.1 431.0h0M218.9 427.4h0M226.3 434.6h0M222.9 425.1h0M216.9 433.0h0M226.6 429.3h0M217.6 427.3h0M226.9 435.3h0M232.2 427.0h0M226.8 418.6h0M227.8 440.4h0M228.4 429.1h0M222.2 418.1h0M221.3 429.7h0M221.5 435.0h0M212.2 430.4h0M230.8 429.2h0M222.4 437.6h0M220.4 434.8h0M219.7 433.0h0M227.2 442.9h0M223.0 442.0h0M219.4 437.0h0M220.5 436.8h0M219.2 434.1h0M235.4 423.4h0M245.0 420.0h0M239.5 422.3h0M237.9 429.7h0M246.9 409.3h0M233.1 419.4h0M235.9 421.5h0M244.2 414.0h0M253.3 416.7h0M242.5 405.4h0M240.8 412.9h0M236.2 421.6h0M244.9 421.5h0M248.0 410.2h0M238.2 416.4h0M243.5 410.9h0M237.9 426.8h0M245.2 410.8h0M231.7 422.3h0M242.8 434.6h0M249.1 414.8h0M241.9 421.1h0M253.2 395.1h0M259.2 391.8h0M259.4 401.8h0M259.5 399.5h0M248.9 396.6h0M258.6 393.8h0M260.2 392.2h0M248.7 404.6h0M235.3 390.1h0M250.0 403.0h0"/></g>
<line x1="43.6" y1="394.5" x2="43.6" y2="630.0" stroke="#e2e2e2" stroke-width="1.3"/>
<line x1="43.6" y1="630.0" x2="278.2" y2="630.0" stroke="#e2e2e2" stroke-width="1.3"/>
<line x1="40.1" y1="630.0" x2="43.6" y2="630.0" stroke="#e2e2e2" stroke-width="0.9"/>
<line x1="40.1" y1="614.3" x2="43.6" y2="614.3" stroke="#e2e2e2" stroke-width="0.9"/>
<line x1="40.1" y1="598.6" x2="43.6" y2="598.6" stroke="#e2e2e2" stroke-width="0.9"/>
<line x1="40.1" y1="582.9" x2="43.6" y2="582.9" stroke="#e2e2e2" stroke-width="0.9"/>
<line x1="40.1" y1="567.2" x2="43.6" y2="567.2" stroke="#e2e2e2" stroke-width="0.9"/>
<line x1="40.1" y1="551.5" x2="43.6" y2="551.5" stroke="#e2e2e2" stroke-width="0.9"/>
<line x1="40.1" y1="535.8" x2="43.6" y2="535.8" stroke="#e2e2e2" stroke-width="0.9"/>
<line x1="40.1" y1="520.1" x2="43.6" y2="520.1" stroke="#e2e2e2" stroke-width="0.9"/>
<line x1="40.1" y1="504.4" x2="43.6" y2="504.4" stroke="#e2e2e2" stroke-width="0.9"/>
<line x1="40.1" y1="488.7" x2="43.6" y2="488.7" stroke="#e2e2e2" stroke-width="0.9"/>
<line x1="40.1" y1="473.0" x2="43.6" y2="473.0" stroke="#e2e2e2" stroke-width="0.9"/>
<line x1="40.1" y1="457.3" x2="43.6" y2="457.3" stroke="#e2e2e2" stroke-width="0.9"/>
<line x1="40.1" y1="441.6" x2="43.6" y2="441.6" stroke="#e2e2e2" stroke-width="0.9"/>
<line x1="40.1" y1="425.9" x2="43.6" y2="425.9" stroke="#e2e2e2" stroke-width="0.9"/>
<line x1="40.1" y1="410.2" x2="43.6" y2="410.2" stroke="#e2e2e2" stroke-width="0.9"/>
<line x1="40.1" y1="394.5" x2="43.6" y2="394.5" stroke="#e2e2e2" stroke-width="0.9"/>
<line x1="43.6" y1="630.0" x2="43.6" y2="633.5" stroke="#e2e2e2" stroke-width="0.9"/>
<line x1="58.3" y1="630.0" x2="58.3" y2="633.5" stroke="#e2e2e2" stroke-width="0.9"/>
<line x1="72.9" y1="630.0" x2="72.9" y2="633.5" stroke="#e2e2e2" stroke-width="0.9"/>
<line x1="87.6" y1="630.0" x2="87.6" y2="633.5" stroke="#e2e2e2" stroke-width="0.9"/>
<line x1="102.2" y1="630.0" x2="102.2" y2="633.5" stroke="#e2e2e2" stroke-width="0.9"/>
<line x1="116.9" y1="630.0" x2="116.9" y2="633.5" stroke="#e2e2e2" stroke-width="0.9"/>
<line x1="131.6" y1="630.0" x2="131.6" y2="633.5" stroke="#e2e2e2" stroke-width="0.9"/>
<line x1="146.2" y1="630.0" x2="146.2" y2="633.5" stroke="#e2e2e2" stroke-width="0.9"/>
<line x1="160.9" y1="630.0" x2="160.9" y2="633.5" stroke="#e2e2e2" stroke-width="0.9"/>
<line x1="175.5" y1="630.0" x2="175.5" y2="633.5" stroke="#e2e2e2" stroke-width="0.9"/>
<line x1="190.2" y1="630.0" x2="190.2" y2="633.5" stroke="#e2e2e2" stroke-width="0.9"/>
<line x1="204.9" y1="630.0" x2="204.9" y2="633.5" stroke="#e2e2e2" stroke-width="0.9"/>
<line x1="219.5" y1="630.0" x2="219.5" y2="633.5" stroke="#e2e2e2" stroke-width="0.9"/>
<line x1="234.2" y1="630.0" x2="234.2" y2="633.5" stroke="#e2e2e2" stroke-width="0.9"/>
<line x1="248.8" y1="630.0" x2="248.8" y2="633.5" stroke="#e2e2e2" stroke-width="0.9"/>
<line x1="263.5" y1="630.0" x2="263.5" y2="633.5" stroke="#e2e2e2" stroke-width="0.9"/>
<line x1="278.2" y1="630.0" x2="278.2" y2="633.5" stroke="#e2e2e2" stroke-width="0.9"/>
<text x="33" y="559.1" font-size="16" text-anchor="middle" fill="#111">5</text>
<text x="33" y="480.6" font-size="16" text-anchor="middle" fill="#111">10</text>
<text x="33" y="402.1" font-size="16" text-anchor="middle" fill="#111">15</text>
<text x="40.75" y="653.9" font-size="16" text-anchor="middle" fill="#111">0</text>
<text x="117.85" y="653.9" font-size="16" text-anchor="middle" fill="#111">5</text>
<text x="190.75" y="653.9" font-size="16" text-anchor="middle" fill="#111">10</text>
<text x="265.5" y="653.9" font-size="16" text-anchor="middle" fill="#111">15</text>
<text x="17.4" y="381.6" font-size="13.5" fill="#111">(</text>
<text x="22.6" y="382.6" font-size="15.3" fill="#111">log</text>
<text x="44.4" y="386.8" font-size="10.5" fill="#111">2</text>
<text x="51.8" y="381.6" font-size="13.5" fill="#111">)</text>
<text x="280.2" y="646.5" font-size="13.5" fill="#111">(</text>
<text x="286.6" y="647.5" font-size="15.3" fill="#111">log</text>
<text x="307.6" y="651.0" font-size="10.5" fill="#111">2</text>
<text x="315.0" y="646.5" font-size="13.5" fill="#111">)</text>
<text x="65.6" y="677.9" font-size="18.5" fill="#111" textLength="57.5" lengthAdjust="spacingAndGlyphs">Punch</text>
<text x="135.6" y="677.9" font-size="18.5" fill="#111" textLength="69.5" lengthAdjust="spacingAndGlyphs">method</text>
<text x="210.8" y="677.9" font-size="18.5" fill="#111" textLength="80.5" lengthAdjust="spacingAndGlyphs">(TPM&gt;1)</text>
<text transform="translate(22.8,616.2) rotate(-90)" font-size="19.6" fill="#111" font-family="'Liberation Sans', 'Noto Sans CJK JP', sans-serif">Other methods（TPM&gt;1）</text>
<defs><radialGradient id="gb" cx="0.45" cy="0.35" r="0.65"><stop offset="0" stop-color="#bcd6f8"/><stop offset="0.7" stop-color="#6a9de2"/><stop offset="1" stop-color="#4a78c0"/></radialGradient></defs>
<circle cx="176.0" cy="569.6" r="4.9" fill="url(#gb)"/>
<defs><radialGradient id="gr" cx="0.45" cy="0.35" r="0.65"><stop offset="0" stop-color="#f8b4b0"/><stop offset="0.7" stop-color="#e86a66"/><stop offset="1" stop-color="#b84a48"/></radialGradient></defs>
<circle cx="176.0" cy="592.2" r="4.9" fill="url(#gr)"/>
<defs><radialGradient id="gg" cx="0.45" cy="0.35" r="0.65"><stop offset="0" stop-color="#e2f4b4"/><stop offset="0.7" stop-color="#b4d870"/><stop offset="1" stop-color="#86ac48"/></radialGradient></defs>
<circle cx="176.0" cy="614.6" r="4.9" fill="url(#gg)"/>
<text x="185" y="577.7" font-size="16.1" fill="#111">Punch vs. Punch</text>
<text x="185" y="600.3" font-size="16.1" fill="#111">Punch vs. Scratch</text>
<text x="185" y="622.7" font-size="16.1" fill="#111">Punch vs. Trypsin</text>
</svg>
</body></html>
